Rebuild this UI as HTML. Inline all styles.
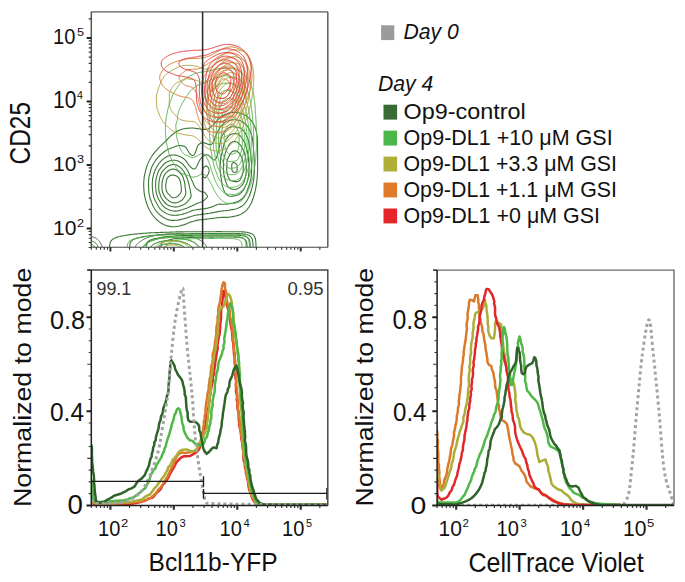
<!DOCTYPE html><html><head><meta charset="utf-8"><style>html,body{margin:0;padding:0;background:#fff;width:685px;height:582px;overflow:hidden}</style></head><body><svg width="685" height="582" viewBox="0 0 685 582" style="position:absolute;left:0;top:0" font-family='"Liberation Sans", sans-serif'><rect width="685" height="582" fill="#fff"/><clipPath id="ctop"><rect x="91.3" y="11.8" width="236.5" height="235.39999999999998"/></clipPath><g clip-path="url(#ctop)"><path d="M234.3,275.3L233.3,275.3L232.3,275.3L231.3,275.3L230.3,275.3L229.3,275.3L228.3,275.3L227.3,275.3L226.3,275.3L225.3,275.3L224.3,275.3L223.3,275.3L222.3,275.3L221.3,275.3L220.3,275.3L219.8,275.3L218.8,275.3L217.8,275.3L217.0,275.3L216.3,275.3L215.3,275.3L214.3,275.3L213.3,275.3L212.3,275.3L211.3,275.4L210.3,275.4L209.3,275.4L208.3,275.3L207.3,275.3L206.3,275.3L205.6,275.3L204.8,275.3L203.8,275.3L202.8,275.3L202.0,275.3L201.3,275.3L200.3,275.3L199.7,275.3L198.8,275.3L197.8,275.3L196.8,275.3L195.8,275.3L194.8,275.3L193.8,275.3L192.8,275.3L191.8,275.2L190.8,275.2L189.8,275.2L188.8,275.2L187.8,275.2L186.8,275.2L185.8,275.2L184.8,275.2L183.8,275.2L182.8,275.2L181.8,275.1L180.8,275.1L179.8,275.1L178.8,275.1L177.8,275.1L176.8,275.1L175.8,275.0L174.8,275.0L173.8,275.0L172.8,275.0L171.8,274.9L170.8,274.9L169.8,274.9L168.8,274.8L168.1,274.8L167.3,274.8L166.3,274.8L165.3,274.7L164.3,274.7L163.3,274.7L162.3,274.6L161.3,274.6L160.3,274.6L159.3,274.5L158.3,274.5L157.3,274.5L156.3,274.4L155.3,274.3L154.8,274.3L153.8,274.3L152.8,274.2L151.8,274.2L150.8,274.1L149.8,274.1L148.8,274.0L147.8,274.0L146.8,273.9L145.8,273.8L145.3,273.8L144.3,273.7L143.3,273.6L142.3,273.5L141.3,273.5L140.3,273.4L139.3,273.3L138.8,273.3L137.8,273.2L136.8,273.1L135.8,273.0L134.8,272.9L133.9,272.8L133.3,272.7L132.3,272.6L131.3,272.5L130.3,272.4L129.3,272.3L128.8,272.2L127.8,272.1L126.8,272.0L125.9,271.8L125.3,271.7L124.3,271.5L123.3,271.3L122.8,271.2L121.8,271.0L120.9,270.8L120.3,270.7L119.3,270.4L118.8,270.3L117.8,270.0L117.2,269.8L116.3,269.5L115.8,269.3L114.8,268.8L114.3,268.5L113.8,268.2L113.1,267.8L112.5,267.3L111.9,266.8L111.5,266.3L111.1,265.8L110.8,265.3L110.3,264.3L110.2,263.8L110.0,262.8L109.9,261.8L109.9,260.8L109.9,259.8L109.9,258.8L109.8,257.8L109.8,256.8L109.8,255.8L109.8,255.3L109.8,254.3L109.7,253.3L109.7,252.3L109.6,251.3L109.6,250.3L109.6,249.3L109.6,248.3L109.6,247.3L109.6,246.3L109.7,245.3L109.8,244.5L109.9,243.8L110.2,242.8L110.3,242.3L110.8,241.3L111.1,240.8L111.5,240.3L112.0,239.8L112.6,239.3L113.3,238.9L113.8,238.6L114.4,238.3L115.3,237.9L115.8,237.7L116.8,237.3L117.3,237.1L118.3,236.8L118.8,236.7L119.8,236.5L120.5,236.3L121.3,236.1L122.3,236.0L123.1,235.8L123.8,235.7L124.8,235.5L125.8,235.3L126.3,235.2L127.3,235.1L128.3,234.9L129.2,234.8L129.8,234.7L130.8,234.6L131.8,234.5L132.8,234.3L133.3,234.3L134.3,234.1L135.3,234.0L136.3,234.0L137.3,233.9L138.3,233.8L138.8,233.8L139.8,233.7L140.8,233.6L141.8,233.5L142.8,233.4L143.8,233.3L144.3,233.3L145.3,233.2L146.3,233.1L147.3,233.0L148.3,233.0L149.3,232.9L150.3,232.9L151.3,232.8L152.3,232.8L152.8,232.8L153.8,232.7L154.8,232.7L155.8,232.6L156.8,232.6L157.8,232.6L158.8,232.5L159.8,232.5L160.8,232.4L161.8,232.4L162.8,232.4L163.8,232.3L164.8,232.3L165.3,232.3L166.3,232.3L167.3,232.2L168.3,232.2L169.3,232.2L170.3,232.1L171.3,232.1L172.3,232.0L173.3,232.0L174.3,232.0L175.3,232.0L176.3,231.9L177.3,231.9L178.3,231.9L179.3,231.9L180.3,231.9L181.3,231.9L182.3,231.9L183.3,231.9L184.3,231.8L185.3,231.8L186.3,231.8L186.8,231.8L187.8,231.8L188.8,231.8L189.8,231.7L190.8,231.7L191.8,231.7L192.8,231.7L193.8,231.7L194.8,231.7L195.8,231.7L196.8,231.7L197.8,231.7L198.8,231.7L199.8,231.7L200.8,231.7L201.8,231.7L202.8,231.7L203.8,231.7L204.8,231.7L205.8,231.7L206.8,231.7L207.8,231.7L208.8,231.7L209.8,231.7L210.8,231.7L211.8,231.7L212.8,231.7L213.8,231.7L214.8,231.7L215.8,231.7L216.8,231.6L217.8,231.6L218.8,231.6L219.8,231.6L220.8,231.6L221.8,231.7L222.8,231.7L223.8,231.7L224.8,231.7L225.8,231.7L226.8,231.7L227.8,231.7L228.8,231.7L229.8,231.7L230.8,231.7L231.8,231.7L232.8,231.7L233.8,231.7L234.8,231.7L235.8,231.7L236.8,231.7L237.8,231.7L238.8,231.7L239.8,231.8L240.5,231.8L241.3,231.8L242.3,231.9L243.3,231.9L244.3,232.0L245.3,232.1L246.3,232.2L246.8,232.3L247.8,232.5L248.8,232.7L249.3,232.9L250.3,233.2L250.8,233.4L251.7,233.8L252.3,234.1L252.8,234.5L253.3,234.9L253.8,235.5L254.3,236.2L254.7,236.8L254.9,237.3L255.2,238.3L255.4,238.8L255.6,239.8L255.7,240.8L255.8,241.8L255.8,242.3L255.9,243.3L255.9,244.3L256.0,245.3L256.0,246.3L256.0,247.3L256.0,248.3L256.0,249.3L256.0,250.3L255.9,251.3L255.9,252.3L255.9,253.3L255.9,254.3L256.0,255.3L256.0,256.3L256.0,257.3L256.0,258.3L256.0,259.3L256.0,260.3L256.0,261.3L256.0,262.3L255.9,263.3L255.9,264.3L255.8,265.3L255.8,265.8L255.7,266.8L255.5,267.8L255.3,268.6L255.1,269.3L254.8,270.0L254.4,270.8L254.0,271.3L253.5,271.8L253.0,272.3L252.3,272.8L251.8,273.1L251.3,273.4L250.3,273.8L249.8,274.0L248.8,274.3L248.3,274.4L247.3,274.6L246.3,274.7L245.8,274.8L244.8,274.9L243.8,275.0L242.8,275.1L241.8,275.2L240.8,275.2L239.8,275.2L238.8,275.3L237.8,275.3L236.8,275.3L235.8,275.3L234.8,275.3L234.3,275.3M239.8,273.3L238.8,273.3L237.8,273.4L236.8,273.4L235.8,273.4L234.8,273.4L233.8,273.4L232.8,273.5L231.8,273.5L230.8,273.5L229.8,273.5L228.8,273.5L227.8,273.5L226.8,273.5L225.8,273.5L224.8,273.5L223.8,273.5L222.8,273.5L221.8,273.5L220.8,273.5L219.8,273.5L218.8,273.5L217.8,273.4L216.8,273.5L215.8,273.5L214.8,273.5L213.8,273.5L212.8,273.5L211.8,273.5L210.8,273.5L209.8,273.5L208.8,273.5L207.8,273.5L206.8,273.5L205.8,273.5L204.8,273.5L203.8,273.5L202.8,273.5L201.8,273.5L200.8,273.5L199.8,273.4L198.8,273.4L197.8,273.4L196.8,273.4L195.8,273.4L194.8,273.4L193.8,273.4L192.8,273.4L191.8,273.4L190.8,273.3L189.8,273.3L188.8,273.3L187.8,273.3L186.9,273.3L186.3,273.3L185.3,273.3L184.3,273.3L183.3,273.2L182.3,273.2L181.3,273.2L180.3,273.1L179.3,273.1L178.3,273.1L177.3,273.1L176.3,273.0L175.3,273.0L174.3,272.9L173.3,272.9L172.3,272.8L171.7,272.8L170.8,272.8L169.8,272.7L168.8,272.7L167.8,272.6L166.8,272.6L165.8,272.5L164.8,272.5L163.8,272.4L162.8,272.4L161.8,272.3L161.3,272.3L160.3,272.2L159.3,272.1L158.3,272.1L157.3,272.0L156.3,271.9L155.6,271.8L154.8,271.7L153.8,271.6L152.8,271.6L151.8,271.5L150.8,271.4L150.3,271.3L149.3,271.2L148.3,271.1L147.3,270.9L146.3,270.8L145.8,270.7L144.8,270.6L143.8,270.4L143.3,270.3L142.3,270.1L141.3,269.9L140.8,269.7L139.8,269.5L138.9,269.3L138.3,269.1L137.3,268.8L136.8,268.7L135.8,268.3L135.3,268.1L134.4,267.8L133.8,267.5L133.3,267.2L132.6,266.8L131.9,266.3L131.5,265.8L131.1,265.3L130.8,264.8L130.3,263.8L130.1,263.3L129.9,262.3L129.8,261.6L129.8,260.8L129.7,259.8L129.7,258.8L129.7,257.8L129.7,256.8L129.7,255.8L129.7,254.8L129.8,253.8L129.8,253.3L129.9,252.3L129.9,251.3L129.9,250.3L129.9,249.3L129.9,248.3L129.9,247.3L129.9,246.3L129.9,245.3L129.9,244.3L130.1,243.3L130.3,242.6L130.7,241.8L131.1,241.3L131.6,240.8L132.2,240.3L132.8,239.9L133.3,239.6L133.9,239.3L134.8,238.9L135.3,238.7L136.3,238.4L136.8,238.3L137.8,238.0L138.8,237.8L139.3,237.7L140.3,237.5L141.0,237.3L141.8,237.1L142.8,236.9L143.3,236.8L144.3,236.6L145.3,236.4L145.9,236.3L146.8,236.2L147.8,236.0L148.8,235.9L149.4,235.8L150.3,235.7L151.3,235.6L152.3,235.5L153.3,235.4L154.3,235.3L154.8,235.3L155.8,235.2L156.8,235.1L157.8,235.0L158.8,235.0L159.8,234.9L160.8,234.8L161.3,234.8L162.3,234.7L163.3,234.6L164.3,234.5L165.3,234.5L166.3,234.4L167.3,234.4L168.3,234.4L169.3,234.3L169.9,234.3L170.8,234.2L171.8,234.2L172.8,234.1L173.8,234.0L174.8,234.0L175.8,234.0L176.8,233.9L177.8,233.9L178.8,233.9L179.8,233.9L180.8,233.9L181.8,233.8L182.7,233.8L183.3,233.8L184.3,233.8L185.3,233.7L186.3,233.7L187.3,233.7L188.3,233.7L189.3,233.7L190.3,233.6L191.3,233.6L192.3,233.6L193.3,233.6L194.3,233.6L195.3,233.6L196.3,233.6L197.3,233.6L198.3,233.6L199.3,233.6L200.3,233.6L201.3,233.6L202.3,233.5L203.3,233.5L204.3,233.5L205.3,233.5L206.3,233.5L207.3,233.5L208.3,233.5L209.3,233.6L210.3,233.6L211.3,233.6L212.3,233.6L213.3,233.6L214.3,233.5L215.3,233.5L216.3,233.5L217.3,233.5L218.3,233.5L219.3,233.5L220.3,233.5L221.3,233.5L222.3,233.5L223.3,233.5L224.3,233.5L225.3,233.5L226.3,233.5L227.3,233.5L228.3,233.5L229.3,233.5L230.3,233.5L231.3,233.5L232.3,233.5L233.3,233.5L234.3,233.5L235.3,233.5L236.3,233.5L237.3,233.6L238.3,233.6L239.3,233.6L240.3,233.7L241.3,233.8L241.8,233.8L242.8,233.9L243.8,234.0L244.8,234.1L245.6,234.3L246.3,234.5L247.3,234.7L247.8,234.9L248.7,235.3L249.3,235.6L249.8,235.9L250.3,236.3L250.8,236.8L251.3,237.5L251.8,238.3L252.0,238.8L252.3,239.7L252.5,240.3L252.7,241.3L252.8,242.3L252.8,242.8L252.9,243.8L253.0,244.8L253.0,245.8L253.0,246.8L253.0,247.8L253.0,248.8L253.0,249.8L253.0,250.8L253.0,251.8L253.0,252.8L252.9,253.8L252.9,254.8L252.9,255.8L252.9,256.8L252.9,257.8L253.0,258.8L253.0,259.8L253.0,260.8L253.0,261.8L253.0,262.8L252.9,263.8L252.9,264.8L252.8,265.3L252.6,266.3L252.4,267.3L252.3,267.8L251.8,268.8L251.5,269.3L251.2,269.8L250.7,270.3L250.1,270.8L249.4,271.3L248.8,271.6L248.3,271.9L247.3,272.3L246.8,272.4L245.8,272.7L245.1,272.8L244.3,272.9L243.3,273.1L242.3,273.2L241.3,273.2L240.3,273.3L239.8,273.3M231.3,271.8L230.3,271.8L229.3,271.8L228.3,271.9L227.3,271.9L226.3,271.9L225.3,271.8L224.3,271.8L223.3,271.8L222.3,271.9L221.3,271.9L220.3,271.9L219.3,271.8L218.3,271.8L217.3,271.8L216.3,271.8L215.3,271.8L214.3,271.9L213.3,271.9L212.3,271.9L211.3,271.9L210.3,271.9L209.3,271.9L208.3,271.9L207.3,271.8L206.3,271.8L205.5,271.8L205.1,271.8L204.3,271.8L203.3,271.8L202.3,271.8L201.3,271.8L200.7,271.8L199.8,271.8L198.8,271.8L197.8,271.7L196.8,271.7L195.8,271.7L194.8,271.7L193.8,271.7L192.8,271.7L191.8,271.6L190.8,271.6L189.8,271.6L188.8,271.6L187.8,271.6L186.8,271.6L185.8,271.5L184.8,271.5L183.8,271.5L182.8,271.4L181.8,271.4L180.8,271.3L180.2,271.3L179.3,271.3L178.3,271.2L177.3,271.1L176.3,271.0L175.3,270.9L174.3,270.9L173.5,270.8L172.8,270.8L171.8,270.7L170.8,270.6L169.8,270.6L168.8,270.5L167.8,270.4L166.8,270.3L166.3,270.3L165.3,270.2L164.3,270.1L163.3,270.0L162.3,269.9L161.5,269.8L160.8,269.7L159.8,269.5L158.9,269.3L158.3,269.2L157.3,269.0L156.5,268.8L155.8,268.7L154.8,268.5L154.0,268.3L153.3,268.1L152.3,267.9L151.8,267.7L150.8,267.3L150.3,267.1L149.5,266.8L148.8,266.4L148.3,266.1L147.8,265.7L147.3,265.1L146.8,264.4L146.5,263.8L146.2,263.3L145.9,262.3L145.7,261.8L145.5,260.8L145.3,259.9L145.2,259.3L145.1,258.3L145.1,257.3L145.1,256.3L145.3,255.3L145.3,254.8L145.4,253.8L145.5,252.8L145.5,251.8L145.5,250.8L145.6,249.8L145.8,248.8L145.9,248.3L146.0,247.3L146.1,246.3L146.2,245.3L146.3,244.6L146.5,243.8L146.8,243.0L147.2,242.3L147.6,241.8L148.2,241.3L148.8,240.8L149.3,240.6L149.8,240.3L150.8,239.9L151.3,239.7L152.3,239.3L152.8,239.2L153.8,238.9L154.3,238.8L155.3,238.5L156.3,238.3L156.8,238.2L157.8,238.0L158.8,237.8L159.3,237.7L160.3,237.5L161.3,237.4L161.8,237.3L162.8,237.1L163.8,236.9L164.8,236.8L165.3,236.7L166.3,236.7L167.3,236.6L168.3,236.5L169.3,236.4L170.3,236.3L170.8,236.3L171.8,236.2L172.8,236.1L173.8,236.0L174.8,236.0L175.8,235.9L176.8,235.9L177.8,235.8L178.4,235.8L179.3,235.8L180.3,235.7L181.3,235.7L182.3,235.6L183.3,235.6L184.3,235.5L185.3,235.5L186.3,235.5L187.3,235.5L188.3,235.4L189.3,235.4L190.3,235.4L191.3,235.4L192.3,235.4L193.3,235.3L194.3,235.3L194.8,235.3L195.8,235.3L196.8,235.2L197.8,235.2L198.8,235.2L199.8,235.2L200.8,235.2L201.8,235.2L202.8,235.2L203.8,235.2L204.8,235.2L205.8,235.2L206.8,235.2L207.8,235.2L208.8,235.2L209.8,235.2L210.8,235.2L211.8,235.2L212.8,235.2L213.8,235.2L214.8,235.2L215.8,235.1L216.8,235.1L217.8,235.1L218.8,235.1L219.8,235.1L220.8,235.1L221.8,235.1L222.8,235.1L223.8,235.1L224.8,235.1L225.8,235.1L226.8,235.1L227.8,235.1L228.8,235.1L229.8,235.1L230.8,235.1L231.8,235.1L232.8,235.2L233.8,235.2L234.8,235.2L235.8,235.2L236.8,235.2L237.8,235.2L238.6,235.3L239.3,235.4L240.3,235.4L241.3,235.6L242.3,235.7L243.0,235.8L243.8,236.0L244.8,236.2L245.3,236.4L246.3,236.8L246.8,237.0L247.3,237.3L247.9,237.8L248.4,238.3L248.8,238.9L249.3,239.8L249.5,240.3L249.8,241.3L249.9,241.8L250.0,242.8L250.1,243.8L250.2,244.8L250.2,245.8L250.2,246.8L250.2,247.8L250.2,248.8L250.3,249.8L250.3,250.7L250.3,251.3L250.3,252.3L250.3,253.3L250.3,253.8L250.3,254.8L250.2,255.8L250.2,256.8L250.2,257.8L250.3,258.8L250.3,259.3L250.3,260.3L250.3,261.3L250.3,262.3L250.3,262.9L250.2,263.8L250.1,264.8L249.9,265.8L249.8,266.3L249.4,267.3L249.1,267.8L248.8,268.3L248.3,268.9L247.8,269.3L247.1,269.8L246.3,270.2L245.8,270.5L244.8,270.8L244.3,270.9L243.3,271.2L242.5,271.3L241.8,271.4L240.8,271.5L239.8,271.6L238.8,271.6L237.8,271.7L236.8,271.7L235.8,271.8L234.8,271.8L233.8,271.8L232.8,271.8L231.8,271.8L231.3,271.8M236.8,269.8L235.8,269.9L234.8,269.9L233.8,269.9L232.8,269.9L231.8,269.9L230.8,269.9L229.8,269.9L228.8,269.9L227.8,269.9L226.8,270.0L225.8,270.0L224.8,270.0L223.8,270.0L222.8,270.0L221.8,270.1L220.8,270.1L219.8,270.1L218.8,270.0L217.8,270.0L216.8,270.0L215.8,270.0L214.8,270.0L213.8,270.0L212.8,270.1L211.8,270.0L210.8,270.0L209.8,270.0L208.8,270.0L207.8,270.0L206.8,269.9L205.8,269.9L204.8,269.9L203.8,269.9L202.8,269.9L201.8,269.9L200.8,269.9L199.8,269.9L198.8,269.9L197.8,269.9L196.8,269.8L196.1,269.8L195.3,269.8L194.3,269.7L193.3,269.6L192.3,269.6L191.3,269.5L190.3,269.5L189.3,269.5L188.3,269.5L187.3,269.5L186.3,269.4L185.3,269.3L184.8,269.3L183.8,269.2L182.8,269.1L181.8,269.1L180.8,269.0L179.8,268.9L178.8,268.8L178.3,268.7L177.3,268.6L176.3,268.4L175.8,268.3L174.8,268.1L173.8,267.9L172.8,267.8L172.3,267.8L171.3,267.6L170.3,267.4L169.8,267.3L168.8,267.1L167.8,266.8L167.3,266.7L166.3,266.4L165.8,266.3L164.8,265.9L164.3,265.7L163.7,265.3L163.0,264.8L162.5,264.3L162.1,263.8L161.8,263.3L161.4,262.3L161.2,261.8L161.1,260.8L161.0,259.8L161.1,258.8L161.1,257.8L161.2,256.8L161.3,256.0L161.3,255.3L161.3,254.6L161.2,253.8L161.1,252.8L161.1,251.8L161.2,250.8L161.3,250.2L161.4,249.3L161.5,248.3L161.4,247.3L161.3,246.6L161.2,245.8L161.1,244.8L161.2,243.8L161.5,243.3L162.0,242.8L162.7,242.3L163.3,242.0L163.8,241.7L164.7,241.3L165.3,241.1L166.0,240.8L166.8,240.6L167.8,240.3L168.3,240.2L169.3,239.9L169.8,239.8L170.8,239.5L171.5,239.3L172.3,239.1L173.3,239.0L174.3,238.8L174.8,238.8L175.8,238.6L176.8,238.5L177.8,238.3L178.3,238.3L179.3,238.2L180.3,238.1L181.3,238.0L182.3,237.9L183.3,237.8L183.8,237.8L184.8,237.7L185.8,237.7L186.8,237.7L187.8,237.6L188.8,237.5L189.8,237.5L190.8,237.5L191.8,237.4L192.8,237.4L193.8,237.3L194.3,237.3L195.3,237.2L196.3,237.2L197.3,237.1L198.3,237.1L199.3,237.1L200.3,237.1L201.3,237.1L202.3,237.0L203.3,237.0L204.3,237.0L205.3,237.0L206.3,237.0L207.3,237.0L208.3,237.0L209.3,237.1L210.3,237.1L211.3,237.1L212.3,237.1L213.3,237.1L214.3,237.0L215.3,237.0L216.3,237.0L217.3,236.9L218.3,237.0L219.3,237.0L220.3,237.0L221.3,237.1L222.3,237.1L223.3,237.0L224.3,237.0L225.3,237.0L226.3,237.0L227.3,237.0L228.3,237.0L229.3,237.0L230.3,237.0L231.3,237.0L232.3,237.0L233.3,237.0L234.3,237.1L235.3,237.1L236.3,237.1L237.3,237.2L238.3,237.3L238.8,237.3L239.8,237.5L240.8,237.7L241.3,237.8L242.3,238.1L243.0,238.3L243.8,238.7L244.3,239.0L244.8,239.4L245.3,239.9L245.8,240.6L246.2,241.3L246.4,241.8L246.7,242.8L246.8,243.4L246.9,244.3L247.0,245.3L247.0,246.3L247.0,247.3L247.0,248.3L247.0,249.3L247.0,250.3L247.1,251.3L247.2,252.3L247.2,253.3L247.3,254.3L247.2,255.3L247.2,256.3L247.2,257.3L247.1,258.3L247.1,259.3L247.1,260.3L247.1,261.3L247.1,262.3L247.0,263.3L246.9,264.3L246.7,264.8L246.4,265.8L246.1,266.3L245.7,266.8L245.3,267.3L244.7,267.8L244.0,268.3L243.3,268.6L242.8,268.8L241.8,269.1L240.8,269.3L240.3,269.4L239.3,269.5L238.3,269.7L237.3,269.8L236.8,269.8" stroke="#3b7535" stroke-width="1.1" fill="none" stroke-linejoin="round"/><path d="M177.8,265.8L176.8,265.9L175.8,266.0L174.8,266.0L173.8,266.1L172.8,266.1L171.8,266.1L170.8,266.1L169.8,266.1L168.8,266.1L167.8,266.1L166.8,266.0L165.8,266.0L164.8,265.9L163.8,265.8L163.3,265.8L162.3,265.7L161.3,265.5L160.3,265.4L159.8,265.3L158.8,265.2L157.8,265.0L156.8,264.9L156.3,264.8L155.3,264.6L154.3,264.4L153.8,264.3L152.8,264.0L151.9,263.8L151.3,263.7L150.3,263.3L149.8,263.2L148.8,262.8L148.3,262.6L147.4,262.3L146.8,262.1L146.2,261.8L145.3,261.4L144.8,261.2L144.1,260.8L143.3,260.4L142.8,260.1L142.2,259.8L141.4,259.3L140.8,258.9L140.3,258.6L139.8,258.3L139.1,257.8L138.4,257.3L137.8,256.8L137.3,256.3L136.9,255.8L136.5,255.3L136.1,254.8L135.8,254.3L135.3,253.3L135.1,252.8L134.9,251.8L134.8,251.3L134.7,250.3L134.7,249.3L134.8,248.5L135.0,247.8L135.3,246.8L135.5,246.3L135.8,245.8L136.3,245.1L136.8,244.4L137.3,243.9L137.8,243.4L138.3,243.0L138.8,242.6L139.3,242.2L139.8,241.8L140.5,241.3L141.2,240.8L141.8,240.5L142.3,240.2L142.9,239.8L143.8,239.3L144.3,239.1L144.9,238.8L145.8,238.4L146.3,238.2L147.2,237.8L147.8,237.5L148.5,237.3L149.3,237.0L150.0,236.8L150.8,236.6L151.8,236.3L152.3,236.2L153.3,236.0L154.1,235.8L154.8,235.6L155.8,235.4L156.3,235.3L157.3,235.1L158.3,234.9L159.2,234.8L159.8,234.7L160.8,234.6L161.8,234.5L162.8,234.4L163.8,234.3L164.3,234.3L165.3,234.2L166.3,234.1L167.3,234.0L168.3,234.0L169.3,233.9L170.3,233.9L171.3,233.9L172.3,234.0L173.3,234.0L174.3,234.0L175.3,234.0L176.3,234.1L177.3,234.1L178.3,234.2L178.9,234.3L179.8,234.4L180.8,234.5L181.8,234.6L182.8,234.8L183.3,234.9L184.3,235.0L185.3,235.2L185.8,235.3L186.8,235.5L187.8,235.7L188.3,235.9L189.3,236.1L190.1,236.3L190.8,236.5L191.8,236.7L192.3,236.9L193.3,237.2L193.8,237.4L194.8,237.8L195.3,238.0L196.1,238.3L196.8,238.6L197.3,238.8L198.3,239.3L198.8,239.6L199.3,239.8L200.1,240.3L200.8,240.7L201.3,241.0L201.8,241.4L202.4,241.8L203.0,242.3L203.6,242.8L204.2,243.3L204.6,243.8L205.1,244.3L205.5,244.8L205.8,245.3L206.3,246.1L206.7,246.8L206.9,247.3L207.3,248.3L207.4,248.8L207.5,249.8L207.5,250.8L207.3,251.8L207.2,252.3L206.8,253.2L206.5,253.8L206.2,254.3L205.8,254.9L205.3,255.5L204.8,256.1L204.3,256.6L203.8,257.1L203.3,257.5L202.8,257.9L202.3,258.3L201.5,258.8L200.8,259.3L200.3,259.6L199.8,259.9L199.0,260.3L198.3,260.7L197.8,261.0L197.1,261.3L196.3,261.7L195.8,261.9L194.8,262.2L194.3,262.4L193.3,262.8L192.8,262.9L191.8,263.3L191.3,263.4L190.3,263.7L189.8,263.9L188.8,264.1L188.0,264.3L187.3,264.4L186.3,264.6L185.4,264.8L184.8,264.9L183.8,265.1L182.8,265.3L182.3,265.3L181.3,265.5L180.3,265.6L179.3,265.7L178.3,265.8L177.8,265.8M175.8,262.3L174.8,262.4L173.8,262.5L172.8,262.5L171.8,262.5L170.8,262.5L169.8,262.4L168.8,262.4L167.8,262.4L166.8,262.3L166.2,262.3L165.3,262.2L164.3,262.1L163.3,262.0L162.3,261.8L161.8,261.7L160.8,261.6L159.8,261.4L159.2,261.3L158.3,261.1L157.3,260.9L156.8,260.8L155.8,260.6L154.9,260.3L154.3,260.1L153.4,259.8L152.8,259.6L152.1,259.3L151.3,259.0L150.8,258.8L149.8,258.3L149.3,258.0L148.8,257.8L148.0,257.3L147.3,256.9L146.8,256.5L146.3,256.1L145.8,255.6L145.3,255.1L144.8,254.4L144.4,253.8L144.1,253.3L143.8,252.8L143.3,251.8L143.1,251.3L142.9,250.3L142.8,249.8L142.8,248.8L142.8,248.3L143.2,247.3L143.5,246.8L143.9,246.3L144.3,245.8L144.8,245.3L145.4,244.8L146.0,244.3L146.7,243.8L147.3,243.3L147.8,243.0L148.3,242.6L148.8,242.3L149.7,241.8L150.3,241.5L150.8,241.2L151.8,240.8L152.3,240.6L153.2,240.3L153.8,240.1L154.8,239.8L155.3,239.6L156.3,239.3L156.8,239.2L157.8,238.9L158.3,238.8L159.3,238.6L160.3,238.4L161.1,238.3L161.8,238.2L162.8,238.1L163.8,238.0L164.8,237.9L165.8,237.8L166.3,237.8L167.3,237.7L168.3,237.6L169.3,237.5L170.3,237.5L171.3,237.4L172.3,237.5L173.3,237.5L174.3,237.6L175.3,237.6L176.3,237.7L176.8,237.8L177.8,237.9L178.8,238.1L179.8,238.2L180.3,238.3L181.3,238.4L182.3,238.6L183.3,238.8L183.8,238.9L184.8,239.2L185.3,239.3L186.3,239.7L186.8,239.8L187.8,240.1L188.5,240.3L189.3,240.5L190.2,240.8L190.8,241.0L191.5,241.3L192.3,241.7L192.8,241.9L193.4,242.3L194.2,242.8L194.8,243.2L195.3,243.6L195.8,244.0L196.3,244.4L196.8,244.9L197.3,245.5L197.8,246.1L198.3,246.7L198.7,247.3L198.9,247.8L199.3,248.8L199.4,249.3L199.4,250.3L199.3,251.0L199.1,251.8L198.8,252.4L198.3,253.3L198.0,253.8L197.6,254.3L197.2,254.8L196.7,255.3L196.2,255.8L195.6,256.3L195.0,256.8L194.3,257.2L193.8,257.5L193.3,257.8L192.3,258.3L191.8,258.5L191.1,258.8L190.3,259.1L189.8,259.4L188.8,259.8L188.3,260.0L187.3,260.3L186.8,260.4L185.8,260.7L185.3,260.8L184.3,261.0L183.3,261.2L182.8,261.3L181.8,261.5L180.8,261.7L179.9,261.8L179.3,261.9L178.3,262.0L177.3,262.2L176.3,262.3L175.8,262.3M175.3,259.3L174.3,259.4L173.3,259.5L172.3,259.5L171.3,259.5L170.3,259.4L169.3,259.4L168.3,259.4L167.3,259.4L166.6,259.3L165.8,259.2L164.8,259.0L163.8,258.8L163.3,258.7L162.3,258.6L161.3,258.4L160.8,258.3L159.8,258.0L158.9,257.8L158.3,257.6L157.3,257.3L156.8,257.1L156.0,256.8L155.3,256.5L154.8,256.2L154.0,255.8L153.3,255.4L152.8,255.1L152.3,254.8L151.7,254.3L151.1,253.8L150.7,253.3L150.3,252.8L149.8,251.8L149.7,251.3L149.6,250.3L149.7,249.3L149.8,248.7L150.2,247.8L150.4,247.3L150.8,246.8L151.3,246.2L151.8,245.8L152.4,245.3L153.1,244.8L153.8,244.4L154.3,244.1L154.8,243.8L155.7,243.3L156.3,243.0L156.8,242.8L157.8,242.5L158.3,242.3L159.3,242.0L160.1,241.8L160.8,241.6L161.8,241.4L162.4,241.3L163.3,241.2L164.3,241.0L165.3,240.9L166.3,240.9L167.1,240.8L167.8,240.7L168.8,240.6L169.8,240.6L170.8,240.5L171.8,240.6L172.8,240.6L173.8,240.7L174.8,240.7L175.8,240.8L176.3,240.8L177.3,241.0L178.3,241.2L179.0,241.3L179.8,241.5L180.8,241.7L181.3,241.9L182.3,242.1L183.0,242.3L183.8,242.5L184.6,242.8L185.3,243.0L186.0,243.3L186.8,243.6L187.3,243.8L188.3,244.3L188.8,244.6L189.3,244.9L190.0,245.3L190.6,245.8L191.1,246.3L191.5,246.8L191.8,247.3L192.3,248.2L192.5,248.8L192.6,249.8L192.4,250.8L192.3,251.3L191.9,252.3L191.6,252.8L191.2,253.3L190.7,253.8L190.2,254.3L189.5,254.8L188.8,255.3L188.3,255.5L187.8,255.8L186.8,256.3L186.3,256.5L185.6,256.8L184.8,257.1L184.3,257.3L183.3,257.7L182.8,257.9L181.8,258.2L181.2,258.3L180.3,258.5L179.3,258.7L178.6,258.8L177.8,258.9L176.8,259.1L175.8,259.2L175.3,259.3M174.3,256.3L173.3,256.4L172.3,256.5L171.3,256.5L170.3,256.4L169.3,256.3L168.8,256.3L167.8,256.2L166.8,256.0L165.8,255.8L165.3,255.7L164.3,255.4L163.8,255.3L162.8,255.0L162.2,254.8L161.3,254.5L160.8,254.3L159.8,253.9L159.3,253.6L158.7,253.3L158.1,252.8L157.6,252.3L157.3,251.7L157.0,250.8L156.9,249.8L157.0,248.8L157.3,248.2L157.8,247.4L158.3,246.9L158.8,246.5L159.3,246.2L160.1,245.8L160.8,245.5L161.3,245.3L162.3,244.9L162.8,244.7L163.8,244.4L164.3,244.3L165.3,244.1L166.3,244.0L167.3,243.9L168.3,243.9L169.3,243.8L169.8,243.8L170.8,243.8L171.3,243.8L172.3,243.8L173.3,243.9L174.3,243.9L175.3,244.0L176.3,244.1L177.3,244.2L177.8,244.3L178.8,244.6L179.3,244.8L180.3,245.2L180.8,245.4L181.6,245.8L182.3,246.2L182.8,246.5L183.3,246.9L183.8,247.3L184.4,247.8L184.8,248.3L185.3,249.2L185.5,249.8L185.4,250.8L185.1,251.3L184.8,251.8L184.3,252.3L183.7,252.8L183.1,253.3L182.4,253.8L181.8,254.2L181.3,254.5L180.7,254.8L179.8,255.1L179.3,255.3L178.3,255.5L177.3,255.8L176.8,255.9L175.8,256.1L174.8,256.3L174.3,256.3" stroke="#3b7535" stroke-width="1.0" fill="none" stroke-linejoin="round"/><path d="M90.8,265.3L89.8,265.4L89.1,265.3L88.3,265.2L87.3,265.0L86.8,264.8L85.8,264.4L85.3,264.2L84.5,263.8L83.8,263.4L83.3,263.1L82.8,262.7L82.3,262.3L81.8,261.8L81.2,261.3L80.8,260.8L80.3,260.2L79.8,259.5L79.4,258.8L79.1,258.3L78.8,257.6L78.4,256.8L78.3,256.3L77.9,255.3L77.8,254.7L77.6,253.8L77.5,252.8L77.4,251.8L77.4,250.8L77.4,249.8L77.6,248.8L77.8,247.8L77.9,247.3L78.2,246.3L78.4,245.8L78.7,244.8L78.9,244.3L79.3,243.5L79.7,242.8L80.0,242.3L80.3,241.8L80.8,241.2L81.3,240.6L81.8,240.0L82.3,239.6L82.8,239.2L83.3,238.8L84.1,238.3L84.8,237.9L85.3,237.7L86.3,237.3L86.8,237.1L87.8,236.9L88.5,236.8L89.3,236.7L90.3,236.7L91.3,236.7L91.8,236.8L92.8,237.0L93.8,237.3L94.3,237.5L95.0,237.8L95.8,238.2L96.3,238.5L96.8,238.8L97.4,239.3L98.0,239.8L98.5,240.3L98.9,240.8L99.3,241.3L99.8,241.9L100.3,242.7L100.7,243.3L100.9,243.8L101.3,244.7L101.6,245.3L101.8,246.0L102.1,246.8L102.3,247.8L102.4,248.3L102.5,249.3L102.6,250.3L102.6,251.3L102.6,252.3L102.5,253.3L102.3,254.3L102.2,254.8L101.9,255.8L101.7,256.3L101.3,257.3L101.1,257.8L100.8,258.3L100.3,259.2L99.9,259.8L99.5,260.3L99.1,260.8L98.7,261.3L98.2,261.8L97.7,262.3L97.1,262.8L96.4,263.3L95.8,263.7L95.3,264.0L94.7,264.3L93.8,264.7L93.3,264.9L92.3,265.1L91.3,265.3L90.8,265.3M91.8,260.8L90.8,261.0L89.8,261.0L88.8,260.9L88.1,260.8L87.3,260.6L86.6,260.3L85.8,259.9L85.3,259.6L84.8,259.2L84.3,258.8L83.8,258.3L83.3,257.7L82.8,257.0L82.4,256.3L82.2,255.8L81.8,254.8L81.6,254.3L81.4,253.3L81.3,252.8L81.1,251.8L81.1,250.8L81.1,249.8L81.3,248.8L81.4,248.3L81.8,247.3L82.0,246.8L82.3,246.1L82.8,245.3L83.1,244.8L83.5,244.3L83.9,243.8L84.4,243.3L85.0,242.8L85.6,242.3L86.3,241.9L86.8,241.6L87.7,241.3L88.3,241.1L89.3,240.9L90.3,240.9L91.3,240.9L92.3,241.2L92.8,241.3L93.8,241.8L94.3,242.1L94.8,242.4L95.3,242.8L95.9,243.3L96.3,243.8L96.8,244.4L97.3,245.2L97.6,245.8L97.8,246.3L98.2,247.3L98.4,247.8L98.6,248.8L98.8,249.8L98.8,250.3L98.8,251.3L98.8,251.8L98.7,252.8L98.5,253.8L98.3,254.5L98.0,255.3L97.8,255.8L97.3,256.7L96.9,257.3L96.5,257.8L96.1,258.3L95.5,258.8L94.9,259.3L94.3,259.8L93.8,260.1L93.3,260.3L92.3,260.7L91.8,260.8M91.8,257.4L90.8,257.6L89.8,257.6L88.8,257.5L88.0,257.3L87.3,257.0L86.8,256.7L86.3,256.3L85.8,255.8L85.3,255.2L84.8,254.3L84.6,253.8L84.3,252.8L84.2,252.3L84.1,251.3L84.1,250.3L84.2,249.3L84.3,248.8L84.7,247.8L85.0,247.3L85.3,246.8L85.8,246.3L86.3,245.8L86.9,245.3L87.8,244.8L88.3,244.6L89.3,244.3L89.8,244.3L90.7,244.3L91.3,244.4L92.3,244.8L92.8,245.0L93.3,245.4L93.8,245.8L94.3,246.4L94.8,247.0L95.2,247.8L95.5,248.3L95.8,249.3L95.9,249.8L96.0,250.8L95.9,251.8L95.8,252.3L95.5,253.3L95.3,253.9L94.8,254.8L94.5,255.3L94.1,255.8L93.6,256.3L92.9,256.8L92.3,257.1L91.8,257.4" stroke="#3b7535" stroke-width="1.0" fill="none" stroke-linejoin="round"/><path d="M231.3,272.8L230.3,272.8L229.3,272.8L228.3,272.8L227.3,272.8L226.3,272.8L225.3,272.8L224.3,272.9L223.3,272.9L222.3,272.9L221.3,272.9L220.3,272.9L219.3,272.9L218.3,272.9L217.3,272.9L216.3,272.9L215.3,272.9L214.3,272.9L213.3,272.9L212.3,272.9L211.3,272.9L210.3,272.9L209.3,272.9L208.3,272.8L207.3,272.8L206.3,272.8L205.3,272.8L204.3,272.8L203.3,272.8L202.3,272.8L201.3,272.8L200.3,272.8L199.3,272.8L198.3,272.8L197.3,272.8L196.3,272.8L195.3,272.8L194.3,272.8L193.4,272.8L192.8,272.8L191.8,272.8L190.8,272.8L189.8,272.8L188.8,272.7L187.8,272.7L186.8,272.7L185.8,272.7L184.8,272.7L183.8,272.6L182.8,272.6L181.8,272.6L180.8,272.6L179.8,272.6L178.8,272.5L177.8,272.5L176.8,272.5L175.8,272.4L174.8,272.4L173.8,272.4L172.8,272.4L171.8,272.3L171.1,272.3L170.3,272.3L169.3,272.2L168.3,272.2L167.3,272.1L166.3,272.1L165.3,272.0L164.3,272.0L163.3,271.9L162.3,271.9L161.3,271.8L160.4,271.8L159.8,271.8L158.8,271.7L157.8,271.6L156.8,271.5L155.8,271.5L154.8,271.4L154.0,271.3L153.3,271.3L152.3,271.2L151.3,271.1L150.3,271.0L149.3,270.9L148.6,270.8L147.8,270.7L146.8,270.6L145.8,270.4L144.9,270.3L144.3,270.2L143.3,270.1L142.3,270.0L141.3,269.8L140.8,269.7L139.8,269.6L138.8,269.4L138.3,269.3L137.3,269.1L136.3,268.9L135.8,268.7L134.8,268.5L134.2,268.3L133.3,268.0L132.8,267.8L131.8,267.3L131.3,267.1L130.8,266.8L130.0,266.3L129.4,265.8L128.8,265.3L128.4,264.8L128.0,264.3L127.7,263.8L127.3,262.8L127.2,262.3L127.1,261.3L127.1,260.3L127.2,259.3L127.3,258.3L127.3,257.8L127.4,256.8L127.5,255.8L127.5,254.8L127.4,253.8L127.3,252.8L127.3,252.3L127.3,251.3L127.3,250.3L127.3,249.8L127.4,248.8L127.4,247.8L127.3,246.8L127.4,245.8L127.5,244.8L127.8,243.8L127.9,243.3L128.3,242.5L128.8,241.8L129.2,241.3L129.8,240.8L130.3,240.5L130.8,240.2L131.6,239.8L132.3,239.5L132.9,239.3L133.8,239.0L134.4,238.8L135.3,238.5L136.1,238.3L136.8,238.1L137.8,237.9L138.3,237.8L139.3,237.5L140.3,237.4L140.8,237.3L141.8,237.1L142.8,237.0L143.8,236.8L144.3,236.7L145.3,236.6L146.3,236.5L147.3,236.4L147.9,236.3L148.8,236.2L149.8,236.1L150.8,236.0L151.8,235.9L152.4,235.8L153.3,235.7L154.3,235.6L155.3,235.5L156.3,235.5L157.3,235.4L158.3,235.3L159.0,235.3L159.8,235.3L160.8,235.2L161.8,235.1L162.8,235.1L163.8,235.0L164.8,235.0L165.8,235.0L166.8,234.9L167.8,234.9L168.8,234.8L169.3,234.8L170.3,234.7L171.3,234.7L172.3,234.6L173.3,234.6L174.3,234.6L175.3,234.6L176.3,234.5L177.3,234.5L178.3,234.5L179.3,234.4L180.3,234.4L181.3,234.4L182.3,234.4L183.3,234.4L184.3,234.4L185.3,234.3L186.3,234.3L187.0,234.3L187.8,234.3L188.8,234.3L189.8,234.2L190.8,234.2L191.8,234.2L192.8,234.2L193.8,234.2L194.8,234.2L195.8,234.2L196.8,234.2L197.8,234.2L198.8,234.2L199.8,234.2L200.8,234.2L201.8,234.2L202.8,234.2L203.8,234.1L204.8,234.1L205.8,234.1L206.8,234.1L207.8,234.1L208.8,234.1L209.8,234.1L210.8,234.2L211.8,234.2L212.8,234.2L213.8,234.2L214.8,234.2L215.8,234.2L216.8,234.2L217.8,234.1L218.8,234.1L219.8,234.1L220.8,234.1L221.8,234.1L222.8,234.1L223.8,234.1L224.8,234.1L225.8,234.1L226.8,234.1L227.8,234.1L228.8,234.2L229.8,234.2L230.8,234.2L231.8,234.2L232.8,234.2L233.8,234.2L234.8,234.2L235.8,234.3L236.3,234.3L237.3,234.3L238.3,234.4L239.3,234.5L240.3,234.6L241.3,234.8L241.8,234.9L242.8,235.1L243.6,235.3L244.3,235.5L245.0,235.8L245.8,236.2L246.3,236.6L246.8,237.0L247.3,237.5L247.8,238.1L248.2,238.8L248.4,239.3L248.7,240.3L248.8,240.8L249.0,241.8L249.2,242.8L249.2,243.8L249.3,244.8L249.3,245.8L249.3,246.7L249.3,247.3L249.3,248.3L249.4,249.3L249.4,250.3L249.4,251.3L249.4,252.3L249.4,253.3L249.3,254.3L249.3,255.3L249.3,256.3L249.3,257.0L249.3,257.8L249.3,258.3L249.3,259.3L249.3,260.3L249.3,260.8L249.3,261.8L249.2,262.8L249.2,263.8L249.1,264.8L248.9,265.8L248.8,266.3L248.5,267.3L248.3,267.9L247.8,268.8L247.5,269.3L247.0,269.8L246.5,270.3L245.8,270.8L245.3,271.1L244.8,271.3L243.8,271.7L243.3,271.8L242.3,272.1L241.3,272.2L240.8,272.3L239.8,272.4L238.8,272.5L237.8,272.6L236.8,272.7L235.8,272.7L234.8,272.7L233.8,272.8L232.8,272.8L231.8,272.8L231.3,272.8M227.3,270.8L226.3,270.8L225.3,270.9L224.3,270.9L223.3,270.9L222.3,270.9L221.3,270.9L220.3,270.9L219.3,270.9L218.3,270.8L217.3,270.8L216.3,270.8L215.3,270.9L214.3,270.9L213.3,270.9L212.3,270.9L211.3,270.9L210.3,270.9L209.3,270.9L208.3,270.9L207.3,270.8L206.3,270.8L205.3,270.8L204.3,270.8L203.8,270.8L202.8,270.8L201.9,270.8L201.3,270.8L200.3,270.8L199.3,270.8L198.3,270.8L197.3,270.8L196.3,270.8L195.3,270.8L194.7,270.8L193.8,270.8L192.8,270.8L191.8,270.7L190.8,270.7L189.8,270.7L188.8,270.7L187.8,270.7L186.8,270.6L185.8,270.6L184.8,270.6L183.8,270.5L182.8,270.5L181.8,270.4L180.8,270.4L179.8,270.3L179.3,270.3L178.3,270.2L177.3,270.2L176.3,270.1L175.3,270.1L174.3,270.0L173.3,270.0L172.3,270.0L171.3,269.9L170.3,269.8L169.8,269.8L168.8,269.6L167.8,269.5L166.8,269.4L165.9,269.3L165.3,269.2L164.3,269.2L163.3,269.1L162.3,269.0L161.3,268.8L160.8,268.8L159.8,268.6L158.8,268.4L158.3,268.3L157.3,268.1L156.3,267.9L155.8,267.8L154.8,267.6L153.8,267.4L153.3,267.2L152.3,267.0L151.8,266.8L150.8,266.3L150.3,266.0L149.8,265.6L149.3,265.1L148.8,264.6L148.3,263.9L147.9,263.3L147.6,262.8L147.3,262.0L147.1,261.3L146.9,260.3L146.8,259.7L146.7,258.8L146.6,257.8L146.6,256.8L146.6,255.8L146.7,254.8L146.7,253.8L146.7,252.8L146.6,251.8L146.6,250.8L146.6,249.8L146.5,248.8L146.5,247.8L146.5,246.8L146.6,245.8L146.8,245.1L147.1,244.3L147.3,243.8L147.8,242.9L148.3,242.3L148.8,241.8L149.3,241.5L149.8,241.2L150.6,240.8L151.3,240.5L151.9,240.3L152.8,240.0L153.4,239.8L154.3,239.5L155.2,239.3L155.8,239.2L156.8,238.9L157.5,238.8L158.3,238.7L159.3,238.5L160.3,238.3L160.8,238.3L161.8,238.1L162.8,238.0L163.8,237.9L164.3,237.8L165.3,237.7L166.3,237.6L167.3,237.5L168.3,237.4L169.2,237.3L169.8,237.2L170.8,237.1L171.8,237.1L172.8,237.0L173.8,236.9L174.8,236.9L175.8,236.8L176.3,236.8L177.3,236.7L178.3,236.7L179.3,236.7L180.3,236.7L181.3,236.6L182.3,236.6L183.3,236.6L184.3,236.5L185.3,236.5L186.3,236.4L187.3,236.4L188.3,236.3L189.3,236.3L190.3,236.3L190.9,236.3L191.8,236.3L192.8,236.3L193.8,236.2L194.8,236.2L195.8,236.2L196.8,236.2L197.8,236.2L198.8,236.2L199.8,236.2L200.8,236.2L201.8,236.2L202.8,236.2L203.8,236.2L204.8,236.1L205.8,236.1L206.8,236.1L207.8,236.1L208.8,236.1L209.8,236.1L210.8,236.1L211.8,236.2L212.8,236.2L213.8,236.2L214.8,236.2L215.8,236.1L216.8,236.1L217.8,236.1L218.8,236.1L219.8,236.1L220.8,236.1L221.8,236.1L222.8,236.1L223.8,236.1L224.8,236.1L225.8,236.1L226.8,236.1L227.8,236.1L228.8,236.2L229.8,236.2L230.8,236.2L231.8,236.2L232.8,236.2L233.8,236.3L234.7,236.3L235.3,236.3L236.3,236.4L237.3,236.5L238.3,236.7L239.1,236.8L239.8,236.9L240.8,237.2L241.3,237.3L242.3,237.7L242.8,238.0L243.3,238.3L243.9,238.8L244.4,239.3L244.8,239.9L245.2,240.8L245.4,241.3L245.6,242.3L245.8,243.3L245.8,243.8L245.9,244.8L246.0,245.8L246.0,246.8L246.1,247.8L246.1,248.8L246.1,249.8L246.1,250.8L246.0,251.8L246.0,252.8L246.0,253.8L246.0,254.8L246.0,255.8L246.0,256.8L246.0,257.8L246.0,258.8L246.0,259.8L246.0,260.8L245.9,261.8L245.9,262.8L245.8,263.6L245.7,264.3L245.5,265.3L245.3,265.9L244.9,266.8L244.6,267.3L244.2,267.8L243.7,268.3L243.1,268.8L242.3,269.3L241.8,269.5L241.0,269.8L240.3,270.0L239.3,270.2L238.6,270.3L237.8,270.4L236.8,270.5L235.8,270.6L234.8,270.7L233.8,270.7L232.8,270.8L231.8,270.8L230.8,270.8L229.8,270.8L228.8,270.8L227.8,270.8L227.3,270.8M233.3,268.3L232.3,268.4L231.3,268.4L230.3,268.4L229.3,268.4L228.3,268.4L227.3,268.5L226.3,268.5L225.3,268.6L224.3,268.6L223.3,268.6L222.3,268.6L221.3,268.6L220.3,268.5L219.3,268.5L218.3,268.5L217.3,268.4L216.3,268.4L215.3,268.4L214.3,268.4L213.3,268.4L212.3,268.5L211.3,268.5L210.3,268.5L209.3,268.5L208.3,268.4L207.3,268.4L206.3,268.4L205.3,268.4L204.3,268.4L203.3,268.4L202.3,268.4L201.3,268.5L200.3,268.5L199.3,268.5L198.3,268.5L197.3,268.5L196.3,268.5L195.3,268.4L194.3,268.4L193.3,268.3L192.8,268.3L191.8,268.2L190.8,268.2L189.8,268.1L188.8,268.1L187.8,268.0L186.8,268.0L185.8,267.9L185.1,267.8L184.3,267.7L183.3,267.6L182.3,267.5L181.3,267.4L180.3,267.3L179.8,267.3L178.8,267.2L177.8,267.1L176.8,266.9L176.0,266.8L175.3,266.7L174.3,266.4L173.7,266.3L172.8,266.0L172.1,265.8L171.3,265.5L170.5,265.3L169.8,265.0L169.2,264.8L168.3,264.3L167.8,263.8L167.4,263.3L167.1,262.8L166.8,261.8L166.7,261.3L166.6,260.3L166.5,259.3L166.4,258.3L166.3,257.6L166.1,256.8L165.9,255.8L165.9,254.8L165.8,253.8L165.8,253.3L165.7,252.3L165.6,251.3L165.4,250.3L165.4,249.3L165.5,248.3L165.7,247.3L165.8,246.8L166.2,245.8L166.5,245.3L166.8,244.8L167.3,244.2L167.8,243.7L168.4,243.3L169.1,242.8L169.8,242.4L170.3,242.2L171.0,241.8L171.8,241.5L172.3,241.3L173.3,240.9L173.8,240.7L174.8,240.4L175.3,240.3L176.3,240.1L177.3,240.0L178.3,239.9L179.3,239.8L179.8,239.8L180.8,239.7L181.8,239.6L182.8,239.5L183.8,239.4L184.5,239.3L185.3,239.2L186.3,239.1L187.3,239.0L188.3,238.9L189.3,238.9L190.3,238.9L191.3,238.8L192.3,238.8L192.8,238.8L193.8,238.7L194.8,238.7L195.8,238.6L196.8,238.6L197.8,238.5L198.8,238.5L199.8,238.5L200.8,238.5L201.8,238.5L202.8,238.5L203.8,238.5L204.8,238.5L205.8,238.4L206.8,238.4L207.8,238.4L208.8,238.5L209.8,238.5L210.8,238.5L211.8,238.5L212.8,238.5L213.8,238.5L214.8,238.5L215.8,238.4L216.8,238.4L217.8,238.4L218.8,238.3L219.8,238.3L220.8,238.3L221.8,238.3L222.8,238.3L223.8,238.3L224.8,238.4L225.8,238.4L226.8,238.4L227.8,238.4L228.8,238.5L229.8,238.5L230.8,238.5L231.8,238.6L232.8,238.6L233.8,238.7L234.4,238.8L235.3,238.9L236.3,239.1L237.2,239.3L237.8,239.5L238.6,239.8L239.3,240.2L239.8,240.5L240.3,240.9L240.8,241.5L241.3,242.3L241.5,242.8L241.8,243.8L241.9,244.3L242.0,245.3L242.0,246.3L242.1,247.3L242.1,248.3L242.1,249.3L242.1,250.3L242.0,251.3L242.0,252.3L242.0,253.3L242.0,254.3L242.0,255.3L242.0,256.3L242.0,257.3L242.0,258.3L242.0,259.3L241.9,260.3L241.9,261.3L241.8,262.2L241.7,262.8L241.5,263.8L241.3,264.3L240.8,265.3L240.5,265.8L240.0,266.3L239.3,266.8L238.8,267.1L238.3,267.3L237.3,267.6L236.5,267.8L235.8,267.9L234.8,268.1L233.8,268.3L233.3,268.3" stroke="#56b24d" stroke-width="1.0" fill="none" stroke-linejoin="round"/><path d="M178.3,262.3L177.3,262.4L176.3,262.5L175.3,262.6L174.3,262.6L173.3,262.6L172.3,262.7L171.3,262.7L170.3,262.7L169.3,262.6L168.3,262.6L167.3,262.5L166.3,262.5L165.3,262.4L164.3,262.3L163.8,262.3L162.8,262.2L161.8,262.1L160.8,261.9L160.3,261.8L159.3,261.6L158.3,261.4L157.8,261.3L156.8,261.1L155.8,260.8L155.3,260.7L154.3,260.4L153.8,260.2L152.8,259.9L152.3,259.7L151.3,259.4L150.8,259.2L149.8,258.8L149.3,258.6L148.8,258.3L147.9,257.8L147.3,257.4L146.8,257.1L146.3,256.7L145.7,256.3L145.1,255.8L144.6,255.3L144.1,254.8L143.7,254.3L143.3,253.8L142.8,253.0L142.5,252.3L142.3,251.8L142.0,250.8L142.0,249.8L142.1,248.8L142.3,248.0L142.6,247.3L142.9,246.8L143.3,246.1L143.8,245.5L144.3,244.9L144.8,244.5L145.3,244.0L145.8,243.6L146.3,243.3L147.0,242.8L147.8,242.3L148.3,242.0L148.8,241.7L149.7,241.3L150.3,241.0L150.8,240.8L151.8,240.4L152.3,240.3L153.3,239.9L153.8,239.8L154.8,239.5L155.5,239.3L156.3,239.1L157.3,238.8L157.8,238.7L158.8,238.4L159.5,238.3L160.3,238.1L161.3,238.0L162.3,237.8L162.8,237.8L163.8,237.7L164.8,237.6L165.8,237.5L166.8,237.4L167.8,237.4L168.8,237.3L169.3,237.3L170.3,237.3L171.3,237.3L172.3,237.3L172.8,237.3L173.8,237.3L174.8,237.4L175.8,237.5L176.8,237.6L177.8,237.7L178.5,237.8L179.3,237.9L180.3,238.0L181.3,238.2L182.0,238.3L182.8,238.4L183.8,238.6L184.5,238.8L185.3,239.0L186.3,239.2L186.8,239.3L187.8,239.6L188.5,239.8L189.3,240.1L189.9,240.3L190.8,240.7L191.3,240.9L192.1,241.3L192.8,241.6L193.3,241.8L194.3,242.3L194.8,242.6L195.3,242.9L195.9,243.3L196.6,243.8L197.2,244.3L197.8,244.8L198.3,245.3L198.7,245.8L199.0,246.3L199.3,246.8L199.8,247.8L200.0,248.3L200.2,249.3L200.2,250.3L200.1,251.3L199.8,252.1L199.5,252.8L199.1,253.3L198.8,253.8L198.3,254.4L197.8,254.9L197.3,255.4L196.8,255.8L196.2,256.3L195.5,256.8L194.8,257.3L194.3,257.6L193.8,257.9L193.0,258.3L192.3,258.7L191.8,258.9L190.9,259.3L190.3,259.5L189.6,259.8L188.8,260.1L188.2,260.3L187.3,260.6L186.3,260.8L185.8,260.9L184.8,261.2L184.2,261.3L183.3,261.5L182.3,261.7L181.7,261.8L180.8,262.0L179.8,262.1L178.8,262.2L178.3,262.3M174.3,259.3L173.3,259.3L172.3,259.3L171.3,259.3L170.3,259.3L169.6,259.3L168.8,259.3L167.8,259.2L166.8,259.1L165.8,259.1L164.8,259.0L163.8,258.9L163.1,258.8L162.3,258.7L161.3,258.5L160.6,258.3L159.8,258.1L158.8,257.9L158.3,257.7L157.3,257.4L156.8,257.2L155.8,256.8L155.3,256.6L154.8,256.3L153.9,255.8L153.3,255.4L152.8,255.1L152.3,254.7L151.8,254.3L151.3,253.8L150.8,253.2L150.3,252.6L149.8,251.8L149.6,251.3L149.4,250.3L149.4,249.3L149.7,248.3L149.9,247.8L150.3,247.2L150.8,246.6L151.3,246.0L151.8,245.6L152.3,245.2L152.8,244.8L153.6,244.3L154.3,243.9L154.8,243.7L155.7,243.3L156.3,243.1L157.0,242.8L157.8,242.5L158.3,242.3L159.3,242.0L159.9,241.8L160.8,241.6L161.8,241.4L162.3,241.3L163.3,241.1L164.3,241.0L165.3,240.9L166.3,240.9L166.9,240.8L167.8,240.7L168.8,240.6L169.8,240.5L170.8,240.5L171.8,240.5L172.8,240.5L173.8,240.6L174.8,240.7L175.7,240.8L176.3,240.9L177.3,241.0L178.3,241.1L179.3,241.3L179.8,241.4L180.8,241.6L181.8,241.8L182.3,241.9L183.3,242.2L183.8,242.4L184.8,242.7L185.3,242.9L186.2,243.3L186.8,243.6L187.3,243.9L188.1,244.3L188.8,244.7L189.3,245.1L189.8,245.4L190.3,245.8L190.9,246.3L191.4,246.8L191.8,247.4L192.3,248.2L192.5,248.8L192.6,249.8L192.5,250.8L192.3,251.4L191.9,252.3L191.6,252.8L191.2,253.3L190.7,253.8L190.2,254.3L189.6,254.8L188.9,255.3L188.3,255.7L187.8,256.0L187.1,256.3L186.3,256.7L185.8,256.9L184.8,257.2L184.3,257.4L183.3,257.7L182.8,257.9L181.8,258.1L181.2,258.3L180.3,258.5L179.3,258.7L178.8,258.8L177.8,259.0L176.8,259.2L175.8,259.3L174.8,259.3L174.3,259.3M174.8,256.3L173.8,256.4L172.8,256.4L171.8,256.5L170.8,256.5L169.8,256.5L168.8,256.4L167.8,256.4L166.9,256.3L166.3,256.2L165.3,256.1L164.3,255.9L163.8,255.8L162.8,255.5L162.1,255.3L161.3,255.1L160.4,254.8L159.8,254.6L159.1,254.3L158.3,253.9L157.8,253.5L157.3,253.1L156.8,252.5L156.3,251.8L156.1,251.3L155.9,250.3L156.0,249.3L156.3,248.5L156.7,247.8L157.1,247.3L157.7,246.8L158.3,246.4L158.8,246.1L159.4,245.8L160.3,245.4L160.8,245.2L161.7,244.8L162.3,244.6L163.3,244.3L163.8,244.3L164.8,244.1L165.8,244.0L166.8,243.8L167.3,243.8L168.3,243.6L169.3,243.5L170.3,243.3L171.1,243.3L171.8,243.3L172.4,243.3L173.3,243.4L174.3,243.5L175.3,243.6L176.3,243.8L176.8,243.9L177.8,244.0L178.8,244.3L179.3,244.4L180.3,244.7L180.8,244.9L181.6,245.3L182.3,245.7L182.8,246.0L183.3,246.3L184.0,246.8L184.6,247.3L185.1,247.8L185.5,248.3L185.8,248.8L186.0,249.8L185.9,250.8L185.7,251.3L185.3,251.9L184.8,252.5L184.3,253.0L183.8,253.4L183.1,253.8L182.3,254.3L181.8,254.5L181.2,254.8L180.3,255.1L179.8,255.3L178.8,255.6L178.1,255.8L177.3,256.0L176.3,256.2L175.3,256.3L174.8,256.3" stroke="#56b24d" stroke-width="1.0" fill="none" stroke-linejoin="round"/><path d="M175.3,260.8L174.3,260.9L173.3,261.0L172.3,261.0L171.3,261.0L170.3,260.9L169.3,260.9L168.5,260.8L167.8,260.7L166.8,260.6L165.8,260.4L165.3,260.3L164.3,260.1L163.3,259.8L162.8,259.7L161.8,259.3L161.3,259.1L160.6,258.8L159.8,258.4L159.3,258.1L158.7,257.8L157.9,257.3L157.3,256.9L156.8,256.5L156.3,256.1L155.8,255.6L155.3,255.0L154.8,254.4L154.5,253.8L154.2,253.3L153.8,252.3L153.7,251.8L153.6,250.8L153.8,249.8L153.9,249.3L154.3,248.4L154.6,247.8L155.0,247.3L155.4,246.8L155.9,246.3L156.5,245.8L157.1,245.3L157.8,244.8L158.3,244.5L158.8,244.1L159.4,243.8L160.3,243.3L160.8,243.1L161.4,242.8L162.3,242.5L162.8,242.3L163.8,242.0L164.8,241.8L165.3,241.7L166.3,241.5L167.3,241.3L167.8,241.3L168.8,241.2L169.8,241.1L170.8,241.0L171.8,241.0L172.8,241.0L173.8,241.0L174.8,241.1L175.8,241.2L176.5,241.3L177.3,241.4L178.3,241.6L179.2,241.8L179.8,241.9L180.8,242.2L181.3,242.4L182.3,242.8L182.8,243.0L183.6,243.3L184.3,243.6L184.8,243.9L185.5,244.3L186.3,244.8L186.8,245.1L187.3,245.5L187.8,245.9L188.3,246.4L188.8,247.0L189.3,247.7L189.6,248.3L189.8,248.8L190.1,249.8L190.2,250.8L190.1,251.8L189.9,252.8L189.7,253.3L189.3,254.1L188.8,254.8L188.4,255.3L187.9,255.8L187.4,256.3L186.8,256.8L186.3,257.1L185.8,257.5L185.3,257.8L184.4,258.3L183.8,258.6L183.3,258.8L182.3,259.2L181.8,259.4L180.8,259.7L180.3,259.9L179.3,260.2L178.7,260.3L177.8,260.5L176.8,260.6L175.8,260.8L175.3,260.8M174.3,256.8L173.3,256.9L172.3,257.0L171.3,257.1L170.3,257.0L169.3,256.9L168.5,256.8L167.8,256.6L166.8,256.3L166.3,256.2L165.3,255.8L164.8,255.6L164.3,255.3L163.4,254.8L162.8,254.3L162.3,253.8L161.9,253.3L161.5,252.8L161.3,252.3L161.0,251.3L161.0,250.3L161.3,249.6L161.8,248.8L162.2,248.3L162.7,247.8L163.3,247.3L163.8,247.0L164.3,246.7L165.0,246.3L165.8,246.0L166.3,245.8L167.3,245.5L168.2,245.3L168.8,245.2L169.8,245.0L170.8,245.0L171.8,244.9L172.8,244.9L173.8,245.0L174.8,245.1L175.8,245.3L176.3,245.4L177.3,245.7L177.8,245.8L178.8,246.2L179.3,246.4L180.1,246.8L180.8,247.2L181.3,247.6L181.8,248.0L182.3,248.6L182.7,249.3L182.9,249.8L183.1,250.8L183.0,251.8L182.8,252.3L182.3,253.2L181.8,253.8L181.3,254.3L180.8,254.7L180.3,255.0L179.7,255.3L178.8,255.7L178.3,255.9L177.3,256.2L176.8,256.3L175.8,256.6L174.8,256.7L174.3,256.8" stroke="#ada53a" stroke-width="1.0" fill="none" stroke-linejoin="round"/><path d="M174.3,226.8L173.3,226.8L172.8,226.8L171.8,226.7L170.8,226.6L169.8,226.4L169.2,226.3L168.3,226.1L167.3,225.9L166.8,225.7L165.8,225.4L165.3,225.2L164.3,224.8L163.8,224.6L163.2,224.3L162.3,223.8L161.8,223.5L161.3,223.2L160.7,222.8L159.9,222.3L159.3,221.8L158.8,221.4L158.3,221.0L157.8,220.6L157.3,220.2L156.8,219.8L156.3,219.3L155.8,218.8L155.3,218.3L154.8,217.7L154.3,217.1L153.8,216.5L153.3,215.9L152.8,215.3L152.5,214.8L152.1,214.3L151.8,213.8L151.3,213.1L150.8,212.3L150.5,211.8L150.2,211.3L149.8,210.7L149.3,209.8L149.1,209.3L148.8,208.7L148.4,207.8L148.2,207.3L147.8,206.3L147.6,205.8L147.3,205.1L147.0,204.3L146.8,203.8L146.5,202.8L146.3,202.3L146.0,201.3L145.8,200.6L145.6,199.8L145.3,198.8L145.2,198.3L144.9,197.3L144.8,196.7L144.6,195.8L144.5,194.8L144.3,193.8L144.3,193.3L144.1,192.3L144.0,191.3L144.0,190.3L143.9,189.3L143.8,188.3L143.8,187.8L143.7,186.8L143.7,185.8L143.7,184.8L143.7,183.8L143.7,182.8L143.8,181.8L143.8,181.3L143.9,180.3L144.0,179.3L144.1,178.3L144.2,177.3L144.3,176.4L144.4,175.8L144.6,174.8L144.8,174.0L145.0,173.3L145.2,172.3L145.4,171.8L145.6,170.8L145.8,169.9L145.9,169.3L146.2,168.3L146.4,167.8L146.7,166.8L146.9,166.3L147.2,165.3L147.4,164.8L147.8,163.9L148.0,163.3L148.3,162.7L148.7,161.8L148.9,161.3L149.3,160.6L149.7,159.8L150.0,159.3L150.3,158.7L150.8,157.8L151.1,157.3L151.4,156.8L151.8,156.2L152.3,155.4L152.7,154.8L153.1,154.3L153.5,153.8L153.9,153.3L154.3,152.8L154.8,152.2L155.3,151.6L155.8,151.0L156.3,150.5L156.8,149.9L157.3,149.4L157.8,148.8L158.2,148.3L158.7,147.8L159.2,147.3L159.7,146.8L160.2,146.3L160.7,145.8L161.3,145.3L161.8,144.8L162.3,144.3L162.8,143.8L163.3,143.3L163.8,142.8L164.3,142.3L164.8,141.9L165.3,141.4L165.8,141.0L166.3,140.5L166.8,140.0L167.3,139.5L167.8,139.0L168.3,138.4L168.8,137.9L169.3,137.3L169.8,136.8L170.3,136.4L170.8,135.9L171.3,135.5L171.8,135.1L172.3,134.7L172.8,134.3L173.4,133.8L174.0,133.3L174.7,132.8L175.3,132.4L175.8,132.1L176.3,131.8L177.2,131.3L177.8,131.0L178.3,130.8L179.2,130.3L179.8,130.0L180.3,129.8L181.3,129.4L181.8,129.2L182.8,129.0L183.8,128.8L184.3,128.7L185.3,128.6L186.3,128.4L187.3,128.3L187.8,128.3L188.8,128.2L189.8,128.1L190.8,128.0L191.8,128.0L192.8,128.0L193.8,128.1L194.8,128.3L195.3,128.3L196.3,128.5L197.3,128.6L198.3,128.8L198.8,128.8L199.8,129.0L200.8,129.1L201.8,129.3L202.3,129.3L203.3,129.4L204.3,129.4L205.3,129.4L206.3,129.3L206.8,129.2L207.8,129.0L208.3,128.8L209.2,128.3L209.8,128.0L210.3,127.6L210.8,127.2L211.3,126.8L211.8,126.3L212.3,125.8L212.8,125.3L213.3,124.8L213.8,124.2L214.3,123.6L214.8,123.0L215.3,122.5L215.8,121.9L216.3,121.4L216.8,120.9L217.3,120.4L217.8,119.9L218.3,119.3L218.8,118.8L219.3,118.3L219.8,117.8L220.3,117.3L220.8,116.9L221.3,116.5L221.8,116.1L222.3,115.8L223.1,115.3L223.8,114.9L224.3,114.7L225.1,114.3L225.8,114.0L226.5,113.8L227.3,113.5L227.9,113.3L228.8,113.0L229.5,112.8L230.3,112.6L231.3,112.4L232.3,112.4L233.3,112.3L234.3,112.4L235.3,112.4L236.3,112.5L237.3,112.6L238.3,112.8L238.8,112.8L239.8,113.1L240.5,113.3L241.3,113.6L242.0,113.8L242.8,114.1L243.3,114.3L244.3,114.7L244.8,115.0L245.3,115.3L246.1,115.8L246.8,116.3L247.3,116.7L247.8,117.1L248.3,117.5L248.8,117.9L249.3,118.4L249.8,119.0L250.3,119.5L250.8,120.1L251.3,120.7L251.8,121.3L252.1,121.8L252.4,122.3L252.8,122.9L253.3,123.7L253.6,124.3L253.9,124.8L254.3,125.7L254.6,126.3L254.8,126.8L255.2,127.8L255.4,128.3L255.8,129.3L255.9,129.8L256.2,130.8L256.3,131.3L256.5,132.3L256.7,133.3L256.8,134.0L256.9,134.8L257.1,135.8L257.2,136.8L257.3,137.6L257.4,138.3L257.5,139.3L257.5,140.3L257.5,141.3L257.5,142.3L257.5,143.3L257.5,144.3L257.5,145.3L257.5,146.3L257.5,147.3L257.5,148.3L257.5,149.3L257.6,150.3L257.6,151.3L257.6,152.3L257.6,153.3L257.6,154.3L257.6,155.3L257.6,156.3L257.6,157.3L257.6,158.3L257.6,159.3L257.6,160.3L257.6,161.3L257.6,162.3L257.6,163.3L257.6,164.3L257.6,165.3L257.6,166.3L257.6,167.3L257.6,168.3L257.6,169.3L257.6,170.3L257.6,171.3L257.5,172.3L257.5,173.3L257.4,174.3L257.3,175.3L257.3,175.8L257.2,176.8L257.1,177.8L257.1,178.8L257.0,179.8L256.9,180.8L256.8,181.3L256.7,182.3L256.5,183.3L256.4,184.3L256.3,184.9L256.2,185.8L256.0,186.8L255.8,187.8L255.7,188.3L255.5,189.3L255.3,190.3L255.2,190.8L255.0,191.8L254.8,192.5L254.6,193.3L254.3,194.3L254.2,194.8L253.9,195.8L253.7,196.3L253.4,197.3L253.3,197.8L252.9,198.8L252.8,199.3L252.4,200.3L252.2,200.8L251.9,201.8L251.7,202.3L251.3,203.1L251.0,203.8L250.7,204.3L250.3,205.0L249.8,205.8L249.5,206.3L249.2,206.8L248.8,207.3L248.3,208.0L247.8,208.7L247.3,209.3L246.9,209.8L246.4,210.3L245.9,210.8L245.3,211.3L244.8,211.7L244.3,212.1L243.8,212.4L243.2,212.8L242.5,213.3L241.8,213.7L241.3,214.0L240.7,214.3L239.8,214.7L239.3,214.9L238.3,215.2L237.8,215.4L236.8,215.7L236.3,215.8L235.3,216.1L234.4,216.3L233.8,216.4L232.8,216.6L231.8,216.8L231.3,216.8L230.3,217.0L229.3,217.1L228.3,217.3L227.8,217.3L226.8,217.4L225.8,217.4L224.8,217.4L223.8,217.4L222.8,217.4L221.8,217.4L220.8,217.5L219.8,217.5L218.8,217.6L217.8,217.7L217.0,217.8L216.3,217.9L215.3,218.0L214.3,218.2L213.3,218.3L212.8,218.3L211.8,218.4L210.8,218.5L209.8,218.7L208.8,218.8L208.3,218.9L207.3,219.0L206.3,219.1L205.3,219.3L204.8,219.3L203.8,219.5L202.8,219.6L201.8,219.6L200.8,219.7L200.3,219.8L199.3,219.9L198.3,220.1L197.3,220.3L196.8,220.4L195.8,220.6L195.2,220.8L194.3,221.1L193.4,221.3L192.8,221.5L191.8,221.8L191.3,221.9L190.3,222.2L189.8,222.4L188.9,222.8L188.3,223.1L187.8,223.3L186.8,223.7L186.3,223.9L185.3,224.2L184.8,224.4L183.8,224.7L183.3,224.9L182.3,225.2L181.8,225.3L180.8,225.6L180.1,225.8L179.3,226.0L178.3,226.2L177.8,226.3L176.8,226.5L175.8,226.7L174.8,226.8L174.3,226.8M175.3,220.3L174.3,220.4L173.3,220.4L172.3,220.4L171.3,220.4L170.7,220.3L169.8,220.1L168.8,219.9L168.3,219.7L167.3,219.4L166.8,219.2L165.8,218.8L165.3,218.5L164.8,218.3L164.0,217.8L163.3,217.4L162.8,217.0L162.3,216.7L161.7,216.3L161.1,215.8L160.4,215.3L159.8,214.8L159.3,214.4L158.8,213.9L158.3,213.4L157.8,212.8L157.3,212.3L156.9,211.8L156.5,211.3L156.1,210.8L155.7,210.3L155.3,209.7L154.8,209.0L154.4,208.3L154.1,207.8L153.8,207.3L153.3,206.4L153.0,205.8L152.8,205.3L152.4,204.3L152.2,203.8L151.8,202.9L151.6,202.3L151.3,201.6L151.0,200.8L150.8,200.3L150.4,199.3L150.2,198.8L149.9,197.8L149.8,197.3L149.6,196.3L149.4,195.3L149.3,194.8L149.1,193.8L148.9,192.8L148.8,191.9L148.7,191.3L148.7,190.3L148.7,189.3L148.7,188.3L148.6,187.3L148.6,186.3L148.5,185.3L148.5,184.3L148.5,183.3L148.5,182.3L148.6,181.3L148.6,180.3L148.7,179.3L148.8,178.3L148.9,177.8L149.0,176.8L149.3,175.8L149.4,175.3L149.7,174.3L149.8,173.8L150.1,172.8L150.3,172.0L150.5,171.3L150.7,170.3L150.8,169.8L151.1,168.8L151.3,168.3L151.7,167.3L151.9,166.8L152.3,165.9L152.6,165.3L152.9,164.8L153.3,164.1L153.8,163.3L154.1,162.8L154.3,162.3L154.8,161.5L155.3,160.8L155.6,160.3L156.0,159.8L156.4,159.3L156.8,158.8L157.3,158.2L157.8,157.6L158.3,157.1L158.8,156.5L159.3,156.0L159.8,155.5L160.3,155.0L160.8,154.5L161.3,154.1L161.8,153.7L162.3,153.2L162.8,152.8L163.5,152.3L164.1,151.8L164.8,151.3L165.3,151.0L165.8,150.6L166.3,150.3L167.2,149.8L167.8,149.5L168.3,149.3L169.3,148.8L169.8,148.7L170.8,148.3L171.3,148.1L172.2,147.8L172.8,147.6L173.5,147.3L174.3,147.0L174.8,146.8L175.8,146.3L176.3,146.2L177.3,145.8L177.8,145.7L178.8,145.5L179.8,145.5L180.8,145.6L181.6,145.8L182.3,145.9L183.3,146.1L184.1,146.3L184.8,146.6L185.3,146.9L185.8,147.4L186.3,148.0L186.8,148.8L187.1,149.3L187.4,149.8L187.8,150.5L188.3,151.3L188.6,151.8L188.9,152.3L189.3,152.9L189.8,153.6L190.3,154.1L190.8,154.6L191.3,155.1L191.8,155.4L192.8,155.5L193.5,155.3L194.1,154.8L194.5,154.3L194.8,153.8L195.2,152.8L195.4,152.3L195.8,151.3L196.0,150.8L196.3,149.8L196.5,149.3L196.8,148.3L197.0,147.8L197.3,146.9L197.6,146.3L197.8,145.8L198.3,145.1L198.8,144.5L199.3,144.1L199.8,143.7L200.4,143.3L201.3,142.9L202.0,142.8L202.8,142.7L203.5,142.8L204.3,142.9L205.3,143.2L205.8,143.4L206.8,143.7L207.3,143.9L208.3,144.3L208.8,144.4L209.8,144.6L210.8,144.5L211.4,144.3L212.1,143.8L212.6,143.3L213.0,142.8L213.3,142.3L213.8,141.4L214.1,140.8L214.3,140.1L214.5,139.3L214.8,138.3L214.9,137.8L215.2,136.8L215.4,136.3L215.8,135.5L216.1,134.8L216.4,134.3L216.8,133.4L217.1,132.8L217.3,132.3L217.8,131.3L218.0,130.8L218.3,130.3L218.8,129.5L219.2,128.8L219.6,128.3L219.9,127.8L220.3,127.2L220.8,126.6L221.3,125.9L221.8,125.4L222.3,124.8L222.8,124.3L223.3,123.9L223.8,123.4L224.3,123.0L224.8,122.7L225.3,122.3L226.1,121.8L226.8,121.4L227.3,121.2L228.3,120.8L228.8,120.7L229.8,120.4L230.3,120.3L231.3,120.1L232.3,119.9L233.3,119.8L233.8,119.8L234.8,119.8L235.3,119.8L236.3,119.9L237.3,120.0L238.3,120.2L238.8,120.3L239.8,120.6L240.5,120.8L241.3,121.2L241.8,121.4L242.4,121.8L243.1,122.3L243.8,122.8L244.3,123.1L244.8,123.5L245.3,123.9L245.8,124.3L246.3,124.8L246.8,125.4L247.3,126.0L247.8,126.7L248.2,127.3L248.4,127.8L248.8,128.5L249.2,129.3L249.5,129.8L249.8,130.4L250.2,131.3L250.4,131.8L250.8,132.7L251.0,133.3L251.3,134.2L251.5,134.8L251.8,135.8L251.9,136.3L252.2,137.3L252.3,138.0L252.5,138.8L252.6,139.8L252.8,140.8L252.8,141.3L252.9,142.3L253.0,143.3L253.1,144.3L253.1,145.3L253.2,146.3L253.3,147.2L253.4,147.8L253.5,148.8L253.5,149.8L253.6,150.8L253.7,151.8L253.8,152.7L253.9,153.3L253.9,154.3L254.0,155.3L254.0,156.3L254.1,157.3L254.2,158.3L254.2,159.3L254.3,160.3L254.3,161.3L254.3,162.0L254.3,162.8L254.3,163.8L254.3,164.8L254.3,165.8L254.3,166.8L254.3,167.8L254.3,168.8L254.3,169.8L254.3,170.8L254.3,171.3L254.3,172.3L254.2,173.3L254.2,174.3L254.1,175.3L254.1,176.3L254.0,177.3L253.9,178.3L253.8,178.9L253.7,179.8L253.5,180.8L253.3,181.8L253.2,182.3L253.0,183.3L252.8,184.1L252.6,184.8L252.4,185.8L252.3,186.3L252.1,187.3L251.9,188.3L251.7,188.8L251.4,189.8L251.3,190.3L250.9,191.3L250.8,191.8L250.5,192.8L250.3,193.3L250.0,194.3L249.8,194.8L249.4,195.8L249.2,196.3L248.8,197.1L248.5,197.8L248.2,198.3L247.8,199.0L247.4,199.8L247.1,200.3L246.7,200.8L246.3,201.5L245.8,202.2L245.3,202.8L244.9,203.3L244.5,203.8L244.0,204.3L243.4,204.8L242.8,205.3L242.3,205.7L241.8,206.1L241.3,206.4L240.6,206.8L239.8,207.3L239.3,207.5L238.7,207.8L237.8,208.2L237.3,208.4L236.4,208.8L235.8,209.0L234.8,209.2L234.3,209.3L233.3,209.5L232.3,209.6L231.4,209.8L230.8,209.9L229.8,210.1L228.9,210.3L228.3,210.4L227.3,210.5L226.3,210.6L225.3,210.7L224.3,210.8L223.8,210.8L222.8,210.9L221.8,211.1L220.8,211.2L219.9,211.3L219.3,211.4L218.3,211.6L217.3,211.8L216.8,211.9L215.8,212.1L214.9,212.3L214.3,212.4L213.3,212.6L212.3,212.8L211.8,212.9L210.8,213.1L209.8,213.2L209.3,213.3L208.3,213.5L207.3,213.6L206.3,213.8L205.8,213.8L204.8,214.0L203.8,214.1L202.8,214.2L202.3,214.3L201.3,214.4L200.3,214.6L199.3,214.7L198.8,214.8L197.8,214.9L196.8,215.0L195.8,215.2L195.2,215.3L194.3,215.5L193.3,215.8L192.8,216.0L191.8,216.3L191.3,216.5L190.3,216.8L189.8,216.9L188.8,217.3L188.3,217.4L187.3,217.7L186.8,217.9L185.8,218.2L185.3,218.4L184.3,218.7L183.7,218.8L182.8,219.0L181.8,219.2L181.3,219.4L180.3,219.6L179.5,219.8L178.8,219.9L177.8,220.1L176.8,220.2L175.8,220.3L175.3,220.3M174.3,215.3L173.3,215.4L172.3,215.3L171.8,215.3L170.8,215.0L170.0,214.8L169.3,214.6L168.5,214.3L167.8,214.0L167.2,213.8L166.3,213.4L165.8,213.1L165.2,212.8L164.4,212.3L163.8,211.9L163.3,211.6L162.8,211.2L162.3,210.8L161.7,210.3L161.1,209.8L160.6,209.3L160.2,208.8L159.7,208.3L159.3,207.8L158.8,207.1L158.3,206.3L158.0,205.8L157.7,205.3L157.3,204.5L156.9,203.8L156.6,203.3L156.3,202.7L155.8,201.8L155.5,201.3L155.3,200.8L154.8,199.8L154.6,199.3L154.3,198.5L154.1,197.8L153.8,197.0L153.6,196.3L153.4,195.3L153.2,194.8L153.0,193.8L152.9,192.8L152.8,192.3L152.7,191.3L152.6,190.3L152.5,189.3L152.4,188.3L152.4,187.3L152.3,186.5L152.3,185.8L152.3,184.8L152.3,183.8L152.3,183.0L152.3,182.3L152.4,181.3L152.5,180.3L152.6,179.3L152.7,178.3L152.8,177.8L153.0,176.8L153.3,175.8L153.4,175.3L153.7,174.3L153.9,173.8L154.2,172.8L154.4,172.3L154.7,171.3L154.9,170.8L155.3,169.8L155.5,169.3L155.8,168.8L156.3,167.8L156.6,167.3L156.9,166.8L157.3,166.1L157.8,165.3L158.1,164.8L158.5,164.3L158.8,163.8L159.3,163.1L159.8,162.5L160.3,161.9L160.8,161.3L161.3,160.8L161.8,160.3L162.3,159.8L162.8,159.4L163.3,159.0L163.8,158.6L164.3,158.3L165.1,157.8L165.8,157.3L166.3,157.0L166.8,156.7L167.5,156.3L168.3,155.9L168.8,155.7L169.8,155.4L170.3,155.3L171.3,155.1L172.3,155.0L173.3,155.0L174.3,155.0L175.3,155.1L176.3,155.3L176.8,155.4L177.8,155.8L178.3,155.9L179.2,156.3L179.8,156.5L180.4,156.8L181.3,157.2L181.8,157.5L182.4,157.8L183.2,158.3L183.8,158.7L184.3,159.1L184.8,159.6L185.3,160.1L185.8,160.7L186.3,161.3L186.7,161.8L187.0,162.3L187.3,162.8L187.8,163.5L188.3,164.2L188.8,164.8L189.2,165.3L189.7,165.8L190.2,166.3L190.6,166.8L191.1,167.3L191.6,167.8L192.1,168.3L192.8,168.8L193.3,169.0L194.3,169.0L194.8,168.8L195.4,168.3L195.8,167.8L196.3,167.1L196.8,166.3L197.0,165.8L197.3,165.2L197.7,164.3L197.9,163.8L198.3,163.0L198.6,162.3L198.9,161.8L199.3,161.0L199.7,160.3L200.0,159.8L200.3,159.3L200.8,158.6L201.3,158.0L201.8,157.4L202.3,156.9L202.8,156.5L203.3,156.1L203.8,155.7L204.5,155.3L205.3,154.9L205.9,154.8L206.8,154.8L207.3,154.9L208.3,155.3L208.8,155.6L209.3,155.9L209.8,156.3L210.3,156.8L210.8,157.3L211.3,157.8L211.8,158.3L212.3,158.9L212.8,159.4L213.4,159.8L214.3,160.1L215.1,159.8L215.6,159.3L215.9,158.8L216.3,158.0L216.6,157.3L216.8,156.7L217.1,155.8L217.3,155.1L217.6,154.3L217.8,153.5L218.0,152.8L218.3,151.8L218.4,151.3L218.7,150.3L218.8,149.7L219.0,148.8L219.1,147.8L219.3,146.8L219.4,146.3L219.6,145.3L219.8,144.3L219.9,143.8L220.1,142.8L220.3,141.8L220.3,141.3L220.5,140.3L220.8,139.3L220.9,138.8L221.3,137.8L221.5,137.3L221.8,136.6L222.2,135.8L222.4,135.3L222.8,134.7L223.3,133.8L223.6,133.3L223.9,132.8L224.3,132.2L224.8,131.6L225.3,130.9L225.8,130.3L226.3,129.8L226.8,129.3L227.3,128.8L227.8,128.4L228.3,128.1L228.8,127.8L229.8,127.3L230.3,127.1L231.3,126.8L231.8,126.8L232.8,126.7L233.7,126.8L234.3,126.9L235.3,127.0L236.3,127.1L237.3,127.2L237.8,127.3L238.8,127.5L239.6,127.8L240.3,128.1L240.8,128.4L241.3,128.8L242.0,129.3L242.5,129.8L243.0,130.3L243.4,130.8L243.8,131.3L244.3,131.9L244.8,132.6L245.3,133.3L245.6,133.8L245.8,134.3L246.3,135.2L246.6,135.8L246.8,136.3L247.2,137.3L247.4,137.8L247.8,138.8L248.0,139.3L248.3,140.2L248.5,140.8L248.7,141.8L248.8,142.3L249.0,143.3L249.2,144.3L249.3,145.2L249.4,145.8L249.6,146.8L249.7,147.8L249.8,148.3L250.0,149.3L250.2,150.3L250.3,151.0L250.4,151.8L250.6,152.8L250.7,153.8L250.8,154.4L250.9,155.3L251.0,156.3L251.0,157.3L251.1,158.3L251.2,159.3L251.3,160.3L251.3,160.8L251.4,161.8L251.5,162.8L251.5,163.8L251.6,164.8L251.6,165.8L251.6,166.8L251.6,167.8L251.6,168.8L251.6,169.8L251.6,170.8L251.5,171.8L251.5,172.8L251.4,173.8L251.4,174.8L251.3,175.4L251.2,176.3L251.1,177.3L250.9,178.3L250.8,178.8L250.6,179.8L250.3,180.8L250.2,181.3L249.9,182.3L249.8,182.8L249.5,183.8L249.3,184.6L249.1,185.3L248.8,186.2L248.6,186.8L248.3,187.6L248.1,188.3L247.8,189.0L247.5,189.8L247.3,190.4L246.9,191.3L246.7,191.8L246.3,192.7L246.0,193.3L245.7,193.8L245.3,194.5L244.8,195.3L244.4,195.8L244.1,196.3L243.7,196.8L243.3,197.3L242.8,197.8L242.3,198.4L241.8,198.8L241.3,199.3L240.6,199.8L239.9,200.3L239.3,200.7L238.8,200.9L238.1,201.3L237.3,201.6L236.8,201.8L235.8,202.2L235.3,202.3L234.3,202.6L233.6,202.8L232.8,203.0L231.8,203.2L230.9,203.3L230.3,203.4L229.3,203.6L228.4,203.8L227.8,203.9L226.8,204.1L225.8,204.2L224.8,204.2L223.8,204.2L222.8,204.2L221.8,204.2L220.8,204.1L219.8,204.1L218.8,204.2L218.2,204.3L217.3,204.5L216.6,204.8L215.8,205.2L215.3,205.4L214.4,205.8L213.8,206.1L213.3,206.3L212.3,206.7L211.8,206.9L210.8,207.2L210.3,207.4L209.3,207.7L208.8,207.8L207.8,208.1L206.8,208.3L206.3,208.4L205.3,208.6L204.3,208.8L203.8,208.8L202.8,208.9L201.8,209.0L200.8,209.1L199.8,209.2L199.0,209.3L198.3,209.4L197.3,209.6L196.3,209.7L195.8,209.8L194.8,210.0L193.8,210.2L193.3,210.3L192.3,210.6L191.8,210.8L190.8,211.3L190.3,211.5L189.7,211.8L188.8,212.1L188.3,212.3L187.3,212.7L186.8,212.8L185.8,213.2L185.3,213.3L184.3,213.7L183.8,213.8L182.8,214.1L182.1,214.3L181.3,214.5L180.3,214.7L179.8,214.8L178.8,215.0L177.8,215.1L176.8,215.1L175.8,215.2L174.8,215.3L174.3,215.3M234.8,195.8L233.8,196.0L232.8,196.1L231.8,196.2L230.8,196.2L229.8,196.2L228.8,196.0L228.3,195.8L227.6,195.3L227.0,194.8L226.5,194.3L226.0,193.8L225.6,193.3L225.2,192.8L224.8,192.2L224.3,191.3L224.1,190.8L223.8,190.2L223.5,189.3L223.3,188.8L223.0,187.8L222.8,187.2L222.5,186.3L222.3,185.3L222.2,184.8L222.0,183.8L221.9,182.8L221.8,182.0L221.7,181.3L221.6,180.3L221.4,179.3L221.2,178.8L221.0,177.8L220.8,177.1L220.6,176.3L220.6,175.3L220.5,174.3L220.5,173.3L220.4,172.3L220.3,171.6L220.2,170.8L220.1,169.8L220.0,168.8L220.0,167.8L220.0,166.8L220.1,165.8L220.2,164.8L220.3,163.8L220.3,163.2L220.4,162.3L220.4,161.3L220.5,160.3L220.6,159.3L220.7,158.3L220.8,157.8L221.0,156.8L221.2,155.8L221.4,155.3L221.6,154.3L221.8,153.6L222.0,152.8L222.3,151.8L222.4,151.3L222.6,150.3L222.8,149.4L222.9,148.8L223.1,147.8L223.3,147.0L223.5,146.3L223.7,145.3L223.9,144.8L224.2,143.8L224.4,143.3L224.8,142.3L225.0,141.8L225.3,141.2L225.8,140.3L226.0,139.8L226.3,139.2L226.8,138.3L227.2,137.8L227.5,137.3L227.9,136.8L228.3,136.3L228.9,135.8L229.5,135.3L230.2,134.8L230.8,134.5L231.3,134.3L232.3,134.0L233.1,133.8L233.8,133.7L234.8,133.6L235.8,133.6L236.8,133.7L237.3,133.8L238.3,134.3L238.8,134.6L239.3,135.0L239.8,135.4L240.3,135.9L240.8,136.5L241.3,137.2L241.7,137.8L242.1,138.3L242.4,138.8L242.8,139.4L243.3,140.1L243.7,140.8L244.0,141.3L244.3,141.9L244.7,142.8L244.9,143.3L245.3,144.2L245.5,144.8L245.8,145.7L246.0,146.3L246.3,147.3L246.4,147.8L246.7,148.8L246.8,149.3L247.1,150.3L247.3,151.1L247.5,151.8L247.7,152.8L247.8,153.6L247.9,154.3L248.1,155.3L248.2,156.3L248.3,156.9L248.4,157.8L248.4,158.8L248.5,159.8L248.6,160.8L248.8,161.8L248.9,162.3L249.0,163.3L249.1,164.3L249.1,165.3L249.1,166.3L249.1,167.3L249.0,168.3L249.0,169.3L249.0,170.3L248.9,171.3L248.9,172.3L248.8,173.1L248.7,173.8L248.6,174.8L248.5,175.8L248.4,176.8L248.3,177.3L248.1,178.3L247.8,179.3L247.7,179.8L247.5,180.8L247.3,181.4L247.0,182.3L246.8,183.0L246.5,183.8L246.3,184.3L245.8,185.3L245.6,185.8L245.3,186.4L244.9,187.3L244.6,187.8L244.3,188.5L243.9,189.3L243.6,189.8L243.2,190.3L242.8,190.9L242.3,191.4L241.8,192.0L241.3,192.5L240.8,193.0L240.3,193.4L239.8,193.8L239.2,194.3L238.3,194.8L237.8,195.0L236.8,195.3L236.3,195.5L235.3,195.7L234.8,195.8M178.3,210.8L177.3,211.0L176.3,211.1L175.3,211.1L174.3,211.1L173.3,211.0L172.3,210.8L171.8,210.7L170.8,210.5L170.3,210.3L169.3,209.9L168.8,209.7L167.9,209.3L167.3,209.0L166.8,208.8L166.0,208.3L165.3,207.9L164.8,207.5L164.3,207.1L163.8,206.7L163.3,206.2L162.8,205.7L162.3,205.1L161.8,204.4L161.4,203.8L161.0,203.3L160.7,202.8L160.3,202.2L159.8,201.4L159.5,200.8L159.2,200.3L158.8,199.6L158.4,198.8L158.2,198.3L157.8,197.4L157.5,196.8L157.3,196.2L157.0,195.3L156.8,194.6L156.6,193.8L156.3,192.8L156.2,192.3L156.0,191.3L155.9,190.3L155.8,189.3L155.8,188.8L155.7,187.8L155.6,186.8L155.6,185.8L155.6,184.8L155.6,183.8L155.7,182.8L155.7,181.8L155.8,181.1L155.9,180.3L156.0,179.3L156.2,178.3L156.4,177.8L156.6,176.8L156.8,176.2L157.0,175.3L157.3,174.4L157.5,173.8L157.8,172.9L158.0,172.3L158.3,171.7L158.7,170.8L159.0,170.3L159.3,169.8L159.8,169.1L160.3,168.3L160.7,167.8L161.1,167.3L161.5,166.8L161.9,166.3L162.4,165.8L162.8,165.3L163.3,164.7L163.8,164.2L164.3,163.7L164.8,163.3L165.5,162.8L166.3,162.3L166.8,162.1L167.4,161.8L168.3,161.4L168.8,161.2L169.8,160.8L170.3,160.7L171.3,160.5L172.3,160.3L172.8,160.3L173.8,160.3L174.8,160.3L175.3,160.3L176.3,160.5L177.3,160.8L177.8,161.0L178.6,161.3L179.3,161.6L179.8,161.9L180.3,162.3L181.0,162.8L181.7,163.3L182.3,163.8L182.8,164.3L183.3,164.7L183.8,165.3L184.3,165.8L184.7,166.3L185.1,166.8L185.5,167.3L185.8,167.8L186.3,168.5L186.8,169.3L187.1,169.8L187.4,170.3L187.8,171.0L188.2,171.8L188.5,172.3L188.8,172.9L189.2,173.8L189.4,174.3L189.8,175.3L190.0,175.8L190.3,176.8L190.5,177.3L190.8,178.1L191.1,178.8L191.3,179.3L191.8,180.2L192.1,180.8L192.4,181.3L192.8,182.2L193.1,182.8L193.3,183.4L193.6,184.3L193.8,184.8L194.3,185.8L194.6,186.3L194.9,186.8L195.3,187.3L195.8,187.8L196.3,188.3L196.9,188.8L197.4,189.3L198.1,189.8L198.7,190.3L199.3,190.7L199.8,191.1L200.3,191.3L201.3,191.8L201.8,191.9L202.8,191.9L203.8,192.0L204.5,192.3L205.1,192.8L205.4,193.3L205.8,193.9L206.3,194.6L206.8,195.2L207.2,195.8L207.4,196.3L207.3,197.1L206.9,197.8L206.3,198.3L205.8,198.7L205.3,199.2L204.8,199.6L204.3,200.1L203.8,200.5L203.3,200.9L202.7,201.3L201.8,201.8L201.3,202.0L200.4,202.3L199.8,202.5L198.8,202.8L198.3,202.9L197.3,203.3L196.8,203.5L196.2,203.8L195.3,204.2L194.8,204.5L194.3,204.8L193.3,205.3L192.8,205.5L192.2,205.8L191.3,206.2L190.8,206.4L189.8,206.8L189.3,207.0L188.7,207.3L187.8,207.7L187.3,207.9L186.4,208.3L185.8,208.5L185.0,208.8L184.3,209.0L183.4,209.3L182.8,209.5L181.8,209.8L181.3,210.0L180.3,210.3L179.8,210.4L178.8,210.7L178.3,210.8M204.8,177.9L204.3,177.8L203.6,177.3L203.2,176.8L202.8,176.1L202.5,175.3L202.4,174.3L202.3,173.7L202.3,172.8L202.2,171.8L202.3,170.8L202.4,170.3L202.7,169.3L202.9,168.8L203.3,168.2L203.8,167.6L204.3,167.0L204.8,166.6L205.3,166.2L206.3,165.9L207.1,166.3L207.7,166.8L208.1,167.3L208.4,167.8L208.8,168.6L209.0,169.3L209.2,170.3L209.1,171.3L208.9,172.3L208.7,172.8L208.3,173.8L208.0,174.3L207.8,174.8L207.3,175.5L206.8,176.2L206.3,176.7L205.8,177.3L205.3,177.7L204.8,177.9M235.8,189.3L234.8,189.5L233.8,189.5L232.8,189.3L232.3,189.2L231.3,188.9L230.8,188.7L230.1,188.3L229.3,187.8L228.8,187.4L228.3,186.9L227.8,186.3L227.5,185.8L227.2,185.3L226.8,184.3L226.6,183.8L226.3,183.1L226.0,182.3L225.8,181.8L225.4,180.8L225.3,180.3L225.0,179.3L224.8,178.4L224.7,177.8L224.5,176.8L224.3,176.0L224.1,175.3L223.9,174.3L223.8,173.4L223.7,172.8L223.6,171.8L223.5,170.8L223.4,169.8L223.4,168.8L223.4,167.8L223.4,166.8L223.4,165.8L223.4,164.8L223.5,163.8L223.5,162.8L223.5,161.8L223.6,160.8L223.7,159.8L223.8,159.3L224.0,158.3L224.3,157.3L224.4,156.8L224.7,155.8L224.8,155.3L225.0,154.3L225.3,153.3L225.4,152.8L225.7,151.8L225.9,151.3L226.3,150.3L226.5,149.8L226.8,149.2L227.2,148.3L227.5,147.8L227.8,147.1L228.2,146.3L228.4,145.8L228.8,145.2L229.3,144.5L229.8,143.9L230.3,143.4L230.8,142.9L231.3,142.4L231.8,142.1L232.3,141.8L233.3,141.6L234.3,141.5L235.3,141.6L236.0,141.8L236.8,142.1L237.3,142.4L238.0,142.8L238.7,143.3L239.2,143.8L239.7,144.3L240.1,144.8L240.5,145.3L240.9,145.8L241.3,146.5L241.7,147.3L242.0,147.8L242.3,148.3L242.8,149.2L243.1,149.8L243.3,150.3L243.8,151.3L244.0,151.8L244.3,152.7L244.5,153.3L244.7,154.3L244.9,154.8L245.2,155.8L245.3,156.3L245.5,157.3L245.7,158.3L245.8,158.8L245.9,159.8L246.0,160.8L246.1,161.8L246.2,162.8L246.3,163.8L246.3,164.8L246.3,165.3L246.3,166.3L246.3,167.3L246.3,168.0L246.3,168.8L246.3,169.8L246.3,170.8L246.2,171.8L246.1,172.8L246.0,173.8L245.9,174.8L245.8,175.3L245.6,176.3L245.3,177.3L245.2,177.8L244.9,178.8L244.8,179.3L244.5,180.3L244.3,181.1L244.1,181.8L243.8,182.5L243.4,183.3L243.0,183.8L242.6,184.3L242.2,184.8L241.7,185.3L241.3,185.8L240.8,186.3L240.3,186.8L239.7,187.3L239.1,187.8L238.4,188.3L237.8,188.6L237.3,188.9L236.3,189.2L235.8,189.3M177.3,206.9L176.3,207.0L175.3,207.1L174.3,207.0L173.3,206.8L172.8,206.8L171.8,206.5L170.9,206.3L170.3,206.1L169.4,205.8L168.8,205.6L168.3,205.3L167.4,204.8L166.8,204.3L166.3,203.9L165.8,203.5L165.3,203.0L164.8,202.5L164.3,201.9L163.8,201.3L163.4,200.8L163.0,200.3L162.6,199.8L162.3,199.3L161.8,198.5L161.4,197.8L161.2,197.3L160.8,196.5L160.5,195.8L160.3,195.2L160.0,194.3L159.8,193.8L159.5,192.8L159.3,192.2L159.1,191.3L158.9,190.3L158.8,189.7L158.7,188.8L158.7,187.8L158.7,186.8L158.8,185.8L158.8,184.9L158.8,184.3L158.9,183.3L159.0,182.3L159.1,181.3L159.3,180.3L159.4,179.8L159.5,178.8L159.8,177.8L159.9,177.3L160.1,176.3L160.3,175.8L160.6,174.8L160.8,174.3L161.3,173.3L161.5,172.8L161.8,172.3L162.3,171.6L162.8,170.9L163.3,170.3L163.8,169.8L164.3,169.3L164.8,168.8L165.3,168.4L165.8,167.9L166.3,167.4L166.8,167.0L167.3,166.7L167.9,166.3L168.8,165.8L169.3,165.6L170.1,165.3L170.8,165.0L171.5,164.8L172.3,164.6L173.3,164.5L174.3,164.5L175.3,164.7L175.8,164.8L176.8,165.3L177.3,165.5L177.8,165.8L178.6,166.3L179.3,166.8L179.8,167.1L180.3,167.5L180.8,167.9L181.3,168.4L181.8,168.9L182.3,169.4L182.8,170.0L183.3,170.7L183.7,171.3L184.0,171.8L184.3,172.4L184.8,173.2L185.1,173.8L185.3,174.3L185.8,175.3L186.0,175.8L186.3,176.4L186.7,177.3L186.9,177.8L187.3,178.8L187.5,179.3L187.8,180.2L188.0,180.8L188.3,181.8L188.4,182.3L188.7,183.3L188.8,183.9L189.0,184.8L189.3,185.8L189.4,186.3L189.6,187.3L189.8,187.9L190.0,188.8L190.2,189.8L190.3,190.3L190.4,191.3L190.6,192.3L190.7,193.3L190.8,193.8L191.0,194.8L191.1,195.8L191.0,196.8L190.8,197.4L190.3,198.2L189.8,198.8L189.3,199.3L188.9,199.8L188.4,200.3L188.0,200.8L187.7,201.3L187.3,201.8L186.8,202.4L186.3,202.9L185.8,203.4L185.3,203.8L184.5,204.3L183.8,204.6L183.3,204.8L182.3,205.2L181.8,205.4L180.8,205.7L180.3,205.9L179.3,206.3L178.8,206.5L177.8,206.8L177.3,206.9M238.3,181.3L237.3,181.6L236.3,181.6L235.3,181.6L234.3,181.5L233.3,181.4L232.8,181.3L231.8,180.9L231.3,180.7L230.6,180.3L230.0,179.8L229.5,179.3L229.2,178.8L228.8,178.2L228.4,177.3L228.1,176.8L227.8,175.9L227.6,175.3L227.4,174.3L227.3,173.8L227.1,172.8L226.9,171.8L226.8,170.8L226.8,170.3L226.7,169.3L226.8,168.3L226.8,167.8L226.9,166.8L227.0,165.8L227.0,164.8L227.0,163.8L226.9,162.8L227.0,161.8L227.1,160.8L227.3,160.1L227.6,159.3L227.8,158.8L228.2,157.8L228.5,157.3L228.8,156.6L229.2,155.8L229.4,155.3L229.8,154.5L230.2,153.8L230.5,153.3L230.9,152.8L231.4,152.3L232.0,151.8L232.8,151.3L233.3,151.1L234.3,150.9L235.3,150.9L236.3,151.0L236.9,151.3L237.8,151.8L238.3,152.2L238.8,152.7L239.3,153.3L239.6,153.8L240.0,154.3L240.3,154.8L240.8,155.7L241.1,156.3L241.4,156.8L241.8,157.6L242.1,158.3L242.3,159.0L242.5,159.8L242.7,160.8L242.8,161.3L243.0,162.3L243.1,163.3L243.2,164.3L243.2,165.3L243.3,166.3L243.3,167.3L243.3,168.3L243.2,169.3L243.2,170.3L243.1,171.3L242.9,172.3L242.8,172.8L242.6,173.8L242.3,174.8L242.2,175.3L241.9,176.3L241.7,176.8L241.3,177.7L241.0,178.3L240.7,178.8L240.3,179.5L239.8,180.2L239.3,180.7L238.8,181.1L238.3,181.3M175.3,202.9L174.3,202.9L173.3,202.8L172.8,202.7L171.8,202.4L171.3,202.2L170.5,201.8L169.8,201.4L169.3,201.1L168.8,200.7L168.2,200.3L167.6,199.8L167.1,199.3L166.6,198.8L166.1,198.3L165.7,197.8L165.3,197.3L164.8,196.7L164.3,195.9L163.9,195.3L163.7,194.8L163.3,194.0L163.0,193.3L162.8,192.7L162.5,191.8L162.3,190.8L162.2,190.3L162.1,189.3L162.0,188.3L162.0,187.3L162.0,186.3L162.0,185.3L162.0,184.3L162.0,183.3L162.1,182.3L162.3,181.3L162.4,180.8L162.7,179.8L162.8,179.3L163.1,178.3L163.3,177.6L163.6,176.8L163.8,176.2L164.2,175.3L164.5,174.8L164.8,174.3L165.3,173.7L165.8,173.2L166.3,172.7L166.8,172.2L167.3,171.7L167.8,171.3L168.5,170.8L169.3,170.3L169.8,170.0L170.3,169.8L171.3,169.3L171.8,169.2L172.8,169.0L173.8,169.1L174.6,169.3L175.3,169.5L175.9,169.8L176.8,170.3L177.3,170.6L177.8,170.9L178.3,171.3L178.9,171.8L179.5,172.3L180.0,172.8L180.5,173.3L181.0,173.8L181.4,174.3L181.8,174.8L182.3,175.6L182.7,176.3L182.9,176.8L183.2,177.8L183.4,178.3L183.7,179.3L183.8,179.8L184.1,180.8L184.3,181.3L184.6,182.3L184.7,183.3L184.8,183.9L184.9,184.8L185.0,185.8L185.1,186.8L185.2,187.8L185.3,188.3L185.5,189.3L185.6,190.3L185.7,191.3L185.8,192.3L185.8,193.3L185.6,194.3L185.3,195.3L185.1,195.8L184.8,196.3L184.3,197.1L183.8,197.8L183.5,198.3L183.1,198.8L182.6,199.3L182.2,199.8L181.6,200.3L180.9,200.8L180.3,201.2L179.8,201.5L179.1,201.8L178.3,202.1L177.8,202.3L176.8,202.6L175.8,202.8L175.3,202.9M235.3,172.3L234.3,172.3L233.8,172.2L233.0,171.8L232.5,171.3L232.3,170.8L231.9,169.8L231.8,168.9L231.8,168.3L231.7,167.3L231.7,166.3L231.7,165.3L231.8,164.7L232.0,163.8L232.3,163.2L232.8,162.7L233.8,162.5L234.7,162.8L235.3,163.2L235.8,163.6L236.3,164.0L236.8,164.8L237.0,165.3L237.1,166.3L237.1,167.3L237.1,168.3L237.1,169.3L237.2,170.3L237.0,171.3L236.6,171.8L235.8,172.3L235.3,172.3M173.8,197.8L173.3,197.8L172.3,197.5L171.8,197.3L171.2,196.8L170.7,196.3L170.2,195.8L169.7,195.3L169.3,194.8L168.8,194.3L168.3,193.8L167.8,193.3L167.3,192.6L166.9,191.8L166.6,191.3L166.3,190.3L166.2,189.8L165.9,188.8L165.8,187.8L165.8,187.3L165.7,186.3L165.7,185.3L165.8,184.6L165.9,183.8L166.1,182.8L166.2,181.8L166.3,181.3L166.5,180.3L166.8,179.3L167.0,178.8L167.3,178.2L167.8,177.5L168.3,176.9L168.8,176.5L169.3,176.1L169.8,175.8L170.8,175.3L171.3,175.1L172.3,175.0L173.3,175.1L174.3,175.3L174.8,175.4L175.8,175.8L176.3,176.0L176.9,176.3L177.6,176.8L178.2,177.3L178.6,177.8L179.0,178.3L179.3,178.9L179.7,179.8L179.9,180.3L180.3,181.3L180.4,181.8L180.7,182.8L180.8,183.3L180.9,184.3L181.0,185.3L181.1,186.3L181.2,187.3L181.3,188.1L181.4,188.8L181.4,189.8L181.3,190.8L181.2,191.3L180.9,192.3L180.7,192.8L180.3,193.5L179.8,194.2L179.3,194.7L178.8,195.2L178.3,195.7L177.8,196.1L177.3,196.5L176.8,196.8L175.8,197.3L175.3,197.5L174.3,197.8L173.8,197.8" stroke="#3b7535" stroke-width="1.1" fill="none" stroke-linejoin="round"/><path d="M234.8,203.3L233.8,203.4L232.8,203.5L231.8,203.6L230.8,203.6L229.8,203.7L228.8,203.6L227.8,203.4L227.3,203.3L226.3,203.0L225.8,202.8L224.8,202.3L224.3,202.1L223.8,201.8L223.1,201.3L222.4,200.8L221.8,200.3L221.3,199.9L220.8,199.4L220.3,199.0L219.8,198.4L219.3,197.9L218.8,197.3L218.4,196.8L218.0,196.3L217.6,195.8L217.3,195.3L216.8,194.5L216.3,193.8L216.0,193.3L215.7,192.8L215.3,192.1L214.8,191.3L214.5,190.8L214.3,190.3L213.8,189.4L213.5,188.8L213.3,188.3L212.8,187.4L212.5,186.8L212.3,186.3L211.8,185.3L211.6,184.8L211.3,184.1L210.9,183.3L210.7,182.8L210.3,182.1L209.8,181.3L209.5,180.8L209.2,180.3L208.8,179.6L208.3,178.8L208.0,178.3L207.6,177.8L207.3,177.3L206.8,176.7L206.3,176.1L205.8,175.6L205.3,175.1L204.8,174.8L203.8,174.4L203.3,174.2L202.3,174.1L201.3,174.2L200.8,174.4L199.9,174.8L199.3,175.2L198.8,175.5L198.2,175.8L197.3,176.2L196.8,176.4L195.8,176.7L195.3,176.8L194.3,177.0L193.3,177.1L192.3,177.0L191.6,176.8L190.8,176.5L190.3,176.3L189.3,175.9L188.8,175.8L187.8,175.5L187.3,175.3L186.3,175.0L185.6,174.8L184.8,174.5L184.1,174.3L183.3,174.0L182.8,173.8L181.9,173.3L181.3,173.0L180.8,172.6L180.3,172.2L179.8,171.7L179.3,171.2L178.8,170.7L178.3,170.1L177.8,169.6L177.3,169.0L176.8,168.4L176.3,167.8L176.0,167.3L175.6,166.8L175.3,166.3L174.8,165.5L174.4,164.8L174.1,164.3L173.8,163.7L173.3,162.8L173.0,162.3L172.8,161.8L172.3,161.0L172.0,160.3L171.7,159.8L171.3,159.0L170.9,158.3L170.7,157.8L170.3,157.0L170.0,156.3L169.8,155.8L169.4,154.8L169.2,154.3L168.9,153.3L168.8,152.8L168.5,151.8L168.4,150.8L168.3,150.3L168.0,149.3L167.8,148.4L167.6,147.8L167.3,146.8L167.2,146.3L166.9,145.3L166.8,144.7L166.6,143.8L166.4,142.8L166.3,141.9L166.2,141.3L166.1,140.3L166.0,139.3L165.9,138.3L165.8,137.6L165.7,136.8L165.7,135.8L165.6,134.8L165.6,133.8L165.6,132.8L165.5,131.8L165.4,130.8L165.4,129.8L165.4,128.8L165.4,127.8L165.4,126.8L165.5,125.8L165.5,124.8L165.5,123.8L165.6,122.8L165.8,121.8L165.8,121.3L166.0,120.3L166.1,119.3L166.2,118.3L166.3,117.5L166.4,116.8L166.6,115.8L166.8,114.8L166.9,114.3L167.1,113.3L167.3,112.3L167.4,111.8L167.6,110.8L167.8,109.8L167.9,109.3L168.1,108.3L168.3,107.6L168.5,106.8L168.8,105.8L169.0,105.3L169.3,104.3L169.5,103.8L169.8,102.9L170.0,102.3L170.3,101.6L170.6,100.8L170.8,100.3L171.2,99.3L171.4,98.8L171.8,97.8L171.9,97.3L172.3,96.3L172.4,95.8L172.8,94.8L173.0,94.3L173.3,93.7L173.8,92.9L174.2,92.3L174.5,91.8L174.8,91.3L175.3,90.6L175.8,89.8L176.1,89.3L176.4,88.8L176.8,88.2L177.3,87.4L177.7,86.8L178.0,86.3L178.4,85.8L178.8,85.2L179.3,84.5L179.8,83.8L180.2,83.3L180.7,82.8L181.2,82.3L181.8,81.8L182.3,81.4L182.8,81.0L183.3,80.6L183.8,80.3L184.5,79.8L185.2,79.3L185.8,78.9L186.3,78.5L186.8,78.1L187.3,77.7L187.8,77.3L188.5,76.8L189.2,76.3L189.8,75.9L190.3,75.6L191.0,75.3L191.8,75.0L192.3,74.8L193.3,74.4L193.8,74.2L194.8,73.8L195.3,73.6L196.1,73.3L196.8,73.1L197.7,72.8L198.3,72.6L199.3,72.4L199.9,72.3L200.8,72.2L201.8,72.0L202.8,71.9L203.6,71.8L204.3,71.7L205.3,71.5L206.3,71.3L206.8,71.2L207.8,71.1L208.8,71.0L209.8,70.8L210.3,70.7L211.3,70.5L212.1,70.3L212.8,70.1L213.8,69.8L214.3,69.7L215.3,69.4L215.9,69.3L216.8,69.1L217.8,68.9L218.4,68.8L219.3,68.6L220.3,68.4L220.8,68.3L221.8,68.1L222.8,68.0L223.8,67.9L224.8,67.9L225.8,67.8L226.8,67.8L227.8,67.9L228.8,68.0L229.8,68.1L230.7,68.3L231.3,68.4L232.3,68.7L232.8,68.8L233.8,69.1L234.6,69.3L235.3,69.5L236.3,69.8L236.8,70.0L237.7,70.3L238.3,70.5L238.8,70.8L239.8,71.3L240.3,71.6L240.8,72.0L241.3,72.3L241.9,72.8L242.5,73.3L243.1,73.8L243.6,74.3L244.2,74.8L244.6,75.3L245.1,75.8L245.5,76.3L245.9,76.8L246.3,77.3L246.8,77.9L247.3,78.6L247.8,79.3L248.2,79.8L248.5,80.3L248.8,80.8L249.3,81.6L249.7,82.3L250.0,82.8L250.3,83.5L250.7,84.3L250.9,84.8L251.3,85.8L251.5,86.3L251.8,87.3L251.9,87.8L252.2,88.8L252.3,89.3L252.6,90.3L252.8,91.1L253.0,91.8L253.3,92.8L253.4,93.3L253.6,94.3L253.8,95.3L253.9,95.8L254.0,96.8L254.1,97.8L254.3,98.8L254.3,99.3L254.4,100.3L254.6,101.3L254.7,102.3L254.8,103.2L254.9,103.8L255.0,104.8L255.0,105.8L255.1,106.8L255.2,107.8L255.2,108.8L255.3,109.8L255.3,110.3L255.4,111.3L255.4,112.3L255.5,113.3L255.6,114.3L255.7,115.3L255.7,116.3L255.8,117.3L255.8,117.9L255.9,118.8L255.9,119.8L256.0,120.8L256.0,121.8L256.1,122.8L256.1,123.8L256.2,124.8L256.3,125.8L256.3,126.7L256.3,127.3L256.4,128.3L256.4,129.3L256.4,130.3L256.4,131.3L256.4,132.3L256.5,133.3L256.5,134.3L256.6,135.3L256.6,136.3L256.6,137.3L256.6,138.3L256.6,139.3L256.6,140.3L256.6,141.3L256.6,142.3L256.5,143.3L256.5,144.3L256.5,145.3L256.4,146.3L256.4,147.3L256.4,148.3L256.3,149.3L256.3,149.8L256.3,150.8L256.2,151.8L256.1,152.8L256.0,153.8L256.0,154.8L255.9,155.8L255.8,156.8L255.8,157.6L255.8,158.3L255.7,159.3L255.6,160.3L255.4,161.3L255.3,162.3L255.2,162.8L255.1,163.8L255.0,164.8L254.8,165.8L254.8,166.3L254.6,167.3L254.5,168.3L254.3,169.3L254.2,169.8L254.1,170.8L253.9,171.8L253.8,172.5L253.7,173.3L253.5,174.3L253.3,175.1L253.2,175.8L252.9,176.8L252.8,177.3L252.5,178.3L252.3,179.2L252.1,179.8L251.8,180.8L251.7,181.3L251.4,182.3L251.2,182.8L250.9,183.8L250.8,184.3L250.4,185.3L250.2,185.8L249.9,186.8L249.7,187.3L249.3,188.2L249.0,188.8L248.8,189.4L248.4,190.3L248.2,190.8L247.8,191.7L247.5,192.3L247.2,192.8L246.8,193.6L246.4,194.3L246.1,194.8L245.8,195.3L245.3,196.1L244.9,196.8L244.5,197.3L244.2,197.8L243.8,198.3L243.3,198.8L242.8,199.4L242.3,199.8L241.8,200.3L241.1,200.8L240.4,201.3L239.8,201.6L239.3,201.9L238.4,202.3L237.8,202.5L237.0,202.8L236.3,203.0L235.3,203.2L234.8,203.3M235.3,194.4L234.3,194.5L233.3,194.6L232.3,194.5L231.3,194.5L230.3,194.4L229.7,194.3L228.8,194.2L227.8,194.1L226.8,193.8L226.3,193.7L225.3,193.3L224.8,193.1L224.3,192.8L223.5,192.3L222.9,191.8L222.3,191.3L221.8,190.8L221.4,190.3L220.9,189.8L220.5,189.3L220.1,188.8L219.7,188.3L219.3,187.8L218.8,187.1L218.3,186.4L217.9,185.8L217.6,185.3L217.3,184.8L216.8,183.9L216.5,183.3L216.2,182.8L215.8,181.9L215.5,181.3L215.3,180.8L214.9,179.8L214.7,179.3L214.3,178.3L214.1,177.8L213.8,176.9L213.6,176.3L213.3,175.4L213.1,174.8L212.8,173.8L212.6,173.3L212.3,172.4L212.1,171.8L211.8,170.9L211.6,170.3L211.3,169.4L211.1,168.8L210.8,167.8L210.7,167.3L210.3,166.3L210.2,165.8L209.8,164.8L209.7,164.3L209.3,163.3L209.1,162.8L208.8,162.0L208.5,161.3L208.3,160.7L207.9,159.8L207.7,159.3L207.3,158.5L206.9,157.8L206.6,157.3L206.3,156.8L205.8,155.9L205.4,155.3L205.0,154.8L204.4,154.3L203.8,153.9L203.3,153.7L202.3,153.6L201.3,153.7L200.8,153.9L200.0,154.3L199.3,154.7L198.8,155.1L198.3,155.4L197.6,155.8L196.8,156.2L196.3,156.4L195.3,156.8L194.8,157.0L194.0,157.3L193.3,157.6L192.3,157.7L191.3,157.5L190.6,157.3L189.8,156.9L189.3,156.6L188.7,156.3L187.8,155.8L187.3,155.6L186.4,155.3L185.8,155.1L185.1,154.8L184.3,154.3L183.8,153.9L183.3,153.4L182.8,152.8L182.5,152.3L182.1,151.8L181.8,151.2L181.3,150.5L180.9,149.8L180.6,149.3L180.3,148.8L179.8,147.8L179.6,147.3L179.3,146.3L179.2,145.8L178.9,144.8L178.8,144.3L178.4,143.3L178.2,142.8L177.9,141.8L177.7,141.3L177.5,140.3L177.3,139.6L177.1,138.8L176.9,137.8L176.8,137.3L176.6,136.3L176.5,135.3L176.4,134.3L176.3,133.3L176.3,132.3L176.3,131.7L176.2,130.8L176.1,129.8L176.0,128.8L175.9,127.8L175.8,127.1L175.8,126.3L175.8,125.7L175.9,124.8L176.1,123.8L176.3,123.1L176.6,122.3L176.8,121.7L177.1,120.8L177.3,120.2L177.5,119.3L177.6,118.3L177.6,117.3L177.5,116.3L177.6,115.3L177.8,114.3L177.9,113.8L178.3,112.8L178.5,112.3L178.8,111.3L178.9,110.8L179.2,109.8L179.4,109.3L179.8,108.4L180.1,107.8L180.4,107.3L180.8,106.5L181.1,105.8L181.4,105.3L181.8,104.3L182.0,103.8L182.3,103.3L182.8,102.4L183.1,101.8L183.4,101.3L183.8,100.7L184.3,99.9L184.6,99.3L184.9,98.8L185.3,98.2L185.8,97.4L186.2,96.8L186.6,96.3L187.0,95.8L187.4,95.3L187.8,94.7L188.3,93.9L188.6,93.3L188.9,92.8L189.3,92.2L189.8,91.5L190.3,90.9L190.8,90.4L191.3,90.0L191.8,89.5L192.3,89.1L192.8,88.7L193.3,88.3L194.0,87.8L194.7,87.3L195.3,86.9L195.8,86.5L196.3,86.2L196.9,85.8L197.8,85.3L198.3,85.1L199.1,84.8L199.8,84.6L200.7,84.3L201.3,84.1L202.0,83.8L202.8,83.5L203.3,83.3L204.3,82.8L204.8,82.6L205.5,82.3L206.3,82.0L206.8,81.8L207.8,81.4L208.3,81.2L209.3,80.8L209.8,80.6L210.4,80.3L211.3,79.8L211.8,79.6L212.4,79.3L213.3,78.9L213.8,78.7L214.7,78.3L215.3,78.1L216.1,77.8L216.8,77.6L217.8,77.3L218.3,77.2L219.3,77.0L220.3,76.8L220.8,76.7L221.8,76.5L222.5,76.3L223.3,76.1L224.3,75.9L225.3,75.8L225.8,75.8L226.4,75.8L227.3,75.9L228.3,76.0L229.3,76.2L229.8,76.3L230.8,76.5L231.8,76.7L232.3,76.9L233.3,77.1L234.2,77.3L234.8,77.5L235.7,77.8L236.3,78.1L236.8,78.4L237.6,78.8L238.3,79.2L238.8,79.5L239.3,79.9L239.9,80.3L240.5,80.8L241.1,81.3L241.7,81.8L242.2,82.3L242.6,82.8L243.0,83.3L243.4,83.8L243.8,84.3L244.3,85.0L244.8,85.7L245.2,86.3L245.5,86.8L245.8,87.4L246.3,88.3L246.6,88.8L246.9,89.3L247.3,90.2L247.6,90.8L247.8,91.3L248.2,92.3L248.3,92.8L248.6,93.8L248.8,94.4L249.0,95.3L249.2,96.3L249.3,96.8L249.6,97.8L249.8,98.8L249.9,99.3L250.1,100.3L250.3,101.1L250.4,101.8L250.6,102.8L250.8,103.8L250.9,104.3L251.0,105.3L251.2,106.3L251.3,106.9L251.4,107.8L251.6,108.8L251.7,109.8L251.8,110.6L251.9,111.3L252.0,112.3L252.1,113.3L252.2,114.3L252.3,115.1L252.4,115.8L252.5,116.8L252.5,117.8L252.6,118.8L252.7,119.8L252.8,120.5L252.9,121.3L253.0,122.3L253.1,123.3L253.2,124.3L253.2,125.3L253.3,126.0L253.4,126.8L253.4,127.8L253.4,128.8L253.5,129.8L253.5,130.8L253.5,131.8L253.6,132.8L253.6,133.8L253.6,134.8L253.7,135.8L253.7,136.8L253.7,137.8L253.7,138.8L253.7,139.8L253.7,140.8L253.7,141.8L253.7,142.8L253.7,143.8L253.6,144.8L253.6,145.8L253.6,146.8L253.5,147.8L253.5,148.8L253.5,149.8L253.4,150.8L253.3,151.8L253.3,152.3L253.2,153.3L253.1,154.3L253.0,155.3L252.9,156.3L252.8,157.3L252.8,157.8L252.7,158.8L252.6,159.8L252.4,160.8L252.3,161.7L252.2,162.3L252.0,163.3L251.9,164.3L251.8,164.8L251.6,165.8L251.5,166.8L251.3,167.7L251.2,168.3L251.0,169.3L250.8,170.1L250.6,170.8L250.4,171.8L250.2,172.3L250.0,173.3L249.8,174.0L249.6,174.8L249.4,175.8L249.2,176.3L248.9,177.3L248.8,177.8L248.4,178.8L248.2,179.3L247.8,180.3L247.6,180.8L247.3,181.5L247.0,182.3L246.8,182.8L246.4,183.8L246.1,184.3L245.8,185.0L245.4,185.8L245.1,186.3L244.8,186.8L244.3,187.5L243.8,188.2L243.4,188.8L242.9,189.3L242.5,189.8L242.0,190.3L241.5,190.8L240.9,191.3L240.3,191.8L239.8,192.2L239.3,192.5L238.8,192.9L238.1,193.3L237.3,193.7L236.8,193.9L235.8,194.3L235.3,194.4M231.8,187.3L230.8,187.4L229.8,187.4L229.0,187.3L228.3,187.2L227.3,186.9L226.8,186.8L225.8,186.3L225.3,186.0L224.8,185.7L224.3,185.3L223.7,184.8L223.2,184.3L222.7,183.8L222.2,183.3L221.8,182.8L221.3,182.3L220.8,181.7L220.3,181.1L219.8,180.4L219.4,179.8L219.1,179.3L218.8,178.8L218.3,177.9L218.0,177.3L217.8,176.8L217.4,175.8L217.3,175.3L217.0,174.3L216.8,173.8L216.5,172.8L216.3,172.3L215.9,171.3L215.7,170.8L215.3,169.9L215.1,169.3L214.8,168.5L214.6,167.8L214.3,167.0L214.1,166.3L213.9,165.3L213.8,164.8L213.6,163.8L213.3,162.8L213.2,162.3L213.0,161.3L212.8,160.5L212.7,159.8L212.5,158.8L212.3,157.9L212.2,157.3L212.0,156.3L211.9,155.3L211.8,154.7L211.6,153.8L211.4,152.8L211.3,152.3L211.1,151.3L210.8,150.3L210.7,149.8L210.5,148.8L210.4,147.8L210.3,147.2L210.2,146.3L210.1,145.3L210.1,144.3L210.1,143.3L210.1,142.3L210.1,141.3L210.0,140.3L209.9,139.3L209.8,138.6L209.7,137.8L209.6,136.8L209.5,135.8L209.5,134.8L209.5,133.8L209.5,132.8L209.5,131.8L209.5,130.8L209.4,129.8L209.4,128.8L209.4,127.8L209.4,126.8L209.4,125.8L209.5,124.8L209.5,123.8L209.5,122.8L209.4,121.8L209.3,120.8L209.3,120.3L209.2,119.3L209.2,118.3L209.2,117.3L209.2,116.3L209.1,115.3L208.9,114.3L208.8,113.8L208.4,112.8L208.3,112.3L207.9,111.3L207.8,110.8L207.6,109.8L207.4,108.8L207.3,108.0L207.2,107.3L207.1,106.3L207.0,105.3L207.1,104.3L207.1,103.3L207.1,102.3L206.9,101.3L206.8,100.6L206.7,99.8L206.8,98.8L206.9,98.3L207.2,97.3L207.4,96.8L207.8,96.0L208.2,95.3L208.5,94.8L208.9,94.3L209.3,93.8L209.8,93.2L210.3,92.7L210.8,92.1L211.3,91.6L211.8,91.0L212.3,90.4L212.8,89.8L213.2,89.3L213.7,88.8L214.2,88.3L214.8,87.8L215.3,87.4L215.8,87.0L216.3,86.6L216.8,86.1L217.3,85.7L217.9,85.3L218.7,84.8L219.3,84.5L219.8,84.3L220.8,84.0L221.7,83.8L222.3,83.7L223.3,83.5L224.3,83.3L224.8,83.2L225.8,83.1L226.8,83.0L227.8,83.0L228.8,83.0L229.8,83.1L230.6,83.3L231.3,83.5L232.3,83.8L232.8,84.0L233.7,84.3L234.3,84.6L234.8,84.8L235.8,85.3L236.3,85.6L236.8,85.9L237.3,86.3L238.0,86.8L238.6,87.3L239.2,87.8L239.7,88.3L240.2,88.8L240.6,89.3L241.1,89.8L241.5,90.3L241.8,90.8L242.3,91.5L242.8,92.2L243.1,92.8L243.4,93.3L243.8,93.9L244.3,94.8L244.5,95.3L244.8,95.9L245.2,96.8L245.4,97.3L245.7,98.3L245.9,98.8L246.2,99.8L246.4,100.3L246.7,101.3L246.8,101.8L247.0,102.8L247.3,103.8L247.4,104.3L247.6,105.3L247.8,106.0L248.0,106.8L248.3,107.8L248.4,108.3L248.6,109.3L248.7,110.3L248.8,110.8L249.0,111.8L249.1,112.8L249.3,113.8L249.4,114.3L249.5,115.3L249.7,116.3L249.8,117.3L249.8,117.8L249.9,118.8L250.1,119.8L250.2,120.8L250.3,121.8L250.4,122.3L250.5,123.3L250.6,124.3L250.7,125.3L250.8,125.8L250.9,126.8L251.0,127.8L251.1,128.8L251.1,129.8L251.1,130.8L251.1,131.8L251.2,132.8L251.2,133.8L251.2,134.8L251.3,135.8L251.3,136.6L251.3,137.3L251.4,138.3L251.4,139.3L251.4,140.3L251.3,141.3L251.3,142.0L251.3,142.8L251.2,143.8L251.2,144.8L251.1,145.8L251.1,146.8L251.1,147.8L251.1,148.8L251.1,149.8L251.0,150.8L250.9,151.8L250.8,152.8L250.7,153.3L250.6,154.3L250.5,155.3L250.3,156.3L250.3,156.8L250.1,157.8L250.0,158.8L249.9,159.8L249.8,160.4L249.7,161.3L249.5,162.3L249.4,163.3L249.3,163.8L249.1,164.8L248.9,165.8L248.8,166.4L248.6,167.3L248.3,168.3L248.2,168.8L247.9,169.8L247.7,170.3L247.4,171.3L247.2,171.8L246.9,172.8L246.7,173.3L246.3,174.3L246.1,174.8L245.8,175.8L245.6,176.3L245.3,177.0L245.0,177.8L244.7,178.3L244.3,179.1L243.9,179.8L243.5,180.3L243.2,180.8L242.8,181.4L242.3,182.0L241.8,182.7L241.3,183.2L240.8,183.8L240.3,184.2L239.8,184.7L239.3,185.1L238.8,185.4L238.2,185.8L237.3,186.2L236.8,186.4L235.8,186.8L235.3,186.9L234.3,187.1L233.3,187.2L232.3,187.3L231.8,187.3M236.3,180.4L235.3,180.6L234.3,180.7L233.3,180.7L232.3,180.6L231.3,180.6L230.3,180.5L229.4,180.3L228.8,180.1L227.8,179.8L227.3,179.6L226.7,179.3L225.8,178.8L225.3,178.6L224.8,178.2L224.2,177.8L223.5,177.3L222.9,176.8L222.4,176.3L222.0,175.8L221.6,175.3L221.3,174.8L220.8,173.9L220.5,173.3L220.3,172.8L219.8,171.8L219.6,171.3L219.3,170.6L218.9,169.8L218.7,169.3L218.3,168.5L218.0,167.8L217.7,167.3L217.4,166.3L217.2,165.8L216.9,164.8L216.8,164.3L216.5,163.3L216.3,162.3L216.2,161.8L215.9,160.8L215.8,160.3L215.5,159.3L215.4,158.3L215.3,157.8L215.1,156.8L215.0,155.8L214.8,154.8L214.7,154.3L214.6,153.3L214.4,152.3L214.3,151.8L214.1,150.8L213.9,149.8L213.8,149.2L213.7,148.3L213.6,147.3L213.5,146.3L213.5,145.3L213.4,144.3L213.4,143.3L213.4,142.3L213.4,141.3L213.4,140.3L213.4,139.3L213.4,138.3L213.3,137.3L213.3,136.4L213.3,135.8L213.3,134.8L213.3,133.8L213.3,132.8L213.3,131.8L213.3,131.3L213.4,130.3L213.4,129.3L213.5,128.3L213.6,127.3L213.7,126.3L213.7,125.3L213.7,124.3L213.8,123.3L213.8,122.5L213.8,121.8L213.9,120.8L213.9,119.8L214.0,118.8L214.1,117.8L214.3,116.8L214.3,116.3L214.5,115.3L214.6,114.3L214.6,113.3L214.7,112.3L214.7,111.3L214.7,110.3L214.7,109.3L214.8,108.3L214.8,107.8L214.9,106.8L215.1,105.8L215.3,105.0L215.5,104.3L215.8,103.3L216.0,102.8L216.3,101.9L216.5,101.3L216.8,100.5L217.1,99.8L217.3,99.3L217.7,98.3L218.0,97.8L218.3,97.1L218.8,96.3L219.1,95.8L219.3,95.3L219.8,94.5L220.2,93.8L220.5,93.3L220.9,92.8L221.4,92.3L222.1,91.8L222.8,91.3L223.3,91.1L224.3,90.8L224.8,90.7L225.8,90.6L226.8,90.5L227.8,90.4L228.8,90.4L229.8,90.6L230.5,90.8L231.3,91.1L231.8,91.4L232.7,91.8L233.3,92.1L233.8,92.3L234.7,92.8L235.3,93.1L235.8,93.4L236.3,93.8L236.9,94.3L237.5,94.8L238.0,95.3L238.6,95.8L239.2,96.3L239.7,96.8L240.2,97.3L240.7,97.8L241.1,98.3L241.4,98.8L241.8,99.5L242.2,100.3L242.4,100.8L242.8,101.8L243.0,102.3L243.3,103.1L243.6,103.8L243.8,104.4L244.2,105.3L244.4,105.8L244.8,106.8L245.0,107.3L245.3,108.3L245.4,108.8L245.6,109.8L245.8,110.7L245.9,111.3L246.2,112.3L246.3,112.8L246.5,113.8L246.8,114.8L246.9,115.3L247.0,116.3L247.2,117.3L247.3,117.9L247.4,118.8L247.6,119.8L247.7,120.8L247.8,121.3L248.0,122.3L248.1,123.3L248.3,124.3L248.3,124.8L248.5,125.8L248.6,126.8L248.7,127.8L248.8,128.8L248.8,129.5L248.8,130.3L248.9,131.3L248.9,132.3L249.0,133.3L249.0,134.3L249.1,135.3L249.1,136.3L249.2,137.3L249.2,138.3L249.2,139.3L249.2,140.3L249.2,141.3L249.1,142.3L249.0,143.3L249.0,144.3L249.0,145.3L249.0,146.3L248.9,147.3L248.9,148.3L248.8,149.3L248.8,149.9L248.7,150.8L248.6,151.8L248.5,152.8L248.4,153.8L248.3,154.3L248.1,155.3L248.0,156.3L247.8,157.2L247.7,157.8L247.5,158.8L247.3,159.8L247.2,160.3L247.1,161.3L246.9,162.3L246.8,162.8L246.6,163.8L246.3,164.8L246.2,165.3L245.9,166.3L245.7,166.8L245.3,167.8L245.1,168.3L244.8,169.0L244.5,169.8L244.3,170.3L243.8,171.3L243.6,171.8L243.3,172.3L242.8,173.3L242.6,173.8L242.3,174.4L241.9,175.3L241.6,175.8L241.3,176.3L240.8,177.0L240.3,177.6L239.8,178.1L239.3,178.6L238.8,179.0L238.3,179.4L237.6,179.8L236.8,180.2L236.3,180.4M234.3,174.4L233.3,174.5L232.3,174.6L231.3,174.7L230.3,174.6L229.3,174.4L228.7,174.3L227.8,174.0L227.3,173.7L226.5,173.3L225.8,172.8L225.3,172.4L224.8,171.9L224.3,171.3L223.9,170.8L223.5,170.3L223.2,169.8L222.8,169.3L222.3,168.6L221.8,167.9L221.4,167.3L221.1,166.8L220.8,166.3L220.3,165.3L220.1,164.8L219.8,164.0L219.6,163.3L219.3,162.4L219.1,161.8L218.8,160.8L218.6,160.3L218.3,159.3L218.2,158.8L218.0,157.8L217.8,156.8L217.7,156.3L217.5,155.3L217.3,154.5L217.2,153.8L217.0,152.8L216.8,151.9L216.7,151.3L216.5,150.3L216.4,149.3L216.3,148.5L216.2,147.8L216.2,146.8L216.1,145.8L216.0,144.8L216.0,143.8L216.0,142.8L216.0,141.8L216.0,140.8L216.0,139.8L216.0,138.8L216.0,137.8L216.1,136.8L216.1,135.8L216.1,134.8L216.1,133.8L216.2,132.8L216.2,131.8L216.3,130.8L216.3,130.3L216.4,129.3L216.5,128.3L216.5,127.3L216.6,126.3L216.7,125.3L216.8,124.3L216.8,123.8L217.0,122.8L217.1,121.8L217.3,120.8L217.4,120.3L217.6,119.3L217.8,118.3L217.9,117.8L218.0,116.8L218.2,115.8L218.3,115.0L218.4,114.3L218.5,113.3L218.6,112.3L218.8,111.3L218.9,110.8L219.1,109.8L219.3,109.2L219.6,108.3L219.8,107.7L220.1,106.8L220.3,106.3L220.8,105.3L221.0,104.8L221.3,104.3L221.8,103.4L222.1,102.8L222.5,102.3L222.8,101.8L223.3,101.1L223.8,100.6L224.3,100.1L224.8,99.7L225.5,99.3L226.3,98.9L226.8,98.8L227.8,98.6L228.8,98.5L229.8,98.6L230.7,98.8L231.3,99.0L232.2,99.3L232.8,99.5L233.4,99.8L234.3,100.3L234.8,100.5L235.3,100.8L236.1,101.3L236.8,101.8L237.3,102.2L237.8,102.7L238.3,103.2L238.7,103.8L239.1,104.3L239.4,104.8L239.8,105.4L240.3,106.2L240.6,106.8L240.9,107.3L241.3,108.1L241.6,108.8L241.9,109.3L242.3,110.3L242.4,110.8L242.8,111.8L243.0,112.3L243.3,113.3L243.5,113.8L243.8,114.8L243.9,115.3L244.2,116.3L244.3,116.9L244.5,117.8L244.7,118.8L244.8,119.3L245.1,120.3L245.3,121.2L245.4,121.8L245.7,122.8L245.8,123.5L245.9,124.3L246.0,125.3L246.2,126.3L246.3,127.3L246.3,127.8L246.5,128.8L246.6,129.8L246.6,130.8L246.7,131.8L246.7,132.8L246.8,133.8L246.8,134.3L246.9,135.3L246.9,136.3L247.0,137.3L247.0,138.3L247.0,139.3L247.0,140.3L247.0,141.3L247.0,142.3L247.0,143.3L247.0,144.3L246.9,145.3L246.9,146.3L246.9,147.3L246.8,148.2L246.7,148.8L246.6,149.8L246.5,150.8L246.3,151.8L246.2,152.3L246.0,153.3L245.9,154.3L245.8,154.8L245.6,155.8L245.4,156.8L245.3,157.4L245.1,158.3L244.9,159.3L244.7,159.8L244.5,160.8L244.3,161.4L244.0,162.3L243.8,163.1L243.5,163.8L243.3,164.4L242.9,165.3L242.7,165.8L242.3,166.5L241.9,167.3L241.6,167.8L241.3,168.3L240.8,169.1L240.4,169.8L240.1,170.3L239.7,170.8L239.3,171.3L238.8,171.9L238.3,172.4L237.8,172.9L237.3,173.3L236.3,173.8L235.8,174.0L234.8,174.3L234.3,174.4M234.3,167.9L233.3,168.0L232.3,168.2L231.3,168.3L230.3,168.3L229.3,168.1L228.5,167.8L227.8,167.4L227.3,167.1L226.8,166.8L226.2,166.3L225.6,165.8L225.1,165.3L224.7,164.8L224.3,164.3L223.8,163.5L223.4,162.8L223.1,162.3L222.8,161.6L222.4,160.8L222.1,160.3L221.8,159.6L221.4,158.8L221.2,158.3L220.8,157.3L220.7,156.8L220.4,155.8L220.2,155.3L219.9,154.3L219.8,153.8L219.6,152.8L219.4,151.8L219.3,151.2L219.2,150.3L219.0,149.3L218.9,148.3L218.8,147.8L218.7,146.8L218.6,145.8L218.6,144.8L218.5,143.8L218.5,142.8L218.5,141.8L218.5,140.8L218.5,139.8L218.5,138.8L218.5,137.8L218.5,136.8L218.6,135.8L218.7,134.8L218.8,133.9L218.9,133.3L219.0,132.3L219.1,131.3L219.2,130.3L219.3,129.3L219.3,128.8L219.4,127.8L219.5,126.8L219.6,125.8L219.8,124.8L219.9,124.3L220.1,123.3L220.3,122.3L220.4,121.8L220.5,120.8L220.7,119.8L220.8,119.3L221.0,118.3L221.2,117.3L221.4,116.8L221.6,115.8L221.8,115.2L222.1,114.3L222.3,113.6L222.7,112.8L223.0,112.3L223.4,111.8L224.0,111.3L224.6,110.8L225.2,110.3L225.7,109.8L226.2,109.3L226.6,108.8L227.0,108.3L227.5,107.8L228.2,107.3L228.8,107.0L229.8,106.9L230.8,107.1L231.3,107.4L232.2,107.8L232.8,108.1L233.4,108.3L234.3,108.6L234.8,108.8L235.7,109.3L236.3,109.8L236.8,110.2L237.3,110.8L237.7,111.3L238.1,111.8L238.6,112.3L238.9,112.8L239.3,113.3L239.8,114.1L240.2,114.8L240.4,115.3L240.8,116.2L241.0,116.8L241.3,117.7L241.5,118.3L241.8,119.3L241.9,119.8L242.2,120.8L242.3,121.3L242.6,122.3L242.8,122.9L243.1,123.8L243.3,124.8L243.4,125.3L243.6,126.3L243.7,127.3L243.8,127.8L244.0,128.8L244.1,129.8L244.2,130.8L244.3,131.6L244.4,132.3L244.4,133.3L244.5,134.3L244.6,135.3L244.7,136.3L244.7,137.3L244.7,138.3L244.7,139.3L244.7,140.3L244.8,141.3L244.8,142.3L244.8,143.3L244.8,144.3L244.7,145.3L244.7,146.3L244.6,147.3L244.4,148.3L244.3,149.1L244.2,149.8L244.0,150.8L243.8,151.8L243.7,152.3L243.4,153.3L243.3,153.8L243.0,154.8L242.8,155.8L242.7,156.3L242.5,157.3L242.3,158.1L242.1,158.8L241.8,159.7L241.6,160.3L241.3,161.0L240.9,161.8L240.7,162.3L240.3,163.1L239.9,163.8L239.6,164.3L239.3,164.8L238.8,165.4L238.3,165.9L237.8,166.4L237.2,166.8L236.3,167.3L235.8,167.5L234.8,167.8L234.3,167.9M232.8,161.3L231.8,161.5L230.8,161.7L229.8,161.6L228.8,161.4L228.3,161.2L227.5,160.8L226.8,160.3L226.3,159.9L225.8,159.3L225.4,158.8L225.1,158.3L224.7,157.8L224.3,157.1L223.8,156.3L223.5,155.8L223.3,155.3L222.9,154.3L222.7,153.8L222.4,152.8L222.3,152.2L222.2,151.3L222.0,150.3L221.9,149.3L221.8,148.8L221.6,147.8L221.4,146.8L221.3,145.8L221.3,145.3L221.2,144.3L221.2,143.3L221.2,142.3L221.1,141.3L221.0,140.3L221.0,139.3L221.0,138.3L221.1,137.3L221.2,136.3L221.3,135.3L221.3,134.8L221.5,133.8L221.6,132.8L221.7,131.8L221.8,131.3L221.9,130.3L222.1,129.3L222.3,128.4L222.4,127.8L222.6,126.8L222.8,125.9L222.9,125.3L223.1,124.3L223.3,123.4L223.5,122.8L223.8,121.9L224.0,121.3L224.3,120.7L224.8,119.8L225.2,119.3L225.6,118.8L226.2,118.3L226.8,117.9L227.3,117.5L227.8,117.2L228.7,116.8L229.3,116.6L230.3,116.4L231.3,116.4L232.3,116.6L232.9,116.8L233.8,117.1L234.3,117.4L235.0,117.8L235.7,118.3L236.2,118.8L236.8,119.3L237.2,119.8L237.6,120.3L238.0,120.8L238.3,121.3L238.8,122.2L239.1,122.8L239.3,123.4L239.6,124.3L239.8,124.8L240.2,125.8L240.4,126.3L240.8,127.3L240.9,127.8L241.2,128.8L241.3,129.3L241.5,130.3L241.7,131.3L241.8,132.3L241.9,132.8L242.0,133.8L242.1,134.8L242.2,135.8L242.2,136.8L242.3,137.8L242.3,138.8L242.3,139.3L242.3,140.3L242.3,141.3L242.4,142.3L242.4,143.3L242.3,144.3L242.3,145.0L242.2,145.8L242.0,146.8L241.8,147.8L241.7,148.3L241.5,149.3L241.4,150.3L241.3,150.8L241.0,151.8L240.8,152.6L240.5,153.3L240.3,154.0L240.0,154.8L239.8,155.3L239.4,156.3L239.2,156.8L238.8,157.7L238.5,158.3L238.2,158.8L237.8,159.4L237.3,160.0L236.8,160.4L236.0,160.8L235.3,161.0L234.3,161.1L233.3,161.2L232.8,161.3M230.8,154.4L229.8,154.3L229.3,154.2L228.7,153.8L228.1,153.3L227.7,152.8L227.3,152.2L226.8,151.3L226.5,150.8L226.3,150.3L225.8,149.3L225.6,148.8L225.3,148.0L225.1,147.3L224.8,146.3L224.8,145.8L224.6,144.8L224.5,143.8L224.4,142.8L224.3,141.8L224.3,141.3L224.2,140.3L224.2,139.3L224.2,138.3L224.3,137.3L224.3,136.8L224.5,135.8L224.6,134.8L224.7,133.8L224.8,133.3L225.0,132.3L225.2,131.3L225.3,130.8L225.7,129.8L225.9,129.3L226.3,128.4L226.6,127.8L226.9,127.3L227.3,126.7L227.8,126.0L228.3,125.5L228.8,125.1L229.3,124.7L230.3,124.5L231.3,124.5L232.3,124.7L232.8,124.9L233.8,125.1L234.3,125.3L235.1,125.8L235.6,126.3L235.9,126.8L236.3,127.4L236.8,128.3L237.1,128.8L237.4,129.3L237.8,130.2L238.1,130.8L238.3,131.5L238.5,132.3L238.8,133.3L238.9,133.8L239.0,134.8L239.0,135.8L239.1,136.8L239.1,137.8L239.1,138.8L239.1,139.8L239.1,140.8L239.0,141.8L239.0,142.8L239.0,143.8L238.9,144.8L238.8,145.8L238.8,146.3L238.6,147.3L238.4,148.3L238.3,148.8L237.9,149.8L237.6,150.3L237.3,150.9L236.8,151.6L236.3,152.2L235.8,152.6L235.3,153.0L234.7,153.3L233.8,153.7L233.3,153.8L232.3,154.1L231.3,154.3L230.8,154.4" stroke="#56b24d" stroke-width="1.0" fill="none" stroke-linejoin="round"/><path d="M219.3,150.8L218.3,150.9L217.3,150.9L216.3,150.9L215.3,150.9L214.8,150.8L213.8,150.6L212.8,150.4L212.3,150.3L211.3,149.9L210.8,149.7L209.8,149.3L209.3,149.1L208.6,148.8L207.8,148.4L207.3,148.1L206.7,147.8L205.9,147.3L205.3,146.8L204.8,146.4L204.3,145.9L203.8,145.4L203.3,144.9L202.8,144.4L202.3,143.8L201.8,143.3L201.3,142.8L200.9,142.3L200.4,141.8L200.0,141.3L199.5,140.8L199.0,140.3L198.5,139.8L198.0,139.3L197.4,138.8L196.9,138.3L196.3,137.8L195.8,137.5L195.3,137.1L194.8,136.8L193.8,136.3L193.3,136.1L192.3,135.8L191.8,135.7L190.8,135.6L189.8,135.5L188.8,135.3L188.3,135.3L187.3,135.1L186.3,135.0L185.3,134.9L184.8,134.8L183.8,134.6L182.8,134.4L182.3,134.3L181.3,134.0L180.3,133.8L179.8,133.7L178.8,133.4L178.3,133.3L177.3,132.9L176.8,132.7L175.9,132.3L175.3,132.0L174.8,131.8L173.9,131.3L173.3,130.9L172.8,130.7L172.1,130.3L171.3,129.8L170.8,129.5L170.3,129.2L169.8,128.8L169.2,128.3L168.7,127.8L168.2,127.3L167.7,126.8L167.2,126.3L166.7,125.8L166.3,125.3L165.8,124.8L165.3,124.3L164.8,123.8L164.3,123.3L163.8,122.7L163.3,122.0L162.8,121.3L162.5,120.8L162.2,120.3L161.8,119.6L161.4,118.8L161.1,118.3L160.8,117.8L160.3,117.0L159.9,116.3L159.7,115.8L159.3,114.8L159.1,114.3L158.8,113.3L158.7,112.8L158.3,111.8L158.2,111.3L157.8,110.4L157.5,109.8L157.3,109.2L157.0,108.3L156.8,107.3L156.7,106.8L156.7,105.8L156.6,104.8L156.6,103.8L156.6,102.8L156.5,101.8L156.4,100.8L156.3,100.0L156.3,99.3L156.2,98.3L156.3,97.3L156.3,96.8L156.5,95.8L156.6,94.8L156.8,94.1L157.0,93.3L157.3,92.3L157.4,91.8L157.8,90.8L157.9,90.3L158.2,89.3L158.3,88.8L158.6,87.8L158.8,87.3L159.2,86.3L159.4,85.8L159.8,84.8L160.0,84.3L160.3,83.5L160.6,82.8L160.8,82.2L161.2,81.3L161.4,80.8L161.8,80.1L162.3,79.3L162.6,78.8L162.9,78.3L163.3,77.8L163.8,77.2L164.3,76.5L164.8,75.9L165.3,75.4L165.8,74.9L166.3,74.4L166.8,73.9L167.3,73.5L167.8,73.1L168.3,72.7L168.8,72.3L169.6,71.8L170.3,71.3L170.8,71.0L171.3,70.7L172.0,70.3L172.8,69.9L173.3,69.6L173.9,69.3L174.8,68.9L175.3,68.6L175.9,68.3L176.8,67.8L177.3,67.5L177.8,67.3L178.8,66.9L179.3,66.7L180.3,66.4L180.8,66.2L181.8,66.0L182.6,65.8L183.3,65.6L184.3,65.5L185.3,65.4L186.3,65.4L187.3,65.4L188.3,65.4L189.3,65.4L190.3,65.4L191.3,65.5L192.3,65.6L193.2,65.8L193.8,65.9L194.8,66.0L195.8,66.1L196.8,66.3L197.3,66.4L198.3,66.8L198.8,67.0L199.4,67.3L200.3,67.7L200.8,67.9L201.7,68.3L202.3,68.5L203.1,68.8L203.8,69.0L204.8,69.2L205.8,69.2L206.8,69.1L207.8,68.8L208.3,68.6L209.0,68.3L209.8,67.8L210.3,67.5L210.8,67.1L211.3,66.7L211.8,66.3L212.3,65.8L212.8,65.3L213.3,64.8L213.8,64.3L214.3,63.7L214.8,63.1L215.3,62.5L215.8,61.9L216.3,61.4L216.8,60.9L217.3,60.4L217.8,59.9L218.3,59.4L218.8,58.9L219.3,58.4L219.8,57.9L220.3,57.5L220.8,57.0L221.3,56.6L221.8,56.1L222.3,55.7L222.8,55.3L223.4,54.8L224.0,54.3L224.6,53.8L225.2,53.3L225.8,52.9L226.3,52.6L226.8,52.3L227.6,51.8L228.3,51.5L228.8,51.2L229.7,50.8L230.3,50.6L231.1,50.3L231.8,50.1L232.8,49.9L233.8,49.8L234.3,49.8L235.3,49.7L236.3,49.7L237.3,49.8L237.8,49.8L238.8,50.0L239.8,50.2L240.3,50.4L241.3,50.7L241.8,50.8L242.8,51.2L243.3,51.4L244.0,51.8L244.8,52.3L245.3,52.7L245.8,53.1L246.3,53.6L246.8,54.2L247.3,54.8L247.7,55.3L248.0,55.8L248.3,56.3L248.8,57.0L249.3,57.8L249.6,58.3L249.9,58.8L250.3,59.5L250.7,60.3L250.9,60.8L251.2,61.8L251.4,62.3L251.7,63.3L251.8,63.8L252.1,64.8L252.3,65.4L252.5,66.3L252.8,67.3L252.9,67.8L253.1,68.8L253.3,69.8L253.3,70.3L253.4,71.3L253.5,72.3L253.6,73.3L253.7,74.3L253.7,75.3L253.8,76.3L253.8,77.3L253.8,77.8L253.8,78.3L253.8,79.3L253.8,80.3L253.7,81.3L253.7,82.3L253.6,83.3L253.6,84.3L253.5,85.3L253.4,86.3L253.3,87.3L253.3,87.8L253.2,88.8L253.1,89.8L253.0,90.8L252.9,91.8L252.8,92.4L252.7,93.3L252.5,94.3L252.4,95.3L252.3,95.8L252.1,96.8L252.0,97.8L251.8,98.8L251.7,99.3L251.5,100.3L251.3,101.3L251.2,101.8L251.0,102.8L250.8,103.6L250.6,104.3L250.4,105.3L250.3,105.8L250.0,106.8L249.8,107.6L249.6,108.3L249.3,109.3L249.2,109.8L248.9,110.8L248.8,111.3L248.5,112.3L248.3,112.8L248.0,113.8L247.8,114.5L247.5,115.3L247.3,116.0L247.0,116.8L246.8,117.3L246.4,118.3L246.3,118.8L245.9,119.8L245.7,120.3L245.3,121.3L245.1,121.8L244.8,122.5L244.5,123.3L244.3,123.8L243.8,124.8L243.6,125.3L243.3,125.9L242.9,126.8L242.6,127.3L242.3,127.9L241.8,128.8L241.6,129.3L241.3,129.8L240.8,130.7L240.5,131.3L240.2,131.8L239.8,132.5L239.3,133.3L239.0,133.8L238.7,134.3L238.3,135.0L237.8,135.8L237.5,136.3L237.2,136.8L236.8,137.4L236.3,138.1L235.9,138.8L235.5,139.3L235.2,139.8L234.8,140.3L234.3,140.9L233.8,141.5L233.3,142.1L232.8,142.6L232.3,143.1L231.8,143.6L231.3,144.1L230.8,144.5L230.3,145.0L229.8,145.5L229.3,146.0L228.8,146.4L228.3,146.9L227.7,147.3L227.1,147.8L226.3,148.3L225.8,148.6L225.3,148.8L224.3,149.3L223.8,149.5L223.1,149.8L222.3,150.1L221.7,150.3L220.8,150.6L219.8,150.8L219.3,150.8M221.8,143.4L220.8,143.5L219.8,143.5L218.8,143.5L217.8,143.5L216.8,143.4L216.1,143.3L215.3,143.2L214.3,142.9L213.8,142.8L212.8,142.4L212.3,142.2L211.3,141.8L210.8,141.6L210.3,141.3L209.3,140.8L208.8,140.5L208.3,140.1L207.8,139.7L207.3,139.2L206.8,138.7L206.3,138.0L205.9,137.3L205.5,136.8L205.2,136.3L204.8,135.7L204.3,135.0L203.8,134.3L203.5,133.8L203.1,133.3L202.8,132.8L202.3,132.0L201.9,131.3L201.6,130.8L201.3,130.1L200.9,129.3L200.6,128.8L200.3,128.2L199.8,127.3L199.4,126.8L199.1,126.3L198.7,125.8L198.3,125.3L197.8,124.7L197.3,124.1L196.8,123.5L196.3,123.0L195.8,122.5L195.3,122.2L194.5,121.8L193.8,121.6L192.8,121.4L191.8,121.4L190.8,121.4L189.8,121.5L188.8,121.3L188.3,121.3L187.3,121.1L186.3,120.9L185.4,120.8L184.8,120.7L183.8,120.6L182.8,120.4L182.3,120.3L181.3,120.0L180.8,119.8L179.8,119.3L179.3,119.0L178.8,118.7L178.2,118.3L177.6,117.8L177.0,117.3L176.6,116.8L176.2,116.3L175.8,115.8L175.3,115.2L174.8,114.6L174.3,114.0L173.8,113.5L173.3,113.0L172.8,112.5L172.3,111.9L171.8,111.3L171.5,110.8L171.2,110.3L170.8,109.4L170.5,108.8L170.3,108.1L170.0,107.3L169.8,106.7L169.5,105.8L169.3,105.0L169.2,104.3L169.1,103.3L169.2,102.3L169.3,101.3L169.3,100.8L169.4,99.8L169.4,98.8L169.4,97.8L169.3,96.8L169.3,96.3L169.3,95.3L169.3,94.8L169.4,93.8L169.7,92.8L169.8,92.3L170.2,91.3L170.4,90.8L170.8,90.0L171.2,89.3L171.4,88.8L171.8,88.2L172.3,87.4L172.7,86.8L173.1,86.3L173.4,85.8L173.8,85.3L174.3,84.7L174.8,84.2L175.3,83.7L175.8,83.3L176.6,82.8L177.3,82.4L177.8,82.2L178.8,81.9L179.3,81.7L180.1,81.3L180.8,80.9L181.3,80.6L181.8,80.2L182.4,79.8L183.3,79.3L183.8,79.1L184.8,78.9L185.3,78.8L186.3,78.7L187.3,78.8L187.8,78.9L188.8,79.0L189.8,79.1L190.8,79.3L191.3,79.3L192.3,79.5L193.3,79.7L193.8,79.8L194.8,80.0L195.8,80.2L196.3,80.3L197.3,80.6L197.8,80.8L198.7,81.3L199.3,81.6L199.8,82.0L200.3,82.3L201.3,82.8L201.8,82.9L202.8,83.0L203.4,82.8L204.3,82.4L204.8,82.1L205.3,81.8L206.0,81.3L206.6,80.8L207.1,80.3L207.6,79.8L208.1,79.3L208.5,78.8L208.9,78.3L209.3,77.8L209.8,77.2L210.3,76.5L210.8,75.8L211.2,75.3L211.6,74.8L212.0,74.3L212.4,73.8L212.9,73.3L213.3,72.8L213.8,72.1L214.3,71.5L214.8,70.9L215.2,70.3L215.6,69.8L216.0,69.3L216.4,68.8L216.8,68.3L217.3,67.7L217.8,67.1L218.3,66.5L218.8,65.9L219.2,65.3L219.7,64.8L220.1,64.3L220.6,63.8L221.1,63.3L221.7,62.8L222.3,62.3L222.8,61.9L223.3,61.5L223.8,61.1L224.3,60.8L225.0,60.3L225.8,59.8L226.3,59.5L226.8,59.2L227.4,58.8L228.3,58.3L228.8,58.1L229.6,57.8L230.3,57.5L231.0,57.3L231.8,57.1L232.8,56.8L233.3,56.8L234.3,56.7L235.3,56.7L236.0,56.8L236.8,57.0L237.8,57.3L238.3,57.4L239.3,57.8L239.8,58.0L240.5,58.3L241.3,58.7L241.8,59.0L242.3,59.3L243.0,59.8L243.6,60.3L244.1,60.8L244.6,61.3L245.0,61.8L245.4,62.3L245.8,62.8L246.3,63.5L246.8,64.3L247.1,64.8L247.3,65.3L247.7,66.3L247.9,66.8L248.2,67.8L248.4,68.3L248.7,69.3L248.9,69.8L249.1,70.8L249.3,71.4L249.5,72.3L249.7,73.3L249.8,74.1L249.9,74.8L250.0,75.8L250.1,76.8L250.2,77.8L250.2,78.8L250.3,79.8L250.3,80.8L250.3,81.8L250.3,82.8L250.3,83.8L250.2,84.8L250.2,85.8L250.2,86.8L250.1,87.8L250.1,88.8L250.0,89.8L249.8,90.8L249.8,91.3L249.6,92.3L249.5,93.3L249.4,94.3L249.3,94.8L249.2,95.8L249.0,96.8L248.9,97.8L248.8,98.3L248.6,99.3L248.4,100.3L248.3,100.8L248.1,101.8L247.8,102.8L247.7,103.3L247.5,104.3L247.3,105.2L247.2,105.8L246.9,106.8L246.8,107.3L246.5,108.3L246.3,109.1L246.1,109.8L245.8,110.7L245.6,111.3L245.3,112.3L245.1,112.8L244.8,113.8L244.6,114.3L244.3,115.2L244.1,115.8L243.8,116.6L243.5,117.3L243.3,117.8L242.9,118.8L242.7,119.3L242.3,120.1L242.0,120.8L241.8,121.3L241.3,122.3L241.1,122.8L240.8,123.4L240.3,124.3L240.1,124.8L239.8,125.3L239.3,126.2L239.0,126.8L238.7,127.3L238.3,128.0L237.8,128.8L237.5,129.3L237.2,129.8L236.8,130.5L236.3,131.2L235.9,131.8L235.6,132.3L235.2,132.8L234.8,133.3L234.3,134.0L233.8,134.6L233.3,135.2L232.8,135.8L232.3,136.3L231.9,136.8L231.4,137.3L230.9,137.8L230.4,138.3L229.9,138.8L229.3,139.3L228.8,139.8L228.3,140.2L227.8,140.7L227.3,141.1L226.8,141.4L226.2,141.8L225.3,142.3L224.8,142.6L224.1,142.8L223.3,143.1L222.3,143.3L221.8,143.4M222.3,137.9L221.3,138.1L220.3,138.1L219.3,138.1L218.3,137.9L217.7,137.8L216.8,137.6L216.0,137.3L215.3,137.1L214.7,136.8L213.8,136.4L213.3,136.2L212.6,135.8L211.8,135.3L211.3,134.9L210.8,134.5L210.3,134.1L209.8,133.6L209.3,133.0L208.8,132.4L208.3,131.8L207.9,131.3L207.6,130.8L207.3,130.3L206.8,129.5L206.5,128.8L206.2,128.3L205.8,127.3L205.6,126.8L205.3,126.0L205.0,125.3L204.8,124.8L204.4,123.8L204.3,123.3L204.0,122.3L203.8,121.3L203.7,120.8L203.6,119.8L203.4,118.8L203.3,118.1L203.1,117.3L202.9,116.3L202.8,115.6L202.6,114.8L202.5,113.8L202.4,112.8L202.3,111.8L202.3,111.3L202.2,110.3L202.2,109.3L202.3,108.3L202.3,107.3L202.3,106.8L202.3,105.8L202.3,104.8L202.3,103.8L202.3,102.8L202.5,101.8L202.7,100.8L202.9,100.3L203.3,99.4L203.6,98.8L203.8,98.3L204.3,97.3L204.5,96.8L204.8,95.9L205.0,95.3L205.3,94.7L205.7,93.8L205.9,93.3L206.3,92.4L206.6,91.8L206.8,91.3L207.2,90.3L207.5,89.8L207.8,89.1L208.2,88.3L208.5,87.8L208.8,87.2L209.3,86.3L209.5,85.8L209.8,85.3L210.3,84.4L210.6,83.8L210.9,83.3L211.3,82.6L211.8,81.8L212.1,81.3L212.4,80.8L212.8,80.1L213.3,79.3L213.6,78.8L213.9,78.3L214.3,77.7L214.8,76.9L215.2,76.3L215.6,75.8L215.9,75.3L216.3,74.8L216.8,74.1L217.3,73.4L217.8,72.8L218.2,72.3L218.5,71.8L218.9,71.3L219.4,70.8L219.8,70.3L220.3,69.7L220.8,69.1L221.3,68.6L221.8,68.0L222.3,67.5L222.8,67.1L223.3,66.6L223.8,66.2L224.4,65.8L225.1,65.3L225.8,64.8L226.3,64.5L226.8,64.2L227.6,63.8L228.3,63.5L228.8,63.3L229.8,63.0L230.7,62.8L231.3,62.7L232.3,62.7L233.3,62.7L234.1,62.8L234.8,62.9L235.8,63.0L236.8,63.3L237.3,63.4L238.3,63.8L238.8,64.0L239.5,64.3L240.3,64.8L240.8,65.1L241.3,65.5L241.8,66.0L242.3,66.5L242.8,67.1L243.3,67.8L243.6,68.3L243.9,68.8L244.3,69.5L244.7,70.3L245.0,70.8L245.3,71.4L245.7,72.3L245.9,72.8L246.2,73.8L246.4,74.3L246.6,75.3L246.8,76.3L246.9,76.8L247.0,77.8L247.1,78.8L247.1,79.8L247.2,80.8L247.3,81.4L247.4,82.3L247.4,83.3L247.5,84.3L247.5,85.3L247.5,86.3L247.5,87.3L247.4,88.3L247.4,89.3L247.3,89.8L247.2,90.8L247.1,91.8L247.0,92.8L246.9,93.8L246.8,94.3L246.7,95.3L246.5,96.3L246.4,97.3L246.3,97.8L246.1,98.8L245.9,99.8L245.8,100.3L245.6,101.3L245.3,102.3L245.2,102.8L245.0,103.8L244.8,104.6L244.7,105.3L244.4,106.3L244.3,106.9L244.1,107.8L243.8,108.7L243.6,109.3L243.3,110.2L243.1,110.8L242.8,111.6L242.5,112.3L242.3,112.9L242.0,113.8L241.8,114.3L241.4,115.3L241.2,115.8L240.8,116.8L240.6,117.3L240.3,118.1L240.0,118.8L239.8,119.3L239.3,120.2L239.0,120.8L238.8,121.3L238.3,122.2L237.9,122.8L237.6,123.3L237.3,123.9L236.8,124.7L236.5,125.3L236.2,125.8L235.8,126.4L235.3,127.3L235.0,127.8L234.6,128.3L234.3,128.8L233.8,129.5L233.3,130.1L232.8,130.8L232.3,131.3L231.8,131.8L231.3,132.3L230.8,132.8L230.3,133.2L229.8,133.7L229.3,134.1L228.8,134.5L228.3,134.9L227.8,135.3L227.0,135.8L226.3,136.2L225.8,136.4L225.1,136.8L224.3,137.2L223.8,137.4L222.8,137.8L222.3,137.9M224.3,132.3L223.3,132.5L222.3,132.7L221.3,132.8L220.3,132.8L219.3,132.7L218.3,132.5L217.3,132.3L216.8,132.2L215.9,131.8L215.3,131.5L214.8,131.2L214.2,130.8L213.6,130.3L213.1,129.8L212.5,129.3L212.1,128.8L211.6,128.3L211.2,127.8L210.8,127.2L210.3,126.5L209.9,125.8L209.6,125.3L209.3,124.6L208.9,123.8L208.8,123.3L208.4,122.3L208.3,121.8L208.0,120.8L207.8,119.8L207.7,119.3L207.5,118.3L207.3,117.3L207.2,116.8L207.0,115.8L206.9,114.8L206.8,114.3L206.7,113.3L206.6,112.3L206.6,111.3L206.7,110.3L206.7,109.3L206.8,108.8L206.9,107.8L207.1,106.8L207.2,105.8L207.3,104.9L207.4,104.3L207.4,103.3L207.6,102.3L207.7,101.3L207.8,100.8L208.1,99.8L208.3,99.0L208.5,98.3L208.8,97.5L209.0,96.8L209.3,96.1L209.6,95.3L209.8,94.5L210.0,93.8L210.3,92.8L210.4,92.3L210.8,91.3L211.0,90.8L211.3,90.1L211.7,89.3L211.9,88.8L212.3,88.0L212.6,87.3L212.8,86.8L213.3,85.8L213.5,85.3L213.8,84.7L214.2,83.8L214.5,83.3L214.8,82.8L215.3,82.1L215.8,81.3L216.2,80.8L216.5,80.3L216.8,79.8L217.3,79.0L217.7,78.3L218.0,77.8L218.3,77.3L218.8,76.6L219.3,75.9L219.8,75.3L220.2,74.8L220.6,74.3L221.0,73.8L221.5,73.3L221.9,72.8L222.5,72.3L223.0,71.8L223.7,71.3L224.3,70.9L224.8,70.5L225.3,70.2L225.8,69.8L226.6,69.3L227.3,68.9L227.8,68.7L228.8,68.3L229.3,68.2L230.3,68.0L231.3,67.8L231.8,67.7L232.8,67.7L233.8,67.7L234.3,67.8L235.3,68.1L235.8,68.3L236.8,68.8L237.3,69.0L237.8,69.3L238.7,69.8L239.3,70.3L239.8,70.7L240.3,71.2L240.8,71.8L241.2,72.3L241.5,72.8L241.8,73.3L242.3,74.1L242.6,74.8L242.9,75.3L243.3,76.3L243.4,76.8L243.7,77.8L243.9,78.3L244.1,79.3L244.3,80.3L244.4,80.8L244.5,81.8L244.7,82.8L244.8,83.8L244.8,84.3L244.9,85.3L244.9,86.3L244.9,87.3L244.9,88.3L244.8,89.3L244.8,90.0L244.7,90.8L244.7,91.8L244.6,92.8L244.6,93.8L244.5,94.8L244.3,95.8L244.3,96.3L244.1,97.3L243.9,98.3L243.8,98.8L243.6,99.8L243.4,100.8L243.3,101.3L243.0,102.3L242.8,103.3L242.7,103.8L242.5,104.8L242.3,105.5L242.1,106.3L241.9,107.3L241.7,107.8L241.4,108.8L241.2,109.3L240.8,110.3L240.6,110.8L240.3,111.6L240.0,112.3L239.8,112.9L239.5,113.8L239.3,114.3L238.9,115.3L238.7,115.8L238.3,116.6L238.0,117.3L237.7,117.8L237.3,118.6L236.9,119.3L236.6,119.8L236.3,120.3L235.8,121.1L235.4,121.8L235.1,122.3L234.8,122.8L234.3,123.6L233.9,124.3L233.5,124.8L233.2,125.3L232.8,125.8L232.3,126.5L231.8,127.1L231.3,127.6L230.8,128.2L230.3,128.6L229.8,129.0L229.3,129.4L228.8,129.8L228.1,130.3L227.4,130.8L226.8,131.2L226.3,131.5L225.7,131.8L224.8,132.2L224.3,132.3M222.3,127.8L221.3,127.8L220.8,127.8L219.8,127.6L218.8,127.3L218.3,127.1L217.7,126.8L216.8,126.3L216.3,126.0L215.8,125.6L215.3,125.2L214.8,124.7L214.3,124.2L213.8,123.7L213.3,123.1L212.8,122.3L212.5,121.8L212.3,121.3L211.8,120.3L211.6,119.8L211.3,119.0L211.0,118.3L210.8,117.6L210.6,116.8L210.3,115.8L210.2,115.3L210.1,114.3L210.0,113.3L210.0,112.3L209.9,111.3L209.9,110.3L209.9,109.3L210.0,108.3L210.0,107.3L210.1,106.3L210.3,105.3L210.3,104.8L210.4,103.8L210.5,102.8L210.7,101.8L210.8,101.2L211.0,100.3L211.2,99.3L211.4,98.8L211.7,97.8L211.8,97.3L212.2,96.3L212.3,95.8L212.6,94.8L212.8,94.3L213.1,93.3L213.3,92.6L213.6,91.8L213.8,91.3L214.2,90.3L214.4,89.8L214.8,88.9L215.1,88.3L215.3,87.8L215.8,86.9L216.1,86.3L216.4,85.8L216.8,85.1L217.3,84.3L217.6,83.8L217.9,83.3L218.3,82.7L218.8,81.9L219.2,81.3L219.6,80.8L219.9,80.3L220.3,79.7L220.8,79.0L221.3,78.3L221.7,77.8L222.1,77.3L222.6,76.8L223.1,76.3L223.6,75.8L224.2,75.3L224.8,74.9L225.3,74.6L225.8,74.3L226.8,73.8L227.3,73.6L227.9,73.3L228.8,73.0L229.3,72.8L230.3,72.6L231.3,72.6L232.3,72.7L233.0,72.8L233.8,73.0L234.8,73.3L235.3,73.5L236.0,73.8L236.8,74.3L237.3,74.6L237.8,75.1L238.3,75.6L238.8,76.2L239.2,76.8L239.6,77.3L239.9,77.8L240.3,78.5L240.7,79.3L241.0,79.8L241.3,80.7L241.5,81.3L241.7,82.3L241.8,82.8L242.0,83.8L242.2,84.8L242.3,85.8L242.3,86.3L242.4,87.3L242.4,88.3L242.4,89.3L242.3,90.3L242.3,90.8L242.2,91.8L242.2,92.8L242.2,93.8L242.2,94.8L242.1,95.8L241.9,96.8L241.8,97.3L241.6,98.3L241.4,99.3L241.3,99.9L241.1,100.8L240.9,101.8L240.8,102.5L240.6,103.3L240.4,104.3L240.3,104.8L240.1,105.8L239.8,106.8L239.6,107.3L239.3,108.3L239.1,108.8L238.8,109.6L238.5,110.3L238.3,110.8L237.9,111.8L237.6,112.3L237.3,113.1L237.0,113.8L236.8,114.3L236.3,115.2L236.0,115.8L235.7,116.3L235.3,117.0L234.8,117.8L234.5,118.3L234.1,118.8L233.8,119.3L233.3,120.0L232.8,120.7L232.4,121.3L232.0,121.8L231.7,122.3L231.3,122.8L230.8,123.4L230.3,123.9L229.8,124.3L229.2,124.8L228.5,125.3L227.8,125.7L227.3,126.0L226.7,126.3L225.8,126.7L225.3,127.0L224.4,127.3L223.8,127.5L222.8,127.7L222.3,127.8M223.8,122.3L222.8,122.4L221.8,122.4L221.0,122.3L220.3,122.2L219.3,121.8L218.8,121.6L218.3,121.3L217.6,120.8L217.0,120.3L216.5,119.8L216.0,119.3L215.6,118.8L215.3,118.3L214.8,117.6L214.3,116.8L214.1,116.3L213.8,115.6L213.5,114.8L213.3,113.8L213.3,113.3L213.2,112.3L213.1,111.3L213.1,110.3L213.0,109.3L212.9,108.3L212.9,107.3L212.9,106.3L213.0,105.3L213.1,104.3L213.2,103.3L213.3,102.6L213.4,101.8L213.6,100.8L213.8,99.8L213.9,99.3L214.1,98.3L214.3,97.8L214.6,96.8L214.8,96.3L215.1,95.3L215.3,94.8L215.6,93.8L215.8,93.2L216.1,92.3L216.3,91.8L216.7,90.8L216.9,90.3L217.3,89.5L217.7,88.8L218.0,88.3L218.3,87.8L218.8,87.1L219.3,86.4L219.7,85.8L220.1,85.3L220.4,84.8L220.8,84.2L221.3,83.4L221.8,82.8L222.2,82.3L222.6,81.8L223.1,81.3L223.7,80.8L224.2,80.3L224.8,79.8L225.3,79.4L225.8,79.0L226.3,78.6L226.9,78.3L227.8,78.0L228.4,77.8L229.3,77.7L230.3,77.6L231.3,77.6L232.3,77.8L232.8,77.9L233.8,78.2L234.3,78.4L234.9,78.8L235.6,79.3L236.2,79.8L236.6,80.3L237.0,80.8L237.4,81.3L237.8,82.0L238.2,82.8L238.4,83.3L238.8,84.3L238.9,84.8L239.2,85.8L239.3,86.3L239.5,87.3L239.6,88.3L239.6,89.3L239.6,90.3L239.6,91.3L239.6,92.3L239.7,93.3L239.7,94.3L239.7,95.3L239.6,96.3L239.4,97.3L239.3,97.9L239.1,98.8L239.0,99.8L238.8,100.8L238.7,101.3L238.6,102.3L238.4,103.3L238.3,103.8L238.0,104.8L237.8,105.6L237.6,106.3L237.3,107.3L237.2,107.8L236.8,108.8L236.6,109.3L236.3,109.9L235.9,110.8L235.6,111.3L235.3,112.0L234.9,112.8L234.6,113.3L234.3,113.8L233.8,114.7L233.4,115.3L233.0,115.8L232.7,116.3L232.3,116.8L231.8,117.4L231.3,117.9L230.8,118.5L230.3,119.1L229.8,119.6L229.3,120.2L228.8,120.6L228.3,121.0L227.8,121.3L226.8,121.7L226.3,121.8L225.3,122.1L224.3,122.2L223.8,122.3M226.8,116.9L225.8,117.2L224.8,117.3L223.8,117.2L222.8,117.1L221.8,116.9L221.3,116.7L220.5,116.3L219.8,115.9L219.3,115.5L218.8,115.1L218.3,114.7L217.8,114.1L217.3,113.3L217.1,112.8L216.8,112.0L216.6,111.3L216.4,110.3L216.2,109.8L216.0,108.8L215.9,107.8L215.8,107.2L215.8,106.3L215.8,105.3L215.8,104.8L215.9,103.8L216.0,102.8L216.1,101.8L216.3,100.8L216.4,100.3L216.6,99.3L216.8,98.5L217.0,97.8L217.3,97.0L217.5,96.3L217.8,95.5L218.0,94.8L218.3,94.0L218.5,93.3L218.8,92.5L219.1,91.8L219.4,91.3L219.8,90.5L220.3,89.8L220.7,89.3L221.1,88.8L221.4,88.3L221.8,87.8L222.3,87.1L222.8,86.5L223.3,85.9L223.8,85.4L224.3,85.0L224.8,84.7L225.4,84.3L226.3,83.9L226.8,83.7L227.8,83.3L228.3,83.2L229.3,83.0L230.3,83.0L231.3,83.1L232.3,83.3L232.8,83.5L233.4,83.8L234.0,84.3L234.5,84.8L234.8,85.3L235.3,86.1L235.6,86.8L235.9,87.3L236.2,88.3L236.4,88.8L236.6,89.8L236.8,90.8L236.9,91.3L237.0,92.3L237.1,93.3L237.2,94.3L237.2,95.3L237.1,96.3L236.9,97.3L236.8,98.1L236.7,98.8L236.5,99.8L236.3,100.8L236.2,101.3L236.0,102.3L235.8,103.2L235.6,103.8L235.4,104.8L235.2,105.3L235.0,106.3L234.8,106.8L234.5,107.8L234.3,108.3L233.8,109.3L233.6,109.8L233.3,110.3L232.8,111.1L232.3,111.8L231.9,112.3L231.4,112.8L231.0,113.3L230.5,113.8L229.9,114.3L229.5,114.8L228.9,115.3L228.4,115.8L227.8,116.3L227.3,116.6L226.8,116.9M226.8,110.8L225.8,111.1L224.8,111.1L223.8,110.9L222.9,110.8L222.3,110.7L221.4,110.3L220.8,109.9L220.3,109.5L219.8,108.8L219.6,108.3L219.3,107.5L219.1,106.8L219.0,105.8L219.0,104.8L219.2,103.8L219.3,103.1L219.5,102.3L219.7,101.3L219.8,100.8L220.0,99.8L220.2,98.8L220.3,98.3L220.6,97.3L220.8,96.8L221.2,95.8L221.5,95.3L221.8,94.8L222.3,94.1L222.8,93.4L223.2,92.8L223.6,92.3L224.1,91.8L224.5,91.3L225.1,90.8L225.8,90.3L226.3,90.0L226.8,89.8L227.8,89.5L228.8,89.5L229.8,89.8L230.3,90.0L230.8,90.3L231.4,90.8L231.9,91.3L232.3,91.8L232.8,92.6L233.0,93.3L233.3,94.3L233.4,94.8L233.5,95.8L233.5,96.8L233.4,97.8L233.3,98.8L233.2,99.3L233.0,100.3L232.9,101.3L232.8,101.8L232.6,102.8L232.4,103.8L232.3,104.3L231.9,105.3L231.6,105.8L231.3,106.3L230.8,106.9L230.3,107.5L229.8,108.0L229.3,108.6L228.8,109.2L228.3,109.8L227.8,110.2L227.3,110.6L226.8,110.8" stroke="#ada53a" stroke-width="1.0" fill="none" stroke-linejoin="round"/><path d="M219.3,132.4L218.3,132.6L217.3,132.7L216.3,132.7L215.3,132.6L214.3,132.5L213.5,132.3L212.8,132.2L211.8,131.9L211.2,131.8L210.3,131.6L209.5,131.3L208.8,131.0L208.3,130.8L207.4,130.3L206.8,129.9L206.3,129.6L205.8,129.2L205.2,128.8L204.6,128.3L204.1,127.8L203.6,127.3L203.1,126.8L202.6,126.3L202.2,125.8L201.8,125.2L201.3,124.5L200.9,123.8L200.6,123.3L200.3,122.7L199.9,121.8L199.7,121.3L199.3,120.4L199.1,119.8L198.8,119.0L198.6,118.3L198.3,117.5L198.1,116.8L197.8,115.8L197.7,115.3L197.4,114.3L197.2,113.8L196.9,112.8L196.8,112.3L196.5,111.3L196.3,110.5L196.1,109.8L195.9,108.8L195.8,108.3L195.5,107.3L195.3,106.6L195.0,105.8L194.8,105.2L194.5,104.3L194.3,103.8L193.8,102.8L193.6,102.3L193.3,101.7L192.8,100.9L192.4,100.3L191.9,99.8L191.3,99.3L190.8,99.0L190.3,98.7L189.6,98.3L188.8,98.0L188.2,97.8L187.3,97.6L186.3,97.4L185.7,97.3L184.8,97.1L183.8,97.0L182.8,96.8L182.3,96.7L181.3,96.4L180.8,96.3L179.8,96.0L179.2,95.8L178.3,95.5L177.8,95.3L176.8,94.9L176.3,94.7L175.5,94.3L174.8,94.0L174.3,93.7L173.4,93.3L172.8,93.0L172.3,92.8L171.4,92.3L170.8,92.0L170.3,91.7L169.6,91.3L168.8,90.8L168.3,90.5L167.8,90.2L167.2,89.8L166.5,89.3L165.9,88.8L165.3,88.3L164.8,87.9L164.3,87.4L163.8,86.9L163.3,86.4L162.9,85.8L162.6,85.3L162.3,84.8L161.8,83.8L161.6,83.3L161.3,82.8L160.9,81.8L160.6,81.3L160.3,80.5L160.0,79.8L159.8,78.8L159.7,78.3L159.7,77.3L159.8,76.4L159.9,75.8L160.2,74.8L160.4,74.3L160.8,73.4L161.1,72.8L161.5,72.3L161.8,71.8L162.3,71.1L162.8,70.5L163.3,69.8L163.7,69.3L164.1,68.8L164.6,68.3L165.1,67.8L165.6,67.3L166.2,66.8L166.8,66.3L167.3,65.9L167.8,65.5L168.3,65.1L168.8,64.8L169.7,64.3L170.3,64.0L170.8,63.7L171.8,63.3L172.3,63.1L172.9,62.8L173.8,62.4L174.3,62.2L175.3,61.8L175.8,61.6L176.5,61.3L177.3,61.0L178.2,60.8L178.8,60.7L179.8,60.5L180.5,60.3L181.3,60.1L182.3,59.9L182.8,59.8L183.8,59.6L184.8,59.4L185.4,59.3L186.3,59.1L187.3,58.9L187.8,58.8L188.8,58.7L189.8,58.6L190.8,58.6L191.8,58.5L192.8,58.6L193.8,58.5L194.8,58.5L195.8,58.5L196.8,58.4L197.8,58.3L198.3,58.3L199.3,58.2L200.3,58.1L201.3,58.0L202.3,57.9L202.8,57.8L203.8,57.6L204.8,57.4L205.4,57.3L206.3,57.0L207.1,56.8L207.8,56.6L208.5,56.3L209.3,56.0L209.8,55.8L210.8,55.3L211.3,55.1L211.8,54.8L212.7,54.3L213.3,53.9L213.8,53.7L214.4,53.3L215.2,52.8L215.8,52.5L216.3,52.2L217.0,51.8L217.8,51.4L218.3,51.1L218.8,50.8L219.8,50.3L220.3,50.0L220.8,49.8L221.7,49.3L222.3,49.0L222.8,48.8L223.8,48.3L224.3,48.1L225.3,47.8L225.8,47.7L226.8,47.4L227.3,47.3L228.3,47.1L229.3,47.0L230.3,46.9L231.3,46.9L232.3,47.0L233.3,47.1L234.3,47.2L234.8,47.3L235.8,47.6L236.5,47.8L237.3,48.1L237.9,48.3L238.8,48.6L239.3,48.8L240.3,49.3L240.8,49.5L241.3,49.8L242.1,50.3L242.8,50.8L243.3,51.2L243.8,51.6L244.3,52.1L244.8,52.6L245.3,53.2L245.8,53.8L246.2,54.3L246.6,54.8L246.9,55.3L247.3,55.8L247.8,56.6L248.2,57.3L248.5,57.8L248.8,58.4L249.2,59.3L249.4,59.8L249.8,60.8L249.9,61.3L250.3,62.3L250.4,62.8L250.7,63.8L250.8,64.4L251.0,65.3L251.2,66.3L251.3,66.8L251.5,67.8L251.6,68.8L251.7,69.8L251.8,70.5L251.8,71.3L251.9,72.3L251.9,73.3L252.0,74.3L252.0,75.3L252.0,76.3L251.9,77.3L251.9,78.3L251.8,79.3L251.8,79.8L251.7,80.8L251.6,81.8L251.5,82.8L251.3,83.8L251.2,84.3L251.1,85.3L250.9,86.3L250.8,86.9L250.6,87.8L250.4,88.8L250.3,89.3L250.1,90.3L249.8,91.3L249.7,91.8L249.4,92.8L249.3,93.3L249.0,94.3L248.8,94.8L248.4,95.8L248.3,96.3L247.9,97.3L247.7,97.8L247.4,98.8L247.2,99.3L246.9,100.3L246.7,100.8L246.4,101.8L246.2,102.3L245.8,103.2L245.6,103.8L245.3,104.4L244.9,105.3L244.6,105.8L244.3,106.5L243.9,107.3L243.6,107.8L243.3,108.4L242.9,109.3L242.6,109.8L242.3,110.5L241.9,111.3L241.6,111.8L241.3,112.4L240.8,113.3L240.5,113.8L240.2,114.3L239.8,114.9L239.3,115.8L239.0,116.3L238.6,116.8L238.3,117.3L237.8,118.0L237.3,118.7L236.8,119.3L236.4,119.8L236.1,120.3L235.7,120.8L235.2,121.3L234.8,121.8L234.3,122.4L233.8,122.9L233.3,123.5L232.8,124.0L232.3,124.5L231.8,125.0L231.3,125.5L230.8,125.9L230.3,126.4L229.8,126.9L229.3,127.3L228.7,127.8L228.0,128.3L227.3,128.8L226.8,129.1L226.3,129.4L225.7,129.8L224.8,130.3L224.3,130.6L223.8,130.8L222.8,131.3L222.3,131.5L221.4,131.8L220.8,132.0L219.8,132.3L219.3,132.4M219.8,126.3L218.8,126.5L217.8,126.5L216.8,126.5L215.8,126.4L215.1,126.3L214.3,126.1L213.3,125.8L212.8,125.7L211.8,125.4L211.3,125.2L210.4,124.8L209.8,124.5L209.3,124.2L208.6,123.8L207.9,123.3L207.3,122.8L206.8,122.4L206.3,121.8L205.9,121.3L205.5,120.8L205.2,120.3L204.8,119.7L204.3,119.0L203.9,118.3L203.6,117.8L203.3,117.3L202.8,116.4L202.5,115.8L202.3,115.2L202.0,114.3L201.8,113.6L201.5,112.8L201.3,112.0L201.1,111.3L200.8,110.3L200.7,109.8L200.4,108.8L200.3,108.3L200.1,107.3L199.9,106.3L199.7,105.8L199.5,104.8L199.3,103.8L199.2,103.3L199.0,102.3L198.8,101.6L198.6,100.8L198.4,99.8L198.3,99.3L198.1,98.3L197.8,97.3L197.7,96.8L197.4,95.8L197.3,95.3L197.0,94.3L196.8,93.8L196.4,92.8L196.1,92.3L195.8,91.6L195.3,90.8L195.0,90.3L194.6,89.8L194.2,89.3L193.8,88.8L193.2,88.3L192.6,87.8L191.8,87.3L191.3,87.1L190.5,86.8L189.8,86.6L188.8,86.4L188.3,86.3L187.3,86.0L186.6,85.8L185.8,85.5L185.3,85.3L184.4,84.8L183.8,84.5L183.3,84.1L182.8,83.7L182.3,83.2L181.8,82.6L181.3,81.8L181.0,81.3L180.7,80.8L180.3,80.2L179.8,79.5L179.3,78.8L179.1,78.3L179.0,77.3L179.3,76.3L179.5,75.8L179.8,75.3L180.3,74.7L180.8,74.2L181.3,73.8L182.0,73.3L182.7,72.8L183.3,72.4L183.8,72.0L184.3,71.7L184.8,71.3L185.6,70.8L186.3,70.4L186.8,70.2L187.7,69.8L188.3,69.7L189.3,69.6L190.3,69.5L191.3,69.5L192.3,69.3L192.8,69.2L193.8,69.1L194.8,69.0L195.8,69.1L196.8,69.1L197.8,69.0L198.4,68.8L199.3,68.5L199.8,68.2L200.8,67.8L201.3,67.5L201.8,67.3L202.8,66.8L203.3,66.5L203.8,66.3L204.6,65.8L205.3,65.4L205.8,65.1L206.3,64.8L207.1,64.3L207.8,63.8L208.3,63.5L208.8,63.2L209.4,62.8L210.2,62.3L210.8,61.9L211.3,61.5L211.8,61.1L212.3,60.8L213.0,60.3L213.7,59.8L214.3,59.4L214.8,59.0L215.3,58.6L215.8,58.3L216.5,57.8L217.2,57.3L217.8,56.9L218.3,56.6L218.9,56.3L219.8,55.8L220.3,55.6L220.9,55.3L221.8,54.9L222.3,54.6L223.1,54.3L223.8,54.0L224.3,53.8L225.3,53.5L226.1,53.3L226.8,53.1L227.8,53.0L228.8,52.9L229.8,52.8L230.8,52.8L231.8,52.9L232.8,53.0L233.8,53.2L234.3,53.3L235.3,53.6L235.8,53.8L236.8,54.2L237.3,54.4L238.2,54.8L238.8,55.1L239.3,55.4L239.8,55.8L240.5,56.3L241.0,56.8L241.6,57.3L242.1,57.8L242.5,58.3L242.9,58.8L243.3,59.3L243.8,60.0L244.3,60.8L244.6,61.3L244.9,61.8L245.3,62.6L245.6,63.3L245.8,63.8L246.2,64.8L246.4,65.3L246.7,66.3L246.9,66.8L247.1,67.8L247.3,68.7L247.4,69.3L247.6,70.3L247.7,71.3L247.8,72.1L247.9,72.8L248.0,73.8L248.0,74.8L248.1,75.8L248.1,76.8L248.1,77.8L248.1,78.8L248.1,79.8L248.0,80.8L247.9,81.8L247.8,82.8L247.8,83.3L247.7,84.3L247.5,85.3L247.3,86.3L247.2,86.8L247.0,87.8L246.8,88.7L246.6,89.3L246.4,90.3L246.3,90.8L246.0,91.8L245.8,92.6L245.6,93.3L245.3,94.3L245.2,94.8L244.9,95.8L244.7,96.3L244.4,97.3L244.2,97.8L243.9,98.8L243.7,99.3L243.3,100.3L243.1,100.8L242.8,101.6L242.5,102.3L242.3,102.8L241.8,103.8L241.6,104.3L241.3,104.9L240.8,105.8L240.6,106.3L240.3,106.9L239.9,107.8L239.6,108.3L239.3,108.9L238.8,109.8L238.5,110.3L238.2,110.8L237.8,111.5L237.3,112.3L236.9,112.8L236.6,113.3L236.3,113.8L235.8,114.5L235.3,115.1L234.8,115.8L234.4,116.3L234.0,116.8L233.5,117.3L233.1,117.8L232.6,118.3L232.1,118.8L231.6,119.3L231.1,119.8L230.6,120.3L230.0,120.8L229.5,121.3L228.9,121.8L228.3,122.3L227.8,122.6L227.3,123.0L226.8,123.4L226.2,123.8L225.4,124.3L224.8,124.6L224.3,124.9L223.3,125.3L222.8,125.5L221.8,125.8L221.3,125.9L220.3,126.2L219.8,126.3M220.8,121.3L219.8,121.5L218.8,121.6L217.8,121.7L216.8,121.6L215.8,121.4L215.2,121.3L214.3,121.0L213.6,120.8L212.8,120.5L212.3,120.2L211.5,119.8L210.8,119.3L210.3,119.0L209.8,118.5L209.3,118.1L208.8,117.5L208.3,117.0L207.8,116.3L207.4,115.8L207.1,115.3L206.8,114.8L206.3,114.0L205.9,113.3L205.6,112.8L205.3,112.2L204.9,111.3L204.7,110.8L204.3,109.9L204.1,109.3L203.8,108.3L203.7,107.8L203.4,106.8L203.3,106.3L203.1,105.3L202.9,104.3L202.8,103.6L202.7,102.8L202.6,101.8L202.5,100.8L202.3,99.8L202.3,99.3L202.1,98.3L202.0,97.3L201.9,96.3L201.8,95.7L201.7,94.8L201.6,93.8L201.6,92.8L201.5,91.8L201.5,90.8L201.5,89.8L201.4,88.8L201.4,87.8L201.4,86.8L201.4,85.8L201.5,84.8L201.6,83.8L201.8,82.8L201.9,82.3L202.0,81.3L202.3,80.3L202.4,79.8L202.8,78.8L203.0,78.3L203.3,77.7L203.8,76.9L204.2,76.3L204.5,75.8L204.8,75.3L205.3,74.5L205.8,73.8L206.1,73.3L206.4,72.8L206.8,72.3L207.3,71.6L207.8,70.9L208.3,70.3L208.7,69.8L209.1,69.3L209.5,68.8L210.0,68.3L210.5,67.8L211.0,67.3L211.6,66.8L212.3,66.3L212.8,65.9L213.3,65.5L213.8,65.0L214.3,64.5L214.8,64.1L215.3,63.6L215.8,63.2L216.3,62.7L216.9,62.3L217.6,61.8L218.3,61.4L218.8,61.0L219.3,60.7L220.0,60.3L220.8,59.8L221.3,59.5L221.8,59.3L222.8,58.8L223.3,58.6L224.2,58.3L224.8,58.1L225.8,57.9L226.3,57.8L227.3,57.6L228.3,57.5L229.3,57.6L230.3,57.7L231.3,57.8L231.8,57.9L232.8,58.1L233.5,58.3L234.3,58.6L234.9,58.8L235.8,59.2L236.3,59.5L236.9,59.8L237.7,60.3L238.3,60.7L238.8,61.1L239.3,61.5L239.8,61.9L240.3,62.5L240.8,63.2L241.2,63.8L241.5,64.3L241.8,64.9L242.3,65.8L242.6,66.3L242.8,66.8L243.2,67.8L243.4,68.3L243.7,69.3L243.8,69.9L244.0,70.8L244.2,71.8L244.3,72.3L244.5,73.3L244.7,74.3L244.8,75.0L244.9,75.8L244.9,76.8L245.0,77.8L245.0,78.8L245.0,79.8L244.9,80.8L244.9,81.8L244.8,82.8L244.8,83.3L244.7,84.3L244.5,85.3L244.3,86.3L244.2,86.8L244.1,87.8L243.9,88.8L243.7,89.3L243.5,90.3L243.3,91.3L243.2,91.8L242.9,92.8L242.8,93.4L242.6,94.3L242.3,95.2L242.1,95.8L241.8,96.7L241.6,97.3L241.3,98.0L241.0,98.8L240.7,99.3L240.3,100.3L240.1,100.8L239.8,101.6L239.5,102.3L239.3,102.8L238.8,103.7L238.5,104.3L238.2,104.8L237.8,105.7L237.5,106.3L237.2,106.8L236.8,107.7L236.4,108.3L236.1,108.8L235.8,109.3L235.3,110.0L234.8,110.7L234.4,111.3L234.0,111.8L233.7,112.3L233.3,112.8L232.8,113.4L232.3,114.0L231.8,114.6L231.3,115.1L230.8,115.6L230.3,116.0L229.8,116.5L229.3,117.0L228.8,117.4L228.3,117.8L227.6,118.3L226.8,118.8L226.3,119.0L225.8,119.3L224.8,119.8L224.3,120.1L223.8,120.3L222.8,120.7L222.3,120.9L221.3,121.2L220.8,121.3M221.8,116.8L220.8,116.9L219.8,117.0L218.8,117.0L217.8,117.0L216.8,116.9L216.0,116.8L215.3,116.6L214.3,116.3L213.8,116.1L213.3,115.8L212.6,115.3L212.1,114.8L211.5,114.3L211.0,113.8L210.6,113.3L210.1,112.8L209.7,112.3L209.3,111.8L208.8,111.1L208.3,110.3L208.0,109.8L207.7,109.3L207.3,108.3L207.1,107.8L206.8,106.8L206.6,106.3L206.4,105.3L206.3,104.8L206.0,103.8L205.9,102.8L205.8,102.3L205.6,101.3L205.4,100.3L205.3,99.5L205.2,98.8L205.1,97.8L205.1,96.8L205.0,95.8L205.0,94.8L204.9,93.8L204.9,92.8L205.0,91.8L205.1,90.8L205.2,89.8L205.2,88.8L205.3,87.8L205.3,87.0L205.4,86.3L205.6,85.3L205.8,84.4L206.0,83.8L206.2,82.8L206.4,82.3L206.7,81.3L206.9,80.8L207.3,79.9L207.6,79.3L207.9,78.8L208.3,78.0L208.7,77.3L209.0,76.8L209.3,76.2L209.7,75.3L210.0,74.8L210.3,74.3L210.8,73.5L211.2,72.8L211.6,72.3L212.0,71.8L212.3,71.3L212.8,70.8L213.3,70.2L213.8,69.7L214.3,69.3L214.8,68.8L215.3,68.3L215.8,67.8L216.3,67.3L216.8,66.8L217.4,66.3L217.9,65.8L218.6,65.3L219.3,64.8L219.8,64.5L220.3,64.2L221.0,63.8L221.8,63.4L222.3,63.1L222.9,62.8L223.8,62.4L224.3,62.3L225.3,62.0L226.3,61.8L226.8,61.8L227.8,61.8L228.8,61.8L229.3,61.9L230.3,62.0L231.2,62.3L231.8,62.5L232.7,62.8L233.3,63.0L234.0,63.3L234.8,63.7L235.3,63.9L236.0,64.3L236.6,64.8L237.2,65.3L237.6,65.8L238.0,66.3L238.4,66.8L238.8,67.5L239.2,68.3L239.5,68.8L239.8,69.5L240.1,70.3L240.4,70.8L240.8,71.8L241.0,72.3L241.3,73.3L241.4,73.8L241.7,74.8L241.8,75.6L241.9,76.3L242.0,77.3L242.1,78.3L242.2,79.3L242.2,80.3L242.2,81.3L242.2,82.3L242.1,83.3L242.0,84.3L241.9,85.3L241.8,86.2L241.7,86.8L241.6,87.8L241.4,88.8L241.3,89.3L241.1,90.3L240.8,91.3L240.7,91.8L240.5,92.8L240.3,93.4L240.0,94.3L239.8,95.0L239.5,95.8L239.3,96.4L238.9,97.3L238.7,97.8L238.3,98.8L238.1,99.3L237.8,100.0L237.5,100.8L237.2,101.3L236.8,102.2L236.5,102.8L236.2,103.3L235.8,104.1L235.4,104.8L235.1,105.3L234.8,105.9L234.3,106.7L233.9,107.3L233.6,107.8L233.2,108.3L232.8,108.8L232.3,109.4L231.8,110.1L231.3,110.7L230.8,111.3L230.4,111.8L229.9,112.3L229.3,112.8L228.8,113.2L228.3,113.6L227.8,114.0L227.3,114.3L226.5,114.8L225.8,115.2L225.3,115.5L224.7,115.8L223.8,116.2L223.3,116.4L222.3,116.7L221.8,116.8M223.3,112.4L222.3,112.6L221.3,112.7L220.3,112.6L219.3,112.5L218.3,112.4L217.3,112.3L216.8,112.3L215.8,112.1L214.9,111.8L214.3,111.5L213.8,111.1L213.3,110.7L212.8,110.3L212.3,109.7L211.8,109.1L211.3,108.4L210.9,107.8L210.6,107.3L210.3,106.6L209.9,105.8L209.7,105.3L209.3,104.3L209.1,103.8L208.8,102.8L208.7,102.3L208.5,101.3L208.3,100.4L208.2,99.8L208.1,98.8L208.0,97.8L208.0,96.8L207.9,95.8L207.9,94.8L207.8,93.8L207.8,92.8L207.9,91.8L208.0,90.8L208.1,89.8L208.2,88.8L208.3,87.9L208.4,87.3L208.5,86.3L208.7,85.3L208.8,84.7L209.0,83.8L209.3,82.8L209.5,82.3L209.8,81.6L210.2,80.8L210.4,80.3L210.8,79.7L211.3,78.9L211.7,78.3L211.9,77.8L212.3,77.2L212.8,76.3L213.1,75.8L213.4,75.3L213.8,74.6L214.3,73.9L214.7,73.3L215.1,72.8L215.6,72.3L216.0,71.8L216.5,71.3L217.1,70.8L217.6,70.3L218.2,69.8L218.8,69.3L219.3,68.9L219.8,68.5L220.3,68.2L220.9,67.8L221.8,67.3L222.3,67.1L223.1,66.8L223.8,66.6L224.8,66.3L225.3,66.2L226.3,66.0L227.3,66.0L228.3,66.0L229.3,66.2L229.8,66.3L230.8,66.6L231.3,66.8L232.3,67.2L232.8,67.4L233.5,67.8L234.3,68.3L234.8,68.7L235.3,69.2L235.8,69.8L236.2,70.3L236.6,70.8L236.9,71.3L237.3,71.9L237.8,72.8L238.0,73.3L238.3,73.9L238.6,74.8L238.8,75.5L239.0,76.3L239.2,77.3L239.3,77.9L239.4,78.8L239.5,79.8L239.5,80.8L239.6,81.8L239.6,82.8L239.6,83.8L239.5,84.8L239.5,85.8L239.4,86.8L239.3,87.3L239.1,88.3L238.9,89.3L238.8,89.8L238.6,90.8L238.3,91.8L238.2,92.3L237.9,93.3L237.7,93.8L237.4,94.8L237.2,95.3L236.8,96.3L236.6,96.8L236.3,97.6L236.0,98.3L235.7,98.8L235.3,99.7L235.0,100.3L234.8,100.8L234.3,101.7L233.9,102.3L233.7,102.8L233.3,103.4L232.8,104.2L232.4,104.8L232.0,105.3L231.7,105.8L231.2,106.3L230.8,106.8L230.3,107.4L229.8,107.9L229.3,108.5L228.8,109.0L228.3,109.5L227.8,109.9L227.3,110.3L226.7,110.8L225.9,111.3L225.3,111.6L224.8,111.9L223.8,112.3L223.3,112.4M223.3,108.3L222.3,108.6L221.3,108.7L220.3,108.6L219.3,108.5L218.3,108.3L217.8,108.2L216.8,107.8L216.3,107.6L215.8,107.3L215.1,106.8L214.5,106.3L214.1,105.8L213.7,105.3L213.3,104.8L212.8,103.9L212.5,103.3L212.3,102.8L212.0,101.8L211.8,101.1L211.6,100.3L211.4,99.3L211.3,98.4L211.2,97.8L211.1,96.8L210.9,95.8L210.8,95.0L210.7,94.3L210.7,93.3L210.7,92.3L210.7,91.3L210.8,90.3L210.8,89.8L210.9,88.8L211.1,87.8L211.2,86.8L211.3,86.2L211.5,85.3L211.7,84.3L211.9,83.8L212.3,82.8L212.6,82.3L212.9,81.8L213.3,81.1L213.8,80.4L214.2,79.8L214.5,79.3L214.8,78.8L215.3,78.0L215.7,77.3L216.0,76.8L216.3,76.3L216.8,75.6L217.3,75.0L217.8,74.5L218.3,74.0L218.8,73.6L219.3,73.2L219.8,72.8L220.4,72.3L221.1,71.8L221.8,71.4L222.3,71.1L222.9,70.8L223.8,70.4L224.3,70.3L225.3,70.1L226.3,70.0L227.3,70.0L228.3,70.0L229.3,70.2L229.8,70.4L230.8,70.7L231.3,71.0L231.8,71.3L232.5,71.8L233.1,72.3L233.6,72.8L234.1,73.3L234.5,73.8L234.8,74.3L235.3,75.2L235.6,75.8L235.8,76.4L236.1,77.3L236.3,78.3L236.4,78.8L236.5,79.8L236.7,80.8L236.8,81.8L236.9,82.3L237.0,83.3L237.0,84.3L237.0,85.3L237.0,86.3L236.9,87.3L236.8,87.8L236.6,88.8L236.4,89.8L236.3,90.3L236.0,91.3L235.8,92.0L235.5,92.8L235.3,93.5L235.0,94.3L234.8,94.9L234.4,95.8L234.2,96.3L233.8,97.2L233.5,97.8L233.2,98.3L232.8,99.1L232.4,99.8L232.1,100.3L231.8,100.9L231.3,101.7L230.9,102.3L230.5,102.8L230.1,103.3L229.6,103.8L229.1,104.3L228.5,104.8L227.9,105.3L227.3,105.8L226.8,106.2L226.3,106.6L225.8,106.9L225.3,107.3L224.4,107.8L223.8,108.1L223.3,108.3M224.8,103.4L223.8,103.7L222.8,103.8L221.8,103.8L220.8,103.7L219.8,103.5L219.0,103.3L218.3,103.0L217.8,102.8L217.0,102.3L216.4,101.8L215.9,101.3L215.5,100.8L215.2,100.3L214.8,99.3L214.7,98.8L214.4,97.8L214.3,96.9L214.2,96.3L214.0,95.3L213.8,94.3L213.7,93.8L213.5,92.8L213.4,91.8L213.4,90.8L213.5,89.8L213.6,88.8L213.8,87.8L213.9,87.3L214.2,86.3L214.3,85.8L214.7,84.8L214.9,84.3L215.3,83.6L215.7,82.8L216.0,82.3L216.3,81.8L216.8,81.0L217.2,80.3L217.5,79.8L217.8,79.3L218.3,78.5L218.8,77.8L219.2,77.3L219.7,76.8L220.3,76.3L220.8,75.9L221.3,75.6L221.9,75.3L222.8,74.9L223.3,74.7L224.3,74.5L225.3,74.4L226.3,74.4L227.3,74.5L228.1,74.8L228.8,75.1L229.3,75.4L229.9,75.8L230.6,76.3L231.1,76.8L231.6,77.3L232.1,77.8L232.4,78.3L232.8,79.0L233.2,79.8L233.3,80.3L233.6,81.3L233.8,81.9L234.0,82.8L234.1,83.8L234.2,84.8L234.1,85.8L234.0,86.8L233.9,87.8L233.8,88.4L233.7,89.3L233.5,90.3L233.3,91.1L233.1,91.8L232.8,92.6L232.5,93.3L232.3,93.8L231.9,94.8L231.7,95.3L231.3,96.2L231.0,96.8L230.7,97.3L230.3,98.1L229.9,98.8L229.6,99.3L229.2,99.8L228.8,100.4L228.3,100.9L227.8,101.4L227.3,101.9L226.7,102.3L226.0,102.8L225.3,103.2L224.8,103.4M223.8,98.3L222.8,98.5L221.8,98.4L221.2,98.3L220.3,98.1L219.6,97.8L218.9,97.3L218.5,96.8L218.2,96.3L217.8,95.3L217.7,94.8L217.4,93.8L217.3,93.3L217.0,92.3L216.8,91.3L216.8,90.8L216.7,89.8L216.8,88.8L216.9,88.3L217.2,87.3L217.4,86.8L217.8,86.0L218.2,85.3L218.4,84.8L218.8,84.1L219.3,83.3L219.6,82.8L219.9,82.3L220.3,81.7L220.8,80.9L221.3,80.3L221.7,79.8L222.3,79.4L222.8,79.1L223.8,78.8L224.8,78.9L225.7,79.3L226.3,79.7L226.8,80.0L227.3,80.3L228.0,80.8L228.7,81.3L229.2,81.8L229.6,82.3L229.9,82.8L230.2,83.8L230.2,84.8L230.2,85.8L230.2,86.8L230.2,87.8L230.2,88.8L230.2,89.8L230.0,90.8L229.8,91.3L229.3,92.3L229.1,92.8L228.8,93.5L228.5,94.3L228.3,94.8L227.8,95.6L227.3,96.2L226.8,96.7L226.3,97.1L225.8,97.4L225.1,97.8L224.3,98.2L223.8,98.3" stroke="#dc7b2f" stroke-width="1.0" fill="none" stroke-linejoin="round"/><path d="M221.3,121.8L220.3,122.0L219.3,122.1L218.3,122.2L217.3,122.2L216.3,122.2L215.3,122.1L214.3,122.0L213.3,121.8L212.8,121.7L211.8,121.5L211.3,121.3L210.3,120.9L209.8,120.7L208.8,120.3L208.3,120.1L207.8,119.8L206.8,119.3L206.3,119.0L205.8,118.6L205.3,118.3L204.7,117.8L204.2,117.3L203.7,116.8L203.2,116.3L202.8,115.8L202.3,115.2L201.8,114.5L201.3,113.8L200.9,113.3L200.6,112.8L200.3,112.2L199.8,111.3L199.6,110.8L199.3,110.2L198.9,109.3L198.7,108.8L198.3,107.8L198.2,107.3L197.8,106.3L197.7,105.8L197.4,104.8L197.3,104.2L197.1,103.3L196.9,102.3L196.8,101.3L196.7,100.8L196.6,99.8L196.5,98.8L196.5,97.8L196.4,96.8L196.4,95.8L196.4,94.8L196.4,93.8L196.3,92.8L196.3,92.3L196.3,91.3L196.2,90.3L196.2,89.3L196.2,88.3L196.2,87.3L196.1,86.3L196.0,85.3L195.8,84.3L195.7,83.8L195.5,82.8L195.3,82.2L194.9,81.3L194.7,80.8L194.3,80.2L193.8,79.6L193.3,79.2L192.6,78.8L191.8,78.5L191.2,78.3L190.3,78.0L189.3,77.8L188.8,77.7L187.8,77.4L187.3,77.3L186.3,77.1L185.3,76.9L184.8,76.8L183.8,76.6L182.8,76.4L182.1,76.3L181.3,76.2L180.3,76.0L179.3,75.9L178.8,75.8L177.8,75.6L176.8,75.4L176.3,75.3L175.3,75.0L174.6,74.8L173.8,74.5L173.3,74.2L172.3,73.8L171.8,73.6L171.2,73.3L170.3,73.0L169.8,72.8L168.8,72.4L168.3,72.2L167.5,71.8L166.8,71.4L166.3,71.1L165.7,70.8L164.8,70.3L164.3,69.9L163.8,69.5L163.3,68.9L162.9,68.3L162.6,67.8L162.3,67.3L161.8,66.3L161.6,65.8L161.3,64.8L161.2,64.3L161.2,63.3L161.3,62.5L161.5,61.8L161.8,61.1L162.3,60.3L162.6,59.8L163.1,59.3L163.6,58.8L164.3,58.3L164.8,57.9L165.3,57.6L165.8,57.3L166.5,56.8L167.3,56.3L167.8,56.0L168.3,55.7L169.0,55.3L169.8,54.9L170.3,54.7L171.3,54.3L171.8,54.1L172.8,53.8L173.3,53.7L174.3,53.4L174.8,53.2L175.8,52.9L176.3,52.8L177.3,52.5L178.2,52.3L178.8,52.1L179.8,51.9L180.3,51.8L181.3,51.6L182.3,51.5L183.3,51.3L183.8,51.3L184.8,51.2L185.8,51.1L186.8,51.0L187.8,50.9L188.8,50.8L189.3,50.7L190.3,50.6L191.3,50.5L192.3,50.4L193.3,50.3L194.3,50.3L195.3,50.3L196.3,50.3L197.2,50.3L197.8,50.3L198.8,50.2L199.8,50.1L200.8,50.1L201.8,50.0L202.8,49.9L203.8,49.8L204.3,49.8L205.3,49.7L206.3,49.5L207.3,49.3L207.8,49.3L208.8,49.0L209.7,48.8L210.3,48.6L211.3,48.3L211.8,48.2L212.8,47.9L213.3,47.7L214.3,47.4L214.8,47.2L215.8,46.8L216.3,46.6L217.3,46.3L217.8,46.1L218.8,45.8L219.3,45.7L220.3,45.4L220.9,45.3L221.8,45.1L222.8,44.8L223.3,44.7L224.3,44.6L225.3,44.5L226.3,44.4L227.3,44.4L228.3,44.4L229.3,44.4L230.3,44.5L231.3,44.7L232.0,44.8L232.8,45.0L233.8,45.2L234.3,45.3L235.3,45.6L235.9,45.8L236.8,46.1L237.3,46.3L238.3,46.7L238.8,47.0L239.4,47.3L240.2,47.8L240.8,48.1L241.3,48.5L241.8,48.9L242.4,49.3L243.0,49.8L243.6,50.3L244.1,50.8L244.7,51.3L245.2,51.8L245.7,52.3L246.1,52.8L246.5,53.3L246.9,53.8L247.3,54.4L247.8,55.2L248.2,55.8L248.4,56.3L248.8,57.0L249.1,57.8L249.3,58.3L249.7,59.3L249.9,59.8L250.1,60.8L250.3,61.6L250.4,62.3L250.6,63.3L250.8,64.3L250.8,64.8L251.0,65.8L251.1,66.8L251.1,67.8L251.1,68.8L251.0,69.8L250.9,70.8L250.8,71.7L250.7,72.3L250.7,73.3L250.6,74.3L250.4,75.3L250.3,76.1L250.2,76.8L250.0,77.8L249.9,78.8L249.8,79.5L249.7,80.3L249.5,81.3L249.3,81.9L249.1,82.8L248.8,83.7L248.7,84.3L248.4,85.3L248.3,85.8L248.1,86.8L247.8,87.8L247.7,88.3L247.4,89.3L247.3,89.8L247.0,90.8L246.8,91.3L246.4,92.3L246.3,92.8L245.9,93.8L245.7,94.3L245.3,95.3L245.1,95.8L244.8,96.5L244.5,97.3L244.3,97.8L243.8,98.8L243.6,99.3L243.3,100.0L242.9,100.8L242.7,101.3L242.3,102.0L241.9,102.8L241.6,103.3L241.3,103.9L240.8,104.8L240.5,105.3L240.2,105.8L239.8,106.5L239.3,107.3L238.9,107.8L238.6,108.3L238.2,108.8L237.8,109.3L237.3,110.0L236.8,110.6L236.3,111.2L235.8,111.7L235.3,112.3L234.9,112.8L234.5,113.3L234.1,113.8L233.6,114.3L233.2,114.8L232.7,115.3L232.2,115.8L231.6,116.3L231.1,116.8L230.4,117.3L229.8,117.8L229.3,118.1L228.8,118.5L228.3,118.8L227.6,119.3L226.8,119.8L226.3,120.1L225.8,120.3L224.8,120.8L224.3,121.0L223.4,121.3L222.8,121.5L221.8,121.7L221.3,121.8M220.8,117.4L219.8,117.5L218.8,117.6L217.8,117.6L216.8,117.5L215.8,117.4L215.3,117.3L214.3,117.1L213.3,116.8L212.8,116.7L211.8,116.4L211.3,116.2L210.4,115.8L209.8,115.5L209.3,115.2L208.6,114.8L207.8,114.3L207.3,113.9L206.8,113.5L206.3,113.1L205.8,112.6L205.3,112.0L204.8,111.4L204.4,110.8L204.0,110.3L203.7,109.8L203.3,109.1L202.9,108.3L202.6,107.8L202.3,107.2L201.9,106.3L201.7,105.8L201.3,104.9L201.1,104.3L200.8,103.4L200.6,102.8L200.4,101.8L200.3,101.3L200.1,100.3L200.0,99.3L199.8,98.3L199.8,97.8L199.7,96.8L199.6,95.8L199.5,94.8L199.5,93.8L199.4,92.8L199.4,91.8L199.3,90.8L199.3,89.8L199.4,88.8L199.4,87.8L199.5,86.8L199.5,85.8L199.6,84.8L199.6,83.8L199.6,82.8L199.6,81.8L199.6,80.8L199.5,79.8L199.3,78.8L199.2,78.3L198.9,77.3L198.7,76.8L198.3,75.8L198.0,75.3L197.7,74.8L197.3,74.2L196.8,73.7L196.3,73.2L195.8,72.8L195.0,72.3L194.3,72.0L193.8,71.8L192.8,71.5L192.3,71.3L191.3,71.0L190.8,70.8L189.8,70.5L189.1,70.3L188.3,70.1L187.3,69.9L186.8,69.7L185.8,69.4L185.3,69.3L184.3,68.9L183.8,68.7L183.0,68.3L182.3,67.9L181.8,67.6L181.3,67.3L180.7,66.8L180.3,66.3L179.8,65.6L179.3,64.8L179.1,64.3L178.8,63.3L179.1,62.3L179.4,61.8L179.9,61.3L180.7,60.8L181.3,60.4L181.8,60.2L182.5,59.8L183.3,59.4L183.8,59.2L184.8,58.8L185.3,58.6L186.3,58.4L186.8,58.3L187.8,58.1L188.8,58.1L189.8,58.0L190.8,57.8L191.3,57.7L192.3,57.5L193.3,57.3L193.8,57.2L194.8,57.1L195.8,57.0L196.7,56.8L197.3,56.6L198.3,56.3L198.8,56.2L199.8,56.1L200.8,56.0L201.8,55.9L202.8,55.8L203.3,55.7L204.3,55.6L205.3,55.3L205.8,55.2L206.8,54.9L207.3,54.7L208.3,54.3L208.8,54.1L209.4,53.8L210.3,53.4L210.8,53.2L211.7,52.8L212.3,52.5L212.9,52.3L213.8,52.0L214.3,51.8L215.3,51.4L215.8,51.2L216.8,50.8L217.3,50.7L218.3,50.3L218.8,50.1L219.8,49.8L220.3,49.7L221.3,49.4L221.8,49.3L222.8,49.1L223.8,48.9L224.8,48.8L225.7,48.8L226.3,48.8L227.3,48.8L228.3,48.8L228.8,48.8L229.8,48.9L230.8,49.1L231.6,49.3L232.3,49.5L233.3,49.8L233.8,49.9L234.8,50.2L235.3,50.4L236.3,50.8L236.8,51.1L237.3,51.3L238.1,51.8L238.8,52.3L239.3,52.6L239.8,53.0L240.3,53.4L240.8,53.8L241.3,54.3L241.9,54.8L242.4,55.3L242.8,55.8L243.3,56.4L243.8,57.1L244.3,57.8L244.6,58.3L244.8,58.8L245.3,59.8L245.5,60.3L245.8,61.1L246.0,61.8L246.3,62.7L246.5,63.3L246.7,64.3L246.9,64.8L247.1,65.8L247.2,66.8L247.3,67.6L247.3,68.3L247.4,69.3L247.3,70.3L247.3,71.3L247.3,72.3L247.3,72.8L247.2,73.8L247.2,74.8L247.1,75.8L247.0,76.8L246.8,77.8L246.8,78.3L246.6,79.3L246.5,80.3L246.3,81.1L246.2,81.8L245.9,82.8L245.8,83.4L245.6,84.3L245.4,85.3L245.3,85.8L245.1,86.8L244.9,87.8L244.7,88.3L244.5,89.3L244.3,89.8L244.0,90.8L243.8,91.3L243.5,92.3L243.3,92.8L242.9,93.8L242.7,94.3L242.3,95.2L242.0,95.8L241.8,96.3L241.3,97.3L241.1,97.8L240.8,98.4L240.4,99.3L240.1,99.8L239.8,100.5L239.4,101.3L239.1,101.8L238.8,102.3L238.3,103.2L237.9,103.8L237.6,104.3L237.3,104.8L236.8,105.5L236.3,106.1L235.8,106.7L235.3,107.3L234.9,107.8L234.5,108.3L234.0,108.8L233.6,109.3L233.2,109.8L232.7,110.3L232.3,110.8L231.8,111.3L231.3,111.8L230.8,112.3L230.3,112.8L229.7,113.3L229.0,113.8L228.3,114.3L227.8,114.6L227.3,114.9L226.6,115.3L225.8,115.7L225.3,115.9L224.4,116.3L223.8,116.5L223.0,116.8L222.3,117.0L221.3,117.3L220.8,117.4M220.3,113.3L219.3,113.4L218.3,113.4L217.3,113.4L216.8,113.3L215.8,113.1L214.8,112.8L214.3,112.7L213.3,112.3L212.8,112.1L212.2,111.8L211.3,111.3L210.8,111.0L210.3,110.7L209.7,110.3L209.0,109.8L208.3,109.3L207.8,108.8L207.3,108.3L206.8,107.8L206.4,107.3L206.1,106.8L205.7,106.3L205.3,105.6L204.9,104.8L204.6,104.3L204.3,103.6L204.0,102.8L203.8,102.2L203.5,101.3L203.3,100.5L203.1,99.8L202.9,98.8L202.8,98.0L202.7,97.3L202.5,96.3L202.3,95.3L202.3,94.8L202.2,93.8L202.2,92.8L202.1,91.8L202.1,90.8L202.1,89.8L202.1,88.8L202.2,87.8L202.3,86.8L202.3,86.3L202.4,85.3L202.5,84.3L202.6,83.3L202.7,82.3L202.8,81.3L202.8,80.8L202.9,79.8L202.9,78.8L203.0,77.8L203.0,76.8L202.9,75.8L202.9,74.8L202.9,73.8L202.9,72.8L202.9,71.8L202.9,70.8L202.9,69.8L203.0,68.8L203.1,67.8L203.3,66.9L203.4,66.3L203.7,65.3L203.9,64.8L204.3,63.8L204.5,63.3L204.9,62.8L205.3,62.3L205.8,61.8L206.3,61.3L206.9,60.8L207.6,60.3L208.2,59.8L208.8,59.3L209.3,59.0L209.8,58.6L210.3,58.3L211.1,57.8L211.8,57.4L212.3,57.1L212.9,56.8L213.8,56.4L214.3,56.1L214.9,55.8L215.8,55.3L216.3,55.1L216.9,54.8L217.8,54.4L218.3,54.2L219.3,53.8L219.8,53.7L220.8,53.4L221.3,53.2L222.3,53.0L223.3,52.8L223.8,52.8L224.8,52.7L225.8,52.6L226.8,52.6L227.8,52.6L228.8,52.7L229.6,52.8L230.3,52.9L231.3,53.2L231.8,53.3L232.8,53.6L233.3,53.8L234.3,54.3L234.8,54.5L235.3,54.8L236.1,55.3L236.8,55.8L237.3,56.1L237.8,56.5L238.3,56.9L238.8,57.4L239.3,57.8L239.8,58.4L240.3,58.9L240.8,59.6L241.3,60.3L241.6,60.8L241.9,61.3L242.3,62.1L242.6,62.8L242.8,63.3L243.1,64.3L243.3,64.8L243.6,65.8L243.8,66.7L243.9,67.3L244.1,68.3L244.2,69.3L244.3,70.3L244.3,70.8L244.3,71.8L244.3,72.8L244.3,73.7L244.3,74.3L244.2,75.3L244.2,76.3L244.1,77.3L244.0,78.3L243.9,79.3L243.8,80.0L243.7,80.8L243.5,81.8L243.4,82.8L243.3,83.3L243.1,84.3L242.9,85.3L242.8,85.8L242.6,86.8L242.3,87.8L242.2,88.3L241.9,89.3L241.8,89.8L241.4,90.8L241.3,91.3L240.9,92.3L240.7,92.8L240.3,93.7L240.0,94.3L239.7,94.8L239.3,95.7L239.0,96.3L238.7,96.8L238.3,97.7L238.0,98.3L237.8,98.8L237.3,99.8L237.0,100.3L236.7,100.8L236.3,101.5L235.8,102.3L235.5,102.8L235.1,103.3L234.7,103.8L234.3,104.3L233.8,104.8L233.3,105.3L232.8,105.9L232.3,106.4L231.8,107.0L231.3,107.5L230.8,108.1L230.3,108.5L229.8,109.0L229.3,109.4L228.8,109.8L228.2,110.3L227.5,110.8L226.8,111.2L226.3,111.5L225.7,111.8L224.8,112.2L224.3,112.4L223.3,112.7L222.8,112.9L221.8,113.1L220.8,113.3L220.3,113.3M222.3,109.4L221.3,109.6L220.3,109.7L219.3,109.7L218.3,109.7L217.3,109.5L216.4,109.3L215.8,109.1L214.8,108.8L214.3,108.6L213.6,108.3L212.8,107.8L212.3,107.5L211.8,107.2L211.3,106.8L210.6,106.3L210.0,105.8L209.5,105.3L209.0,104.8L208.6,104.3L208.2,103.8L207.8,103.2L207.3,102.3L207.0,101.8L206.8,101.3L206.3,100.3L206.2,99.8L205.9,98.8L205.7,98.3L205.5,97.3L205.3,96.3L205.2,95.8L205.0,94.8L204.9,93.8L204.8,92.9L204.7,92.3L204.7,91.3L204.6,90.3L204.6,89.3L204.7,88.3L204.7,87.3L204.8,86.3L204.8,85.8L204.9,84.8L205.0,83.8L205.1,82.8L205.2,81.8L205.3,81.1L205.4,80.3L205.6,79.3L205.7,78.3L205.8,77.8L205.9,76.8L206.1,75.8L206.2,74.8L206.3,74.3L206.5,73.3L206.7,72.3L206.8,71.8L207.1,70.8L207.3,70.0L207.5,69.3L207.8,68.6L208.2,67.8L208.4,67.3L208.8,66.6L209.2,65.8L209.5,65.3L209.8,64.8L210.3,64.1L210.8,63.5L211.3,62.9L211.8,62.4L212.3,61.9L212.8,61.5L213.3,61.1L213.8,60.7L214.3,60.3L215.1,59.8L215.8,59.4L216.3,59.1L216.8,58.8L217.8,58.3L218.3,58.1L218.9,57.8L219.8,57.5L220.3,57.3L221.3,56.9L221.8,56.8L222.8,56.6L223.8,56.4L224.3,56.3L225.3,56.2L226.3,56.2L227.3,56.2L227.9,56.3L228.8,56.5L229.8,56.7L230.3,56.9L231.3,57.2L231.8,57.4L232.7,57.8L233.3,58.1L233.8,58.3L234.6,58.8L235.3,59.3L235.8,59.6L236.3,60.0L236.8,60.5L237.3,61.0L237.8,61.6L238.3,62.3L238.6,62.8L238.9,63.3L239.3,64.1L239.6,64.8L239.8,65.3L240.2,66.3L240.3,66.8L240.7,67.8L240.9,68.3L241.1,69.3L241.3,69.9L241.5,70.8L241.6,71.8L241.7,72.8L241.6,73.8L241.6,74.8L241.5,75.8L241.5,76.8L241.4,77.8L241.4,78.8L241.3,79.8L241.3,80.3L241.1,81.3L241.0,82.3L240.8,83.3L240.8,83.8L240.6,84.8L240.4,85.8L240.3,86.3L240.1,87.3L239.8,88.3L239.7,88.8L239.3,89.8L239.2,90.3L238.8,91.3L238.6,91.8L238.3,92.5L237.9,93.3L237.7,93.8L237.3,94.5L236.9,95.3L236.6,95.8L236.3,96.5L235.9,97.3L235.6,97.8L235.3,98.4L234.8,99.3L234.5,99.8L234.1,100.3L233.8,100.8L233.3,101.4L232.8,102.0L232.3,102.6L231.8,103.1L231.3,103.5L230.8,104.0L230.3,104.5L229.8,105.0L229.3,105.5L228.8,105.9L228.3,106.4L227.8,106.8L227.1,107.3L226.3,107.8L225.8,108.1L225.3,108.4L224.3,108.8L223.8,109.0L222.8,109.3L222.3,109.4M221.8,105.8L220.8,105.9L219.8,106.0L218.8,106.0L217.8,105.9L217.3,105.8L216.3,105.6L215.6,105.3L214.8,104.9L214.3,104.6L213.8,104.3L213.1,103.8L212.4,103.3L211.9,102.8L211.3,102.3L210.9,101.8L210.4,101.3L210.0,100.8L209.7,100.3L209.3,99.7L208.8,98.8L208.6,98.3L208.3,97.5L208.1,96.8L207.9,95.8L207.8,95.3L207.6,94.3L207.5,93.3L207.4,92.3L207.3,91.8L207.2,90.8L207.1,89.8L207.1,88.8L207.1,87.8L207.1,86.8L207.2,85.8L207.2,84.8L207.3,84.0L207.4,83.3L207.5,82.3L207.7,81.3L207.8,80.6L208.0,79.8L208.2,78.8L208.3,78.2L208.5,77.3L208.7,76.3L208.8,75.8L209.1,74.8L209.3,74.3L209.6,73.3L209.8,72.8L210.1,71.8L210.3,71.3L210.7,70.3L210.9,69.8L211.3,69.1L211.8,68.3L212.1,67.8L212.5,67.3L212.9,66.8L213.3,66.3L213.8,65.7L214.3,65.1L214.8,64.6L215.3,64.1L215.8,63.6L216.3,63.2L216.8,62.8L217.6,62.3L218.3,61.9L218.8,61.7L219.5,61.3L220.3,60.9L220.8,60.7L221.8,60.4L222.3,60.2L223.3,59.9L224.0,59.8L224.8,59.7L225.8,59.7L226.8,59.8L227.3,59.8L228.3,60.1L229.0,60.3L229.8,60.6L230.3,60.8L231.3,61.2L231.8,61.4L232.5,61.8L233.2,62.3L233.8,62.7L234.3,63.2L234.8,63.7L235.3,64.3L235.6,64.8L236.0,65.3L236.3,65.8L236.8,66.6L237.1,67.3L237.4,67.8L237.8,68.8L238.0,69.3L238.3,70.0L238.6,70.8L238.8,71.5L239.0,72.3L239.1,73.3L239.1,74.3L239.1,75.3L239.0,76.3L239.0,77.3L239.0,78.3L238.9,79.3L238.9,80.3L238.8,80.9L238.7,81.8L238.5,82.8L238.4,83.8L238.3,84.3L238.1,85.3L237.9,86.3L237.8,86.8L237.5,87.8L237.3,88.6L237.1,89.3L236.8,90.1L236.5,90.8L236.3,91.3L235.8,92.3L235.6,92.8L235.3,93.3L234.8,94.3L234.5,94.8L234.3,95.3L233.8,96.1L233.4,96.8L233.1,97.3L232.7,97.8L232.3,98.4L231.8,99.1L231.3,99.6L230.8,100.2L230.3,100.7L229.8,101.2L229.3,101.6L228.8,102.1L228.3,102.5L227.8,102.9L227.3,103.3L226.5,103.8L225.8,104.3L225.3,104.5L224.8,104.8L223.8,105.3L223.3,105.4L222.3,105.7L221.8,105.8M223.3,101.9L222.3,102.1L221.3,102.3L220.3,102.3L219.3,102.2L218.3,102.0L217.4,101.8L216.8,101.6L215.8,101.3L215.3,101.1L214.7,100.8L213.9,100.3L213.3,99.9L212.8,99.4L212.3,98.8L211.9,98.3L211.6,97.8L211.3,97.1L211.0,96.3L210.8,95.6L210.6,94.8L210.3,93.8L210.2,93.3L210.0,92.3L209.9,91.3L209.8,90.8L209.7,89.8L209.6,88.8L209.6,87.8L209.6,86.8L209.6,85.8L209.6,84.8L209.6,83.8L209.8,82.8L209.8,82.3L210.1,81.3L210.3,80.4L210.5,79.8L210.8,78.8L210.9,78.3L211.2,77.3L211.4,76.8L211.7,75.8L211.9,75.3L212.3,74.3L212.5,73.8L212.8,73.2L213.2,72.3L213.5,71.8L213.8,71.3L214.3,70.4L214.7,69.8L215.0,69.3L215.4,68.8L215.8,68.2L216.3,67.7L216.8,67.2L217.3,66.7L217.8,66.3L218.5,65.8L219.3,65.3L219.8,65.0L220.3,64.7L221.2,64.3L221.8,64.1L222.6,63.8L223.3,63.6L224.3,63.4L225.3,63.3L226.3,63.4L227.3,63.6L228.0,63.8L228.8,64.1L229.3,64.3L230.2,64.8L230.8,65.1L231.3,65.4L231.8,65.8L232.3,66.3L232.9,66.8L233.3,67.3L233.8,67.9L234.3,68.7L234.7,69.3L234.9,69.8L235.3,70.6L235.6,71.3L235.8,71.8L236.2,72.8L236.3,73.3L236.5,74.3L236.5,75.3L236.6,76.3L236.6,77.3L236.6,78.3L236.6,79.3L236.6,80.3L236.5,81.3L236.3,82.3L236.2,82.8L236.0,83.8L235.8,84.8L235.7,85.3L235.5,86.3L235.3,87.0L235.1,87.8L234.8,88.7L234.6,89.3L234.3,90.0L233.9,90.8L233.7,91.3L233.3,92.0L232.9,92.8L232.6,93.3L232.3,93.8L231.8,94.5L231.3,95.3L231.0,95.8L230.6,96.3L230.2,96.8L229.8,97.3L229.3,97.8L228.8,98.3L228.3,98.8L227.8,99.3L227.2,99.8L226.5,100.3L225.8,100.8L225.3,101.1L224.8,101.3L223.8,101.7L223.3,101.9M222.8,98.4L221.8,98.5L220.8,98.5L219.8,98.4L219.2,98.3L218.3,98.1L217.4,97.8L216.8,97.6L216.3,97.3L215.7,96.8L215.2,96.3L214.8,95.8L214.3,95.0L213.9,94.3L213.6,93.8L213.3,93.1L213.0,92.3L212.8,91.6L212.6,90.8L212.5,89.8L212.4,88.8L212.4,87.8L212.3,86.8L212.3,86.3L212.2,85.3L212.2,84.3L212.2,83.3L212.3,82.8L212.5,81.8L212.8,80.8L213.0,80.3L213.3,79.3L213.5,78.8L213.8,77.8L214.0,77.3L214.3,76.5L214.6,75.8L214.9,75.3L215.3,74.6L215.8,73.8L216.2,73.3L216.6,72.8L217.0,72.3L217.4,71.8L217.8,71.3L218.3,70.7L218.8,70.2L219.3,69.8L220.0,69.3L220.8,68.9L221.3,68.7L222.3,68.4L222.8,68.3L223.8,68.1L224.8,68.0L225.8,67.9L226.8,68.1L227.6,68.3L228.3,68.6L228.8,68.8L229.7,69.3L230.3,69.7L230.8,70.1L231.3,70.7L231.8,71.3L232.1,71.8L232.4,72.3L232.8,72.9L233.2,73.8L233.4,74.3L233.6,75.3L233.8,76.1L233.9,76.8L234.0,77.8L234.1,78.8L234.1,79.8L234.1,80.8L233.9,81.8L233.8,82.5L233.6,83.3L233.4,84.3L233.3,84.8L233.0,85.8L232.8,86.5L232.6,87.3L232.3,88.1L232.1,88.8L231.8,89.4L231.3,90.3L231.0,90.8L230.7,91.3L230.3,91.8L229.8,92.5L229.3,93.2L228.9,93.8L228.5,94.3L228.1,94.8L227.7,95.3L227.2,95.8L226.7,96.3L226.1,96.8L225.4,97.3L224.8,97.7L224.3,97.9L223.3,98.3L222.8,98.4M222.8,93.8L222.0,93.8L221.3,93.7L220.3,93.3L219.8,93.1L219.1,92.8L218.4,92.3L217.8,91.9L217.3,91.4L216.8,90.8L216.5,90.3L216.3,89.8L215.9,88.8L215.8,88.2L215.7,87.3L215.7,86.3L215.7,85.3L215.6,84.3L215.5,83.3L215.5,82.3L215.7,81.3L215.8,80.8L216.1,79.8L216.3,79.1L216.6,78.3L216.8,77.8L217.3,76.9L217.7,76.3L218.0,75.8L218.5,75.3L219.0,74.8L219.6,74.3L220.3,73.9L220.8,73.6L221.4,73.3L222.3,73.0L223.3,72.8L223.8,72.8L224.3,72.8L225.3,73.0L225.9,73.3L226.8,73.7L227.3,74.0L227.8,74.3L228.5,74.8L229.0,75.3L229.5,75.8L229.8,76.3L230.3,77.1L230.6,77.8L230.8,78.6L230.9,79.3L230.9,80.3L230.8,81.3L230.7,81.8L230.5,82.8L230.3,83.8L230.2,84.3L229.9,85.3L229.7,85.8L229.3,86.8L229.1,87.3L228.8,88.0L228.3,88.8L228.0,89.3L227.7,89.8L227.3,90.4L226.8,91.1L226.3,91.7L225.8,92.3L225.3,92.8L224.8,93.2L224.3,93.5L223.3,93.8L222.8,93.8" stroke="#e23b42" stroke-width="1.0" fill="none" stroke-linejoin="round"/></g><path d="M91.3,11.8H327.8" stroke="#8a8a8a" stroke-width="1.7" fill="none"/><path d="M327.8,11.8V247.2" stroke="#666" stroke-width="1.6" fill="none"/><path d="M91.3,11.8V247.2" stroke="#555" stroke-width="1.5" fill="none"/><path d="M91.3,247.2H327.8" stroke="#444" stroke-width="1.1" fill="none"/><path d="M202.6,11.8V247.2" stroke="#2a2a2a" stroke-width="1.5"/><path d="M91.3,247.50h-2.6M91.3,242.48h-2.6M91.3,238.23h-2.6M91.3,234.55h-2.6M91.3,231.30h-2.6M91.3,209.30h-2.6M91.3,198.13h-2.6M91.3,190.20h-2.6M91.3,184.05h-2.6M91.3,179.03h-2.6M91.3,174.78h-2.6M91.3,171.10h-2.6M91.3,167.85h-2.6M91.3,145.85h-2.6M91.3,134.68h-2.6M91.3,126.75h-2.6M91.3,120.60h-2.6M91.3,115.58h-2.6M91.3,111.33h-2.6M91.3,107.65h-2.6M91.3,104.40h-2.6M91.3,82.40h-2.6M91.3,71.23h-2.6M91.3,63.30h-2.6M91.3,57.15h-2.6M91.3,52.13h-2.6M91.3,47.88h-2.6M91.3,44.20h-2.6M91.3,40.95h-2.6M91.3,18.95h-2.6" stroke="#333" stroke-width="1.2" fill="none"/><path d="M91.3,228.40h-4.6M91.3,164.95h-4.6M91.3,101.50h-4.6M91.3,38.05h-4.6" stroke="#222" stroke-width="2" fill="none"/><path d="M91.30,247.20v2.6M96.32,247.20v2.6M100.57,247.20v2.6M104.25,247.20v2.6M107.50,247.20v2.6M129.50,247.20v2.6M140.67,247.20v2.6M148.60,247.20v2.6M154.75,247.20v2.6M159.77,247.20v2.6M164.02,247.20v2.6M167.70,247.20v2.6M170.95,247.20v2.6M192.95,247.20v2.6M204.12,247.20v2.6M212.05,247.20v2.6M218.20,247.20v2.6M223.22,247.20v2.6M227.47,247.20v2.6M231.15,247.20v2.6M234.40,247.20v2.6M256.40,247.20v2.6M267.57,247.20v2.6M275.50,247.20v2.6M281.65,247.20v2.6M286.67,247.20v2.6M290.92,247.20v2.6M294.60,247.20v2.6M297.85,247.20v2.6M319.85,247.20v2.6" stroke="#333" stroke-width="1.1" fill="none"/><path d="M110.40,247.20v4.2M173.85,247.20v4.2M237.30,247.20v4.2M300.75,247.20v4.2" stroke="#333" stroke-width="2.0" fill="none"/><rect x="381.1" y="25.3" width="13.2" height="14.8" fill="#9b9b9b"/><rect x="383.5" y="104.70" width="13.6" height="14.9" fill="#3b6b35"/><rect x="383.5" y="130.65" width="13.6" height="14.9" fill="#4cb748"/><rect x="383.5" y="156.60" width="13.6" height="14.9" fill="#b2af36"/><rect x="383.5" y="182.55" width="13.6" height="14.9" fill="#de7a2a"/><rect x="383.5" y="208.50" width="13.6" height="14.9" fill="#e4262a"/><clipPath id="cbl"><rect x="91.4" y="270" width="236.1" height="236"/></clipPath><clipPath id="cbr"><rect x="437" y="270" width="236.5" height="236"/></clipPath><g clip-path="url(#cbl)"><path d="M91.40,502.00L94.12,504.23L97.00,504.50L100.10,504.50L103.11,504.49L106.47,504.48L109.15,504.46L111.92,504.44L114.73,504.41L117.54,504.37L120.31,504.32L122.98,504.26L126.33,504.16L129.32,504.03L131.96,503.73L134.74,503.29L137.36,502.80L140.63,502.03L143.68,501.12L146.54,500.03L149.34,498.25L152.27,497.88L154.45,495.56L156.61,492.64L158.87,490.95L160.86,488.80L162.70,484.87L164.59,483.11L166.66,479.97L168.43,477.31L169.77,474.29L171.00,472.07L171.91,470.55L173.87,467.32L175.48,464.22L176.50,462.08L178.77,459.91L180.56,457.88L183.60,456.28L186.33,456.33L189.74,456.10L192.87,454.43L195.71,452.62L197.63,451.25L199.44,448.52L200.24,446.11L200.85,443.94L201.39,441.04L202.37,437.73L202.42,434.00L203.07,431.39L204.46,428.99L205.06,424.37L205.47,422.79L206.08,420.14L206.06,416.46L207.10,414.66L207.68,411.52L208.18,408.39L208.71,407.01L208.81,402.41L209.54,400.30L209.83,396.72L210.35,394.57L210.75,391.41L211.40,386.95L211.80,384.94L212.91,380.68L212.74,378.05L213.84,373.89L214.09,372.15L214.40,368.64L215.12,365.08L215.18,362.53L215.92,358.93L216.25,356.21L216.72,352.49L217.70,348.78L217.50,345.28L217.96,341.99L218.44,339.19L219.04,336.28L219.64,333.63L220.04,329.73L220.28,327.38L220.08,324.73L220.44,322.33L221.03,318.23L221.02,315.27L221.13,311.46L221.15,310.00L221.93,306.36L222.14,303.18L222.46,300.92L222.78,296.99L223.21,294.94L222.84,291.30L224.22,290.94L225.08,294.25L225.91,299.15L225.90,301.47L226.78,304.57L227.77,307.96L228.55,310.02L229.20,313.05L229.71,316.14L229.87,318.63L230.32,322.44L230.68,324.57L231.12,327.16L231.92,330.74L232.23,334.28L232.41,336.07L232.55,340.09L233.32,344.06L233.49,346.32L233.87,350.84L233.97,354.20L234.72,356.95L234.66,359.48L234.63,362.50L235.27,366.79L235.78,369.77L235.93,372.49L235.37,374.92L235.61,378.64L236.28,381.24L235.80,384.95L236.06,387.81L236.05,391.55L236.88,394.83L237.10,396.87L236.63,399.69L237.58,402.76L237.32,405.25L237.61,408.86L238.57,412.85L238.81,416.02L238.74,419.50L239.06,421.72L239.21,424.94L239.60,427.09L240.33,429.79L240.66,431.95L241.16,436.27L241.43,439.66L242.01,441.39L242.26,444.51L242.62,447.85L243.12,450.01L243.65,453.50L243.38,456.58L243.85,461.07L244.83,463.68L244.84,466.66L245.83,469.80L245.91,473.04L246.75,475.26L246.98,477.98L247.91,481.13L248.29,484.82L248.80,487.40L249.21,489.96L250.45,491.81L251.54,495.81L252.63,499.11L254.09,501.46L255.72,503.87L258.50,504.50L261.51,504.56L264.66,504.60L267.54,504.63L270.70,504.65L274.10,504.67L276.78,504.69L279.55,504.70L282.41,504.71L285.32,504.72L288.28,504.73L291.26,504.74L294.25,504.75L297.23,504.75L300.19,504.76L303.10,504.76L305.96,504.77L308.74,504.77L311.42,504.77L314.83,504.78L318.00,504.78L320.89,504.78L324.06,504.79L327.09,504.80L327.50,504.80" stroke="#e0282a" stroke-width="2.5" fill="none" stroke-linejoin="round" stroke-linecap="round"/><path d="M91.40,500.00L92.50,502.40L96.00,504.00L98.86,504.00L101.71,503.99L104.95,503.96L107.56,503.92L110.26,503.86L113.01,503.79L115.74,503.69L118.43,503.56L121.79,503.33L125.07,503.07L128.49,502.82L131.10,502.61L133.71,502.36L136.29,502.07L139.64,501.57L142.81,500.92L145.72,500.08L148.23,499.10L151.19,497.47L154.08,494.83L156.34,492.75L157.93,490.15L160.35,487.49L162.50,485.18L163.96,481.67L165.51,479.70L167.62,476.35L168.98,473.15L170.27,470.28L171.57,467.72L173.49,464.78L174.26,461.26L175.55,459.05L176.98,456.45L178.64,453.84L181.92,452.52L184.75,453.07L188.51,452.47L191.38,451.35L194.11,451.26L196.79,449.40L198.31,447.61L199.42,444.71L200.61,442.28L200.98,439.43L201.73,436.98L202.32,433.38L203.15,430.15L203.22,427.41L204.05,423.55L203.73,421.97L204.76,418.51L204.62,416.27L205.53,412.82L205.49,410.88L205.66,407.87L206.05,404.63L206.56,400.82L207.17,397.69L207.33,395.11L208.04,391.99L208.74,388.81L208.79,385.18L209.25,382.86L209.58,379.24L210.46,376.70L210.58,373.63L211.11,369.59L211.07,366.48L212.03,363.82L212.43,362.16L212.85,358.78L212.61,355.04L213.27,352.25L214.14,349.35L214.61,346.15L215.01,342.18L215.60,338.77L215.96,336.51L216.41,332.59L216.27,330.58L216.57,326.47L217.21,323.47L217.67,321.31L217.50,317.07L218.28,314.50L218.17,310.63L218.44,308.09L219.03,305.36L219.95,302.32L220.40,298.59L220.70,296.57L221.32,292.35L221.43,290.27L221.97,287.46L222.32,285.13L223.51,282.25L224.95,283.22L224.84,286.43L225.29,289.35L226.15,291.59L226.19,294.58L226.66,299.18L227.18,301.91L227.66,303.91L228.51,306.79L229.51,309.50L229.74,312.44L230.04,316.37L230.81,319.41L231.52,321.47L231.41,325.30L232.55,327.29L232.44,331.75L233.06,334.81L233.13,337.97L233.06,340.46L233.99,343.70L233.95,347.20L234.18,351.21L234.92,353.69L234.66,357.98L235.25,361.30L235.45,364.66L235.80,367.43L235.54,369.65L236.16,373.90L236.33,375.92L236.34,379.95L236.05,381.49L236.18,384.87L236.76,389.00L237.09,392.11L237.41,395.17L237.20,397.81L237.68,399.59L237.84,402.28L237.99,406.30L238.00,409.01L238.70,411.88L238.77,415.65L239.37,418.41L239.72,421.96L239.77,424.76L240.08,426.89L240.61,430.13L241.34,432.54L241.27,435.29L242.10,438.91L242.35,442.46L242.38,444.98L243.35,447.78L243.61,450.19L243.41,454.23L244.06,457.53L244.87,459.55L245.06,462.81L245.91,466.91L246.40,469.82L246.47,472.48L247.11,474.75L247.49,478.38L248.52,480.69L248.69,483.60L249.25,486.65L249.75,490.15L250.65,493.08L251.68,496.53L253.41,498.38L254.59,501.46L256.22,503.87L259.00,504.50L262.03,504.56L265.20,504.60L268.11,504.63L271.29,504.65L274.72,504.68L277.42,504.69L280.22,504.70L283.09,504.71L286.02,504.72L289.00,504.73L292.00,504.74L295.00,504.75L297.99,504.75L300.96,504.76L303.87,504.76L306.73,504.77L309.50,504.77L312.17,504.77L315.55,504.78L318.68,504.78L321.52,504.78L324.60,504.79L327.50,504.80L327.50,504.80" stroke="#dc7a2c" stroke-width="2.5" fill="none" stroke-linejoin="round" stroke-linecap="round"/><path d="M91.40,498.00L92.79,500.47L94.92,502.56L97.67,503.17L100.91,503.33L104.16,503.39L107.11,503.40L110.60,503.40L113.24,503.21L116.29,503.01L119.64,502.79L122.30,502.60L125.02,502.37L127.76,502.09L130.47,501.77L133.12,501.38L136.46,500.75L139.88,499.91L142.54,499.32L144.53,497.09L147.65,495.35L149.95,494.53L152.58,491.05L154.04,488.81L156.69,485.98L158.26,483.58L160.05,481.66L161.90,478.66L164.06,476.21L165.46,473.33L167.17,470.48L168.42,467.01L170.12,465.47L171.61,462.37L172.86,459.55L174.26,458.38L176.56,455.57L177.92,453.11L180.17,450.66L182.89,449.71L186.12,449.38L189.15,450.20L191.66,452.00L193.70,451.15L196.33,449.70L197.41,447.17L198.92,443.99L200.12,442.01L201.22,440.01L202.93,437.42L204.37,434.41L205.47,431.37L206.70,428.56L207.05,425.20L207.17,422.07L207.84,419.26L208.00,416.11L208.28,413.12L208.87,409.45L209.20,406.83L209.33,404.36L209.39,401.53L209.53,397.86L210.28,394.54L210.36,393.07L210.86,389.97L210.62,386.62L211.08,383.45L210.83,382.06L211.54,378.27L211.69,375.09L212.34,371.88L212.52,369.61L212.48,366.07L213.07,362.57L213.58,358.99L214.19,356.10L214.10,354.00L215.28,350.73L215.55,348.29L216.38,344.35L216.63,341.20L216.96,338.84L217.47,336.46L218.13,332.34L217.66,330.81L218.45,327.34L218.07,323.79L218.88,321.85L218.97,319.65L219.10,316.46L218.97,312.73L219.55,310.73L220.94,308.34L223.43,306.66L224.55,303.92L225.71,300.80L226.55,298.52L227.48,294.56L228.50,293.95L230.18,296.29L231.16,299.59L231.81,302.78L231.94,305.82L232.77,309.50L233.31,312.78L233.22,315.74L233.57,318.10L233.67,321.47L234.14,323.83L234.76,326.19L234.85,328.87L235.14,332.57L235.34,335.19L235.74,338.65L236.28,342.18L236.81,344.81L237.21,348.27L237.71,351.33L237.44,353.15L238.26,356.31L238.68,359.52L238.77,362.53L239.07,365.30L239.23,367.91L238.86,370.46L239.00,374.85L239.48,376.69L239.13,380.63L239.69,383.82L239.44,387.08L240.25,390.44L240.34,392.36L240.37,394.94L240.23,398.88L240.36,401.12L240.54,405.05L241.11,407.76L241.43,410.83L241.68,414.69L241.39,417.25L241.74,420.18L242.10,423.12L242.22,425.66L242.00,428.49L242.80,431.75L242.81,434.49L242.56,438.13L243.17,441.77L243.31,444.54L243.25,446.65L243.51,449.80L243.91,452.56L244.35,456.09L245.11,460.04L245.64,462.51L245.25,464.30L246.58,468.24L247.01,470.41L247.05,473.00L247.80,476.04L248.36,478.81L248.53,481.99L249.82,485.33L250.07,486.94L250.66,490.41L251.53,493.06L252.62,495.68L253.75,497.80L255.19,501.02L256.83,503.43L260.00,504.50L263.03,504.56L266.20,504.60L269.11,504.63L272.31,504.66L275.74,504.68L278.44,504.69L281.24,504.70L284.11,504.72L287.04,504.73L290.01,504.73L293.00,504.74L296.00,504.75L298.98,504.75L301.92,504.76L304.82,504.76L307.65,504.77L310.39,504.77L313.03,504.77L316.36,504.78L319.42,504.78L322.19,504.79L325.15,504.79L327.50,504.80" stroke="#abad38" stroke-width="2.5" fill="none" stroke-linejoin="round" stroke-linecap="round"/><path d="M91.40,480.00L92.05,483.90L92.10,485.64L92.05,489.40L92.75,491.14L92.73,495.63L93.23,498.46L94.71,501.12L97.27,502.00L99.94,501.96L103.16,501.85L105.84,501.71L108.67,501.49L111.29,501.23L114.26,500.98L117.51,500.73L120.89,500.41L124.14,500.21L127.82,499.48L130.42,498.18L133.65,497.31L135.75,495.74L138.01,493.93L140.41,492.26L142.77,490.00L145.46,488.01L146.90,484.69L148.76,481.67L149.82,478.39L150.74,474.99L151.62,473.80L153.04,470.82L155.00,468.95L156.21,465.70L157.94,462.84L159.84,459.60L161.50,457.08L162.44,453.94L163.98,451.54L164.35,449.14L165.80,445.98L166.57,442.57L167.61,438.92L168.61,436.29L169.53,433.47L170.44,429.93L171.28,426.91L172.21,422.89L173.38,420.17L173.93,417.61L174.50,414.99L175.78,412.83L176.94,409.30L178.50,408.28L180.02,410.09L180.25,412.69L180.93,414.51L181.53,417.50L181.84,420.67L182.47,423.84L183.46,426.54L183.54,429.17L184.59,432.31L185.90,435.01L187.36,437.67L189.71,440.20L192.56,440.91L194.68,443.34L197.03,443.98L199.80,445.31L203.07,444.78L204.31,442.33L205.32,438.71L206.97,436.91L207.91,432.45L208.92,430.12L209.17,427.10L210.41,423.67L210.25,421.28L211.13,418.60L211.42,416.04L211.26,412.31L211.64,410.30L212.22,406.97L212.78,405.04L212.49,401.22L213.00,398.94L213.54,395.71L214.41,392.87L214.87,389.45L214.77,385.94L215.08,383.36L215.45,381.31L215.96,378.67L216.40,374.23L216.93,372.02L217.90,368.91L218.20,365.25L218.57,362.02L219.95,359.30L220.88,356.47L221.86,354.39L222.51,350.92L223.66,348.20L223.36,345.90L224.54,342.38L224.14,338.71L224.87,335.77L225.00,333.90L225.47,331.42L226.11,327.56L226.57,323.81L226.64,322.02L227.49,318.54L227.64,315.97L228.24,311.46L228.80,308.88L229.72,306.54L230.28,303.26L232.03,306.62L232.40,309.08L232.88,312.65L233.11,315.24L233.30,317.75L233.15,320.66L233.51,324.31L234.69,327.65L235.04,330.67L235.76,333.04L235.88,336.68L236.23,339.28L236.66,341.03L236.87,344.43L237.12,348.91L237.68,350.95L238.27,353.27L238.49,356.85L238.20,359.81L239.17,362.41L238.87,365.93L239.37,369.35L239.84,373.07L240.11,375.31L239.73,377.80L239.77,380.71L240.40,383.95L240.70,386.08L240.79,389.90L240.82,392.14L240.95,396.68L241.55,399.19L241.68,401.81L241.69,406.16L241.94,409.28L242.68,412.20L242.50,415.72L242.88,418.42L243.23,421.47L242.89,424.80L243.67,427.69L243.38,431.02L244.06,434.11L243.70,438.10L244.39,440.86L244.64,444.25L244.60,446.04L245.09,449.56L245.60,452.50L245.25,454.77L245.83,458.50L246.22,460.41L246.66,463.80L247.45,467.59L248.27,469.50L248.56,473.62L248.94,474.87L249.82,479.60L249.88,481.43L250.60,484.59L251.11,487.35L252.02,491.57L252.86,493.04L254.12,495.67L254.69,497.89L256.67,500.99L258.33,503.32L262.00,504.50L265.08,504.56L268.32,504.60L271.30,504.63L274.55,504.66L277.16,504.68L279.87,504.69L282.69,504.70L285.58,504.72L288.53,504.73L291.52,504.73L294.53,504.74L297.54,504.75L300.53,504.75L303.48,504.76L306.37,504.76L309.19,504.77L311.91,504.77L314.51,504.77L317.77,504.78L320.75,504.78L323.39,504.79L326.16,504.79L327.50,504.80" stroke="#4fb847" stroke-width="2.5" fill="none" stroke-linejoin="round" stroke-linecap="round"/><path d="M91.40,445.00L91.89,447.92L91.98,451.69L91.78,454.63L91.95,456.30L92.13,460.00L92.15,462.69L92.51,464.77L92.79,467.96L93.09,472.09L93.70,474.29L93.94,477.52L94.12,480.58L93.97,482.47L94.51,486.48L94.49,487.83L94.88,491.56L95.27,495.26L95.72,497.88L95.86,500.59L97.58,502.32L101.17,502.50L104.20,501.64L106.94,499.95L109.33,498.79L111.77,497.39L113.98,495.71L117.39,494.77L120.47,493.79L122.92,492.53L126.16,491.05L128.70,489.18L131.59,488.38L134.50,486.56L136.76,482.78L138.73,480.56L141.40,478.69L143.17,476.85L144.76,475.20L146.50,470.88L147.81,468.17L149.13,465.00L149.40,463.24L150.40,458.82L151.57,456.88L151.97,453.14L152.91,450.84L153.04,447.80L154.17,445.56L154.37,442.47L155.60,440.37L156.00,436.69L156.73,434.43L157.56,431.53L158.47,428.73L158.98,424.58L159.52,422.47L160.75,419.21L160.93,416.55L162.30,413.94L162.94,411.09L163.43,408.08L164.36,405.53L165.49,402.95L166.31,399.14L166.97,395.85L168.03,393.65L168.54,389.06L168.60,387.32L168.56,385.31L169.09,380.88L169.48,377.85L169.48,374.96L169.76,371.13L170.25,368.36L170.15,365.14L170.59,361.72L171.44,360.42L173.43,363.72L174.43,365.62L175.38,369.68L176.74,371.90L177.88,374.62L180.37,377.76L181.76,379.63L182.68,382.44L183.29,385.64L184.00,387.53L184.71,391.84L184.62,394.18L185.75,397.05L185.94,399.46L186.18,403.45L186.34,405.24L186.46,408.05L187.18,411.09L187.73,413.07L187.59,416.49L188.29,420.11L190.15,421.74L193.44,421.85L195.71,422.09L197.69,423.76L199.14,426.02L199.35,430.66L200.45,432.77L200.85,435.59L201.30,438.06L201.98,440.85L202.56,443.61L202.93,447.05L203.51,448.90L204.61,451.38L206.72,453.82L208.61,452.31L210.21,450.53L211.94,448.56L213.73,447.42L216.55,448.22L217.40,444.06L218.15,442.61L218.87,437.79L219.78,434.90L220.14,433.14L220.67,429.75L221.64,426.27L221.76,422.56L222.01,420.44L222.54,417.73L222.71,415.57L223.11,412.07L223.46,410.18L223.99,406.72L224.57,403.14L224.98,399.65L225.32,397.56L225.95,394.51L227.39,392.02L228.00,388.70L229.17,386.84L229.45,382.71L230.18,379.85L231.49,377.35L232.59,374.39L233.28,371.48L234.27,368.48L236.41,365.53L237.38,369.26L237.77,371.16L238.66,375.58L239.13,378.71L239.53,380.25L239.82,383.74L240.98,387.18L241.64,389.88L241.94,393.00L241.84,396.10L242.32,400.50L243.01,402.57L242.67,405.43L242.79,408.29L243.75,412.69L243.54,416.03L243.51,418.85L243.98,420.93L243.91,422.68L244.29,426.43L244.59,429.41L244.94,430.93L244.92,433.72L245.23,437.06L244.80,440.24L245.71,444.24L246.02,446.64L246.08,449.65L246.23,452.61L246.32,454.83L247.06,458.53L247.74,460.14L248.28,463.86L248.31,467.58L249.35,469.67L249.40,473.50L250.28,475.33L250.52,479.56L251.09,481.88L251.53,484.35L252.65,488.02L253.69,491.03L254.07,493.23L255.08,495.43L256.22,499.22L258.15,500.99L259.89,503.32L264.00,504.50L267.10,504.56L270.36,504.61L273.34,504.64L276.61,504.66L279.22,504.68L281.95,504.69L284.76,504.71L287.65,504.72L290.60,504.73L293.57,504.74L296.56,504.74L299.55,504.75L302.50,504.76L305.41,504.76L308.25,504.77L311.01,504.77L313.65,504.77L316.98,504.78L320.04,504.78L322.77,504.79L325.66,504.79L327.50,504.80" stroke="#30632a" stroke-width="2.5" fill="none" stroke-linejoin="round" stroke-linecap="round"/><path d="M91.40,500.00C92.20,500.57 91.40,503.00 96.20,503.40C101.13,503.40 114.13,503.40 121.00,502.40C127.87,501.03 132.95,498.82 137.40,495.20C141.85,491.58 144.27,487.92 147.70,480.70C151.13,473.48 155.62,460.35 158.00,451.90C160.38,443.45 160.78,436.88 162.00,430.00C163.22,423.12 164.23,417.27 165.30,410.60C166.37,403.93 167.40,399.28 168.40,390.00C169.40,380.72 170.08,367.08 171.30,354.90C172.52,342.72 173.85,328.07 175.70,316.90C177.55,305.73 181.08,290.88 182.40,287.90C183.60,287.90 182.85,289.70 183.60,299.00C184.35,308.30 185.78,330.67 186.90,343.70C188.02,356.73 189.37,367.90 190.30,377.20C191.23,386.50 191.68,389.47 192.50,399.50C193.32,409.53 194.07,425.92 195.20,437.40C196.33,448.88 198.10,460.15 199.30,468.40C200.50,476.65 201.37,481.42 202.40,486.90C203.43,492.38 204.30,498.55 205.50,501.30C206.70,503.40 205.50,502.87 209.60,503.40C218.68,503.93 240.35,504.23 260.00,504.50C279.65,504.77 316.25,504.92 327.50,505.00" stroke="#a3a3a3" stroke-width="3" fill="none" stroke-dasharray="3 3"/><path d="M91.4,481.3H203.5M203.5,476.2V486.7M203.5,493.3H326.9M203.5,488.9V498.5M326.9,488V499.4" stroke="#1a1a1a" stroke-width="1.35" fill="none"/></g><g clip-path="url(#cbr)"><path d="M437.20,505.20C466.00,505.23 578.50,505.40 610.00,505.40C626.20,504.58 622.60,505.40 626.20,500.30C629.80,494.33 629.80,484.93 631.60,469.60C633.40,454.27 635.20,427.55 637.00,408.30C638.80,389.05 640.42,368.85 642.40,354.10C644.38,339.35 647.08,319.80 648.90,319.80C650.72,319.80 651.67,339.35 653.30,354.10C654.93,368.85 656.90,389.05 658.70,408.30C660.50,427.55 662.00,454.87 664.10,469.60C666.20,484.33 669.73,490.97 671.30,496.70C672.87,502.43 673.13,502.78 673.50,504.00" stroke="#a3a3a3" stroke-width="3" fill="none" stroke-dasharray="3 3"/><path d="M437.20,431.00L437.50,434.79L437.06,437.63L437.84,439.41L437.93,443.23L437.55,446.25L437.81,448.27L438.16,451.55L438.36,453.80L438.28,456.46L438.25,459.82L438.22,462.27L438.99,465.30L438.86,467.98L439.36,471.86L439.16,476.51L439.60,479.57L439.98,482.50L440.20,485.25L440.57,487.95L442.34,486.83L443.84,483.70L444.02,480.96L444.84,478.67L446.32,475.20L447.01,471.96L447.22,469.05L448.01,465.92L448.55,463.06L449.32,460.58L449.97,456.06L450.42,454.45L450.86,450.81L450.99,449.01L452.12,445.57L452.74,442.38L453.40,438.64L454.00,436.21L454.02,432.04L454.75,429.59L455.60,425.12L456.22,422.23L456.85,418.99L456.73,416.00L457.47,413.23L457.93,409.97L458.11,406.95L459.00,405.05L458.78,401.36L459.31,398.10L459.20,396.15L459.78,393.00L460.28,389.72L460.49,387.49L460.82,383.91L461.05,379.87L460.88,377.41L461.46,374.09L461.66,369.80L461.91,366.66L462.53,363.38L462.97,360.68L463.05,357.68L463.84,354.11L463.58,351.83L464.18,348.70L464.75,344.66L465.46,340.81L465.79,338.45L466.08,336.25L466.46,332.05L466.90,328.90L466.62,325.95L466.71,323.63L467.26,320.77L467.86,317.87L467.43,315.46L467.80,312.11L468.48,308.80L468.88,305.53L468.99,303.03L469.69,299.81L471.65,299.93L473.98,301.49L474.93,297.04L475.40,295.32L477.58,295.33L478.39,299.75L478.09,301.82L479.06,304.73L478.78,308.50L479.41,311.48L479.38,313.78L479.68,317.18L480.63,319.82L480.54,321.66L481.69,325.29L482.37,328.77L482.40,331.17L483.64,334.68L484.03,338.47L484.34,340.86L485.23,344.10L485.50,347.37L485.67,349.63L486.56,353.32L486.69,355.58L487.50,358.85L487.37,361.68L488.92,364.85L491.28,366.00L491.92,369.38L493.33,372.82L493.83,375.93L494.06,377.72L494.86,380.57L495.09,384.26L495.33,387.84L496.62,390.70L496.90,393.60L497.23,396.20L497.66,399.78L498.12,403.28L498.92,405.17L498.79,408.81L499.89,411.39L500.17,415.14L500.52,416.51L501.84,420.24L504.21,421.43L506.49,423.53L507.23,425.33L507.86,428.67L508.47,431.89L508.93,435.11L509.36,437.67L509.94,440.44L510.59,443.14L511.20,446.77L511.93,449.44L512.20,451.20L512.57,454.92L513.35,457.09L513.69,460.49L515.39,463.64L517.67,464.87L520.04,467.11L521.60,470.93L523.54,473.05L524.78,475.39L525.80,478.40L526.65,481.71L528.48,484.04L530.63,486.51L533.78,487.96L536.43,488.74L539.22,489.91L541.52,493.11L543.91,494.11L545.95,495.68L549.27,497.72L551.31,498.93L553.49,500.19L555.78,501.42L558.77,502.69L561.36,503.54L563.92,504.02L567.50,504.34L570.59,504.53L573.38,504.65L576.72,504.74L579.46,504.80L582.34,504.84L585.26,504.88L588.16,504.90L590.96,504.93L593.57,504.94L596.64,504.97L599.57,504.99L600.00,505.00" stroke="#dc7a2c" stroke-width="2.5" fill="none" stroke-linejoin="round" stroke-linecap="round"/><path d="M437.20,470.00L437.48,473.38L438.43,476.33L438.47,478.93L438.67,483.27L439.69,485.13L440.13,488.47L441.41,490.46L443.08,488.95L444.77,487.57L446.04,483.74L446.93,480.59L447.94,477.81L448.85,474.46L449.64,472.02L450.87,468.71L451.43,465.74L451.74,463.03L452.70,461.30L453.24,458.74L453.80,455.17L453.97,453.00L455.00,449.99L455.95,446.84L456.69,443.74L457.22,440.94L457.87,438.11L459.19,434.45L459.73,431.42L460.87,429.02L461.67,425.88L462.75,423.08L463.50,420.97L463.35,417.28L464.53,414.53L465.02,410.97L465.42,408.71L466.21,405.45L466.95,402.18L467.41,398.83L467.90,395.53L467.94,391.45L468.33,388.82L469.05,385.54L468.83,381.53L468.77,378.48L468.93,375.33L469.27,372.73L469.85,369.30L469.35,367.16L470.18,363.94L470.07,360.93L470.18,358.25L470.21,356.37L471.12,352.93L470.87,349.10L471.06,346.54L471.33,343.62L471.68,341.44L472.56,337.79L472.84,335.62L472.53,333.05L473.37,329.48L473.58,326.25L473.42,323.44L473.85,321.26L474.71,317.45L475.08,314.41L476.24,312.65L478.97,311.58L481.97,309.80L483.51,306.79L483.99,303.05L484.51,299.80L485.10,300.10L485.57,303.75L486.38,305.72L486.47,309.14L487.02,313.12L487.46,316.18L487.53,318.31L487.81,321.28L487.66,323.47L488.39,326.70L488.13,329.74L488.54,332.38L489.94,336.28L491.65,338.48L493.80,338.36L494.46,334.72L494.58,333.12L495.04,329.41L495.03,326.07L495.11,323.40L496.23,320.67L499.39,323.46L501.13,324.36L501.19,327.69L501.59,331.57L501.89,334.71L502.13,337.51L502.41,339.94L502.93,342.60L503.33,346.08L503.77,349.55L504.04,352.65L504.95,355.67L505.22,357.34L505.62,360.55L505.80,363.19L505.93,364.85L506.61,369.59L507.06,371.51L508.26,375.05L508.96,377.19L511.19,378.95L512.76,381.37L514.10,384.18L514.42,386.35L514.96,390.80L515.30,392.87L515.55,396.69L515.16,398.65L515.32,401.28L516.04,403.50L516.34,408.00L516.34,410.06L517.47,413.84L517.65,416.68L518.56,417.96L519.29,420.83L519.94,425.11L520.73,428.08L522.16,430.27L523.93,432.73L526.70,433.96L529.87,434.67L532.22,436.85L533.74,439.69L534.86,442.54L535.45,444.37L536.47,448.21L537.02,451.09L537.12,453.54L537.95,456.95L538.67,459.06L539.21,462.02L542.11,460.66L545.49,459.55L546.41,462.85L547.57,465.60L548.29,467.82L548.25,470.96L549.46,473.94L550.09,476.92L550.85,479.84L551.39,483.49L553.75,486.35L555.89,487.93L558.57,489.57L561.52,490.43L564.21,493.03L566.38,494.60L569.06,496.73L570.66,499.47L573.32,501.73L575.84,503.20L578.56,504.05L582.16,504.33L585.00,504.50L588.19,504.65L591.37,504.74L594.02,504.79L596.83,504.83L599.74,504.87L602.70,504.90L605.64,504.92L608.51,504.93L611.23,504.95L614.55,504.96L617.38,504.98L620.00,505.00L620.00,505.00" stroke="#abad38" stroke-width="2.5" fill="none" stroke-linejoin="round" stroke-linecap="round"/><path d="M437.20,480.00L436.99,483.74L437.64,485.79L437.24,488.49L437.23,491.49L437.56,495.18L438.05,496.70L441.24,499.70L443.18,499.01L446.49,497.66L448.04,495.99L449.97,492.08L451.47,490.59L452.66,486.65L454.02,484.68L455.12,480.73L455.91,478.28L457.03,475.95L457.55,472.59L458.55,468.80L458.84,467.56L459.35,464.12L460.30,461.33L461.03,458.38L461.54,455.88L461.69,453.21L462.88,450.12L462.97,446.34L463.49,443.32L464.40,440.20L464.53,435.80L464.99,433.51L465.94,428.94L466.49,426.20L466.68,423.61L467.42,419.98L467.47,417.18L467.93,414.26L468.25,411.46L469.36,408.17L469.36,404.02L470.21,401.28L470.12,398.77L470.98,394.70L470.69,391.81L471.79,389.14L471.41,386.05L471.99,382.12L471.87,379.61L472.79,376.76L473.04,373.62L472.78,369.89L473.26,367.28L473.84,365.05L473.45,361.97L474.15,359.11L474.63,355.10L474.94,352.62L475.04,349.57L475.87,345.85L475.70,343.54L476.49,341.24L476.42,338.55L477.11,335.27L477.53,332.62L478.15,328.55L478.06,326.46L479.20,323.42L479.59,320.07L479.53,317.31L480.14,314.70L481.02,310.74L481.33,308.71L481.76,304.90L482.35,303.00L483.83,299.93L484.46,296.20L485.15,294.36L485.86,290.54L486.60,288.89L488.80,289.26L490.11,291.56L492.09,294.54L493.09,297.06L494.40,301.53L493.98,303.44L494.91,306.53L495.13,309.36L494.98,312.87L495.17,315.47L495.91,317.24L496.79,322.00L497.41,324.03L498.93,326.50L499.73,330.60L500.19,333.25L500.13,336.12L500.84,339.03L501.10,341.97L501.65,344.76L501.92,347.97L502.21,350.99L503.37,354.35L504.27,357.89L504.37,360.75L505.37,363.31L506.46,367.57L506.57,370.67L507.36,373.99L507.97,376.80L507.95,379.60L507.93,381.44L508.55,385.35L508.31,387.88L508.72,390.18L509.49,393.71L509.64,397.31L510.45,399.41L510.72,402.48L510.97,405.79L511.39,408.24L511.58,412.02L512.37,413.71L512.81,417.44L512.93,420.02L513.54,421.34L514.53,424.35L515.10,427.41L515.07,431.52L515.69,434.62L516.49,437.53L517.22,439.87L518.04,442.31L519.15,444.77L520.45,447.77L521.69,450.12L522.74,452.93L524.05,456.62L525.55,458.72L526.31,462.46L527.40,465.46L527.75,468.82L528.81,471.21L529.48,475.16L530.44,477.15L531.82,480.31L533.04,482.54L534.27,485.81L535.93,488.40L538.75,489.53L540.95,492.89L543.31,495.13L546.17,495.59L548.66,497.86L551.70,500.05L554.54,501.69L557.05,502.71L559.84,503.50L562.74,504.13L565.41,504.48L568.88,504.75L572.26,504.90L575.00,505.00L578.14,505.00L581.13,505.00L584.46,505.00L587.13,505.00L589.90,505.00L592.76,505.00L595.65,505.00L598.56,505.00L601.44,505.00L604.27,505.00L607.00,505.00L609.61,505.00L612.83,505.00L615.69,505.00L618.63,505.00L620.00,505.00" stroke="#e0282a" stroke-width="2.5" fill="none" stroke-linejoin="round" stroke-linecap="round"/><path d="M437.20,500.00L438.30,502.40L441.32,502.40L444.66,502.40L447.45,502.40L450.29,502.40L453.00,502.40L456.14,502.40L458.67,501.42L460.96,499.37L462.86,496.62L464.54,494.99L466.04,491.37L467.57,488.40L468.43,486.12L469.42,483.55L471.12,480.10L471.99,476.24L472.89,474.13L474.23,471.40L474.66,469.04L476.23,466.74L476.86,463.53L477.54,460.56L478.37,458.62L479.75,454.58L480.85,452.61L482.26,449.21L483.11,446.33L483.93,444.21L484.85,440.53L485.85,438.19L487.13,435.65L488.29,431.84L489.08,429.53L490.28,426.06L490.93,423.73L491.90,421.17L493.07,418.20L493.93,414.93L495.11,413.11L495.85,409.95L496.27,407.00L497.18,404.52L497.98,401.68L498.72,397.74L498.44,395.73L498.98,392.93L499.30,388.83L499.98,386.37L500.13,382.92L500.51,379.74L499.98,375.86L500.14,374.32L500.73,370.83L500.63,366.61L501.48,364.08L501.11,360.17L501.87,358.00L501.52,355.37L501.70,351.48L502.27,349.17L502.64,344.93L502.30,342.18L502.31,340.18L502.51,337.05L503.14,334.26L503.22,331.15L503.56,327.41L504.05,326.97L504.82,329.46L505.30,332.61L506.17,335.46L506.78,339.39L507.00,342.59L507.30,345.18L507.15,348.08L507.42,350.69L507.48,354.14L508.38,357.17L508.38,360.36L508.57,362.47L508.89,365.71L508.83,367.96L509.72,371.79L510.04,374.93L510.10,379.73L509.99,382.70L510.67,384.76L512.14,385.09L512.68,382.59L513.34,377.73L513.65,376.42L514.35,372.38L515.14,369.58L515.43,366.93L516.06,363.17L516.61,360.78L516.95,357.91L516.67,353.81L517.63,350.96L518.00,349.06L518.17,345.64L517.79,343.18L518.46,340.24L519.53,336.44L520.44,339.10L521.06,343.31L522.06,345.58L522.70,348.71L522.65,351.96L523.66,355.40L524.14,357.45L524.27,361.22L524.35,364.87L524.40,366.80L524.59,370.10L525.04,372.53L525.04,374.97L525.25,377.97L524.99,381.34L526.04,383.59L526.37,386.72L527.03,390.62L528.87,392.17L530.68,394.95L532.32,397.14L534.65,399.22L536.63,401.53L538.04,403.80L538.31,405.36L539.54,409.31L540.74,412.90L541.02,414.19L541.96,417.63L542.73,419.80L543.41,423.16L543.62,424.83L544.82,428.82L545.84,430.68L546.91,434.13L547.72,437.10L548.14,440.71L548.55,442.76L550.03,446.12L552.43,447.34L555.06,448.56L557.64,450.46L559.55,452.56L560.67,454.23L560.81,458.17L561.31,460.75L562.16,464.54L562.26,466.21L563.22,469.41L563.40,472.46L564.43,475.32L564.55,477.56L565.80,481.09L566.50,483.04L567.90,485.17L569.18,487.55L571.37,489.90L573.89,492.90L576.35,493.90L578.91,494.82L581.70,496.93L584.83,498.73L587.06,500.36L589.81,501.55L593.07,502.55L595.65,503.13L598.67,503.59L601.28,503.87L604.06,504.11L606.93,504.31L609.78,504.47L612.52,504.61L615.83,504.77L618.52,504.90L620.00,505.00" stroke="#4fb847" stroke-width="2.5" fill="none" stroke-linejoin="round" stroke-linecap="round"/><path d="M437.20,504.00L439.95,504.07L442.98,504.16L445.58,504.23L448.36,504.29L451.22,504.35L454.07,504.39L456.80,504.40L459.39,503.53L462.15,502.63L465.00,501.59L467.88,500.32L471.08,498.53L473.74,496.26L475.43,494.43L477.32,491.89L478.91,489.67L479.91,487.87L481.60,484.32L482.32,482.13L483.04,479.17L484.07,475.39L484.44,473.19L485.53,471.22L485.92,467.77L486.57,465.87L487.08,461.86L487.22,459.17L487.76,457.46L488.29,453.94L488.51,451.04L489.67,449.00L490.35,444.34L490.47,441.67L491.25,439.17L492.34,435.91L493.74,432.53L494.86,429.21L496.73,427.37L498.40,424.83L499.31,423.16L500.65,418.92L501.83,417.15L501.81,414.09L502.41,409.58L502.99,407.48L503.93,403.57L504.49,400.55L504.59,397.01L505.33,394.50L505.64,391.02L506.20,388.32L506.54,385.87L507.06,383.59L508.27,380.84L508.24,376.89L509.17,374.94L510.37,372.03L512.17,369.40L513.35,366.46L515.29,363.84L515.99,361.14L516.37,357.57L516.74,353.83L516.72,351.02L517.28,347.68L518.35,347.89L518.76,350.52L519.71,353.02L520.08,357.08L520.04,359.93L520.79,363.94L521.20,365.83L521.16,368.80L521.76,373.05L523.35,374.23L524.80,372.83L525.49,369.17L526.62,366.45L529.68,364.35L531.98,363.38L533.28,361.07L534.26,357.21L535.20,357.81L536.19,360.63L536.47,363.99L536.47,365.41L537.35,368.37L537.62,371.78L537.98,374.20L538.62,377.54L538.20,379.87L539.04,384.01L539.49,386.82L539.80,388.85L540.35,393.00L540.93,395.88L541.62,398.59L541.85,400.18L542.36,403.05L542.62,405.85L543.13,409.28L543.98,412.68L545.28,416.01L545.50,418.54L546.44,421.33L547.06,424.75L548.45,428.10L549.06,429.55L549.80,432.68L550.38,436.09L551.32,438.51L552.88,441.49L554.33,443.95L555.86,445.24L557.68,448.28L559.70,450.86L559.98,454.70L560.62,457.11L561.88,460.90L561.99,462.85L562.41,465.65L563.51,468.82L563.61,472.11L564.12,473.60L564.99,476.62L566.16,479.21L567.23,482.45L569.20,485.70L572.22,486.50L575.64,485.89L578.41,487.52L580.16,491.59L581.42,493.67L583.08,497.04L585.41,498.48L587.90,500.86L590.74,502.31L593.85,503.44L596.68,504.22L599.46,504.79L602.32,504.89L606.22,504.95L610.00,505.00L612.78,505.00L615.41,505.00L618.35,505.00L621.57,505.00L625.02,505.00L627.72,505.00L630.52,505.00L633.38,505.00L636.28,505.00L639.22,505.00L642.17,505.00L645.11,505.00L648.02,505.00L650.89,505.00L653.70,505.00L656.42,505.00L659.05,505.00L662.36,505.00L665.42,505.00L668.19,505.00L671.15,505.00L673.50,505.00" stroke="#30632a" stroke-width="2.5" fill="none" stroke-linejoin="round" stroke-linecap="round"/></g><path d="M87.3,270.1H327.8V505.4" stroke="#4a4a4a" stroke-width="1.5" fill="none"/><path d="M91.3,270.1V505.4H327.8" stroke="#1e1e1e" stroke-width="1.5" fill="none"/><path d="M91.3,493.63h-2.6M91.3,481.87h-2.6M91.3,470.10h-2.6M91.3,458.34h-4M91.3,446.57h-2.6M91.3,434.81h-2.6M91.3,423.04h-2.6M91.3,399.51h-2.6M91.3,387.75h-2.6M91.3,375.99h-2.6M91.3,364.22h-4M91.3,352.46h-2.6M91.3,340.69h-2.6M91.3,328.93h-2.6M91.3,305.39h-2.6M91.3,293.63h-2.6M91.3,281.87h-2.6M91.3,270.10h-4" stroke="#333" stroke-width="1.1" fill="none"/><path d="M91.3,505.40h-4.8M91.3,411.28h-4.8M91.3,317.16h-4.8" stroke="#1e1e1e" stroke-width="2" fill="none"/><path d="M91.30,505.40v2.6M96.32,505.40v2.6M100.57,505.40v2.6M104.25,505.40v2.6M107.50,505.40v2.6M129.50,505.40v2.6M140.67,505.40v2.6M148.60,505.40v2.6M154.75,505.40v2.6M159.77,505.40v2.6M164.02,505.40v2.6M167.70,505.40v2.6M170.95,505.40v2.6M192.95,505.40v2.6M204.12,505.40v2.6M212.05,505.40v2.6M218.20,505.40v2.6M223.22,505.40v2.6M227.47,505.40v2.6M231.15,505.40v2.6M234.40,505.40v2.6M256.40,505.40v2.6M267.57,505.40v2.6M275.50,505.40v2.6M281.65,505.40v2.6M286.67,505.40v2.6M290.92,505.40v2.6M294.60,505.40v2.6M297.85,505.40v2.6M319.85,505.40v2.6" stroke="#333" stroke-width="1.2" fill="none"/><path d="M110.40,505.40v4.4M173.85,505.40v4.4M237.30,505.40v4.4M300.75,505.40v4.4" stroke="#333" stroke-width="2.2" fill="none"/><path d="M433.1,270.1H674.0V505.4" stroke="#6b6b6b" stroke-width="1.4" fill="none"/><path d="M437.1,270.1V505.4H674.0" stroke="#1e1e1e" stroke-width="1.5" fill="none"/><path d="M437.1,493.63h-2.6M437.1,481.87h-2.6M437.1,470.10h-2.6M437.1,458.34h-4M437.1,446.57h-2.6M437.1,434.81h-2.6M437.1,423.04h-2.6M437.1,399.51h-2.6M437.1,387.75h-2.6M437.1,375.99h-2.6M437.1,364.22h-4M437.1,352.46h-2.6M437.1,340.69h-2.6M437.1,328.93h-2.6M437.1,305.39h-2.6M437.1,293.63h-2.6M437.1,281.87h-2.6M437.1,270.10h-4" stroke="#333" stroke-width="1.1" fill="none"/><path d="M437.1,505.40h-4.8M437.1,411.28h-4.8M437.1,317.16h-4.8" stroke="#1e1e1e" stroke-width="2" fill="none"/><path d="M437.10,505.40v2.6M442.12,505.40v2.6M446.37,505.40v2.6M450.05,505.40v2.6M453.30,505.40v2.6M475.30,505.40v2.6M486.47,505.40v2.6M494.40,505.40v2.6M500.55,505.40v2.6M505.57,505.40v2.6M509.82,505.40v2.6M513.50,505.40v2.6M516.75,505.40v2.6M538.75,505.40v2.6M549.92,505.40v2.6M557.85,505.40v2.6M564.00,505.40v2.6M569.02,505.40v2.6M573.27,505.40v2.6M576.95,505.40v2.6M580.20,505.40v2.6M602.20,505.40v2.6M613.37,505.40v2.6M621.30,505.40v2.6M627.45,505.40v2.6M632.47,505.40v2.6M636.72,505.40v2.6M640.40,505.40v2.6M643.65,505.40v2.6M665.65,505.40v2.6" stroke="#333" stroke-width="1.2" fill="none"/><path d="M456.20,505.40v4.4M519.65,505.40v4.4M583.10,505.40v4.4M646.55,505.40v4.4" stroke="#333" stroke-width="2.2" fill="none"/><text x="53.00" y="44.00" font-size="22.13" textLength="22.34" lengthAdjust="spacingAndGlyphs" fill="#111">10</text><text x="77.00" y="36.00" font-size="11.72" textLength="7.07" lengthAdjust="spacingAndGlyphs" fill="#111">5</text><text x="53.00" y="107.50" font-size="23.11" textLength="23.40" lengthAdjust="spacingAndGlyphs" fill="#111">10</text><text x="77.00" y="99.00" font-size="11.72" textLength="5.89" lengthAdjust="spacingAndGlyphs" fill="#111">4</text><text x="53.00" y="171.00" font-size="21.01" textLength="23.40" lengthAdjust="spacingAndGlyphs" fill="#111">10</text><text x="77.00" y="163.00" font-size="11.72" textLength="7.07" lengthAdjust="spacingAndGlyphs" fill="#111">3</text><text x="53.00" y="234.50" font-size="21.01" textLength="23.40" lengthAdjust="spacingAndGlyphs" fill="#111">10</text><text x="77.00" y="226.50" font-size="11.72" textLength="7.07" lengthAdjust="spacingAndGlyphs" fill="#111">2</text><text x="98.00" y="535.50" font-size="21.62" textLength="22.26" lengthAdjust="spacingAndGlyphs" fill="#111">10</text><text x="121.00" y="527.00" font-size="11.19" textLength="7.29" lengthAdjust="spacingAndGlyphs" fill="#111">2</text><text x="155.50" y="535.50" font-size="21.62" textLength="22.31" lengthAdjust="spacingAndGlyphs" fill="#111">10</text><text x="179.50" y="527.00" font-size="11.19" textLength="6.24" lengthAdjust="spacingAndGlyphs" fill="#111">3</text><text x="219.50" y="535.50" font-size="21.62" textLength="22.26" lengthAdjust="spacingAndGlyphs" fill="#111">10</text><text x="243.50" y="527.00" font-size="11.19" textLength="6.24" lengthAdjust="spacingAndGlyphs" fill="#111">4</text><text x="282.00" y="535.50" font-size="21.62" textLength="22.26" lengthAdjust="spacingAndGlyphs" fill="#111">10</text><text x="306.00" y="527.00" font-size="11.19" textLength="6.07" lengthAdjust="spacingAndGlyphs" fill="#111">5</text><text x="438.50" y="535.50" font-size="21.62" textLength="23.43" lengthAdjust="spacingAndGlyphs" fill="#111">10</text><text x="462.50" y="527.00" font-size="11.19" textLength="6.42" lengthAdjust="spacingAndGlyphs" fill="#111">2</text><text x="496.50" y="535.50" font-size="21.62" textLength="22.31" lengthAdjust="spacingAndGlyphs" fill="#111">10</text><text x="520.50" y="527.00" font-size="11.19" textLength="6.24" lengthAdjust="spacingAndGlyphs" fill="#111">3</text><text x="560.00" y="535.50" font-size="21.62" textLength="22.41" lengthAdjust="spacingAndGlyphs" fill="#111">10</text><text x="584.00" y="527.00" font-size="11.19" textLength="6.24" lengthAdjust="spacingAndGlyphs" fill="#111">4</text><text x="623.00" y="535.50" font-size="21.62" textLength="23.43" lengthAdjust="spacingAndGlyphs" fill="#111">10</text><text x="647.00" y="527.00" font-size="11.19" textLength="7.29" lengthAdjust="spacingAndGlyphs" fill="#111">5</text><text x="50.00" y="328.50" font-size="26.17" textLength="35.01" lengthAdjust="spacingAndGlyphs" fill="#111">0.8</text><text x="50.00" y="420.50" font-size="26.17" textLength="34.00" lengthAdjust="spacingAndGlyphs" fill="#111">0.4</text><text x="67.50" y="514.00" font-size="27.90" textLength="15.40" lengthAdjust="spacingAndGlyphs" fill="#111">0</text><text x="392.50" y="328.50" font-size="27.90" textLength="34.64" lengthAdjust="spacingAndGlyphs" fill="#111">0.8</text><text x="393.00" y="421.00" font-size="25.89" textLength="33.51" lengthAdjust="spacingAndGlyphs" fill="#111">0.4</text><text x="410.50" y="513.50" font-size="23.14" textLength="15.79" lengthAdjust="spacingAndGlyphs" fill="#111">0</text><text x="403.50" y="38.50" font-size="21.82" font-style="italic" textLength="55.23" lengthAdjust="spacingAndGlyphs" fill="#111">Day 0</text><text x="378.00" y="91.00" font-size="21.82" font-style="italic" textLength="55.31" lengthAdjust="spacingAndGlyphs" fill="#111">Day 4</text><text x="403.50" y="119.00" font-size="21.73" textLength="122.11" lengthAdjust="spacingAndGlyphs" fill="#111">Op9-control</text><text x="403.50" y="144.50" font-size="22.76" textLength="209.13" lengthAdjust="spacingAndGlyphs" fill="#111">Op9-DL1 +10 μM GSI</text><text x="403.50" y="171.00" font-size="22.76" textLength="213.51" lengthAdjust="spacingAndGlyphs" fill="#111">Op9-DL1 +3.3 μM GSI</text><text x="403.50" y="196.50" font-size="22.76" textLength="213.51" lengthAdjust="spacingAndGlyphs" fill="#111">Op9-DL1 +1.1 μM GSI</text><text x="403.50" y="223.00" font-size="22.76" textLength="196.51" lengthAdjust="spacingAndGlyphs" fill="#111">Op9-DL1 +0 μM GSI</text><text transform="translate(30.00,164.50) rotate(-90)" font-size="29.20" textLength="62.47" lengthAdjust="spacingAndGlyphs" fill="#111">CD25</text><text transform="translate(31.00,507.00) rotate(-90)" font-size="24.38" textLength="239.32" lengthAdjust="spacingAndGlyphs" fill="#111">Normalized to mode</text><text transform="translate(373.00,506.50) rotate(-90)" font-size="24.38" textLength="238.70" lengthAdjust="spacingAndGlyphs" fill="#111">Normalized to mode</text><text x="148.50" y="571.00" font-size="26.00" textLength="129.19" lengthAdjust="spacingAndGlyphs" fill="#111">Bcl11b-YFP</text><text x="468.50" y="571.50" font-size="27.40" textLength="175.24" lengthAdjust="spacingAndGlyphs" fill="#111">CellTrace Violet</text><text x="96.50" y="295.00" font-size="18.38" textLength="34.75" lengthAdjust="spacingAndGlyphs" fill="#333">99.1</text><text x="287.50" y="295.00" font-size="17.82" textLength="36.14" lengthAdjust="spacingAndGlyphs" fill="#333">0.95</text></svg></body></html>
